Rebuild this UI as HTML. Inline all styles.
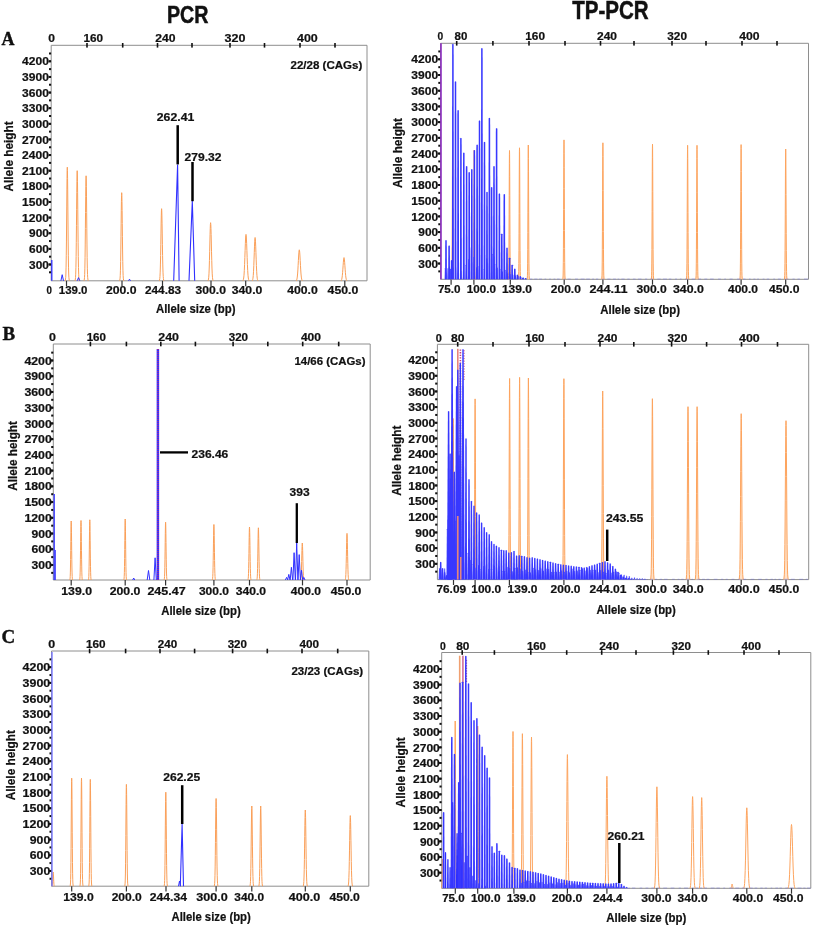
<!DOCTYPE html><html><head><meta charset="utf-8"><style>html,body{margin:0;padding:0;background:#fff;}svg{display:block;}</style></head><body>
<svg width="815" height="926" viewBox="0 0 815 926">
<rect width="815" height="926" fill="#fff"/>
<text x="166.9" y="22.9" font-family="'Liberation Sans', Arial, sans-serif" font-size="24.3" font-weight="bold" text-anchor="start" fill="#111" textLength="41.5" lengthAdjust="spacingAndGlyphs" stroke="#111" stroke-width="0.5">PCR</text>
<text x="572.3" y="19.3" font-family="'Liberation Sans', Arial, sans-serif" font-size="25" font-weight="bold" text-anchor="start" fill="#111" textLength="76.4" lengthAdjust="spacingAndGlyphs" stroke="#111" stroke-width="0.5">TP-PCR</text>
<line x1="51.20" y1="45.30" x2="367.00" y2="45.30" stroke="#8e8e8e" stroke-width="1"/>
<line x1="367.00" y1="45.30" x2="367.00" y2="280.80" stroke="#8e8e8e" stroke-width="1"/>
<line x1="51.20" y1="280.80" x2="367.00" y2="280.80" stroke="#8e8e8e" stroke-width="1"/>
<line x1="51.20" y1="45.30" x2="51.20" y2="280.80" stroke="#8e8e8e" stroke-width="1"/>
<rect x="49.00" y="52.48" width="2.1" height="2.0" fill="#111"/>
<rect x="49.00" y="60.30" width="2.1" height="2.0" fill="#111"/>
<rect x="49.00" y="68.11" width="2.1" height="2.0" fill="#111"/>
<rect x="49.00" y="75.93" width="2.1" height="2.0" fill="#111"/>
<rect x="49.00" y="83.74" width="2.1" height="2.0" fill="#111"/>
<rect x="49.00" y="91.56" width="2.1" height="2.0" fill="#111"/>
<rect x="49.00" y="99.37" width="2.1" height="2.0" fill="#111"/>
<rect x="49.00" y="107.19" width="2.1" height="2.0" fill="#111"/>
<rect x="49.00" y="115.00" width="2.1" height="2.0" fill="#111"/>
<rect x="49.00" y="122.82" width="2.1" height="2.0" fill="#111"/>
<rect x="49.00" y="130.63" width="2.1" height="2.0" fill="#111"/>
<rect x="49.00" y="138.45" width="2.1" height="2.0" fill="#111"/>
<rect x="49.00" y="146.26" width="2.1" height="2.0" fill="#111"/>
<rect x="49.00" y="154.08" width="2.1" height="2.0" fill="#111"/>
<rect x="49.00" y="161.89" width="2.1" height="2.0" fill="#111"/>
<rect x="49.00" y="169.71" width="2.1" height="2.0" fill="#111"/>
<rect x="49.00" y="177.52" width="2.1" height="2.0" fill="#111"/>
<rect x="49.00" y="185.34" width="2.1" height="2.0" fill="#111"/>
<rect x="49.00" y="193.15" width="2.1" height="2.0" fill="#111"/>
<rect x="49.00" y="200.97" width="2.1" height="2.0" fill="#111"/>
<rect x="49.00" y="208.78" width="2.1" height="2.0" fill="#111"/>
<rect x="49.00" y="216.60" width="2.1" height="2.0" fill="#111"/>
<rect x="49.00" y="224.41" width="2.1" height="2.0" fill="#111"/>
<rect x="49.00" y="232.23" width="2.1" height="2.0" fill="#111"/>
<rect x="49.00" y="240.04" width="2.1" height="2.0" fill="#111"/>
<rect x="49.00" y="247.86" width="2.1" height="2.0" fill="#111"/>
<rect x="49.00" y="255.67" width="2.1" height="2.0" fill="#111"/>
<rect x="49.00" y="263.49" width="2.1" height="2.0" fill="#111"/>
<rect x="49.00" y="271.30" width="2.1" height="2.0" fill="#111"/>
<rect x="48.50" y="60.40" width="2.4" height="1.8" fill="#111"/>
<text x="48.9" y="65.4" font-family="'Liberation Sans', Arial, sans-serif" font-size="11" font-weight="bold" text-anchor="end" fill="#111" textLength="26.8" lengthAdjust="spacingAndGlyphs" stroke="#111" stroke-width="0.22">4200</text>
<rect x="48.50" y="76.03" width="2.4" height="1.8" fill="#111"/>
<text x="48.9" y="81.0" font-family="'Liberation Sans', Arial, sans-serif" font-size="11" font-weight="bold" text-anchor="end" fill="#111" textLength="26.8" lengthAdjust="spacingAndGlyphs" stroke="#111" stroke-width="0.22">3900</text>
<rect x="48.50" y="91.66" width="2.4" height="1.8" fill="#111"/>
<text x="48.9" y="96.7" font-family="'Liberation Sans', Arial, sans-serif" font-size="11" font-weight="bold" text-anchor="end" fill="#111" textLength="26.8" lengthAdjust="spacingAndGlyphs" stroke="#111" stroke-width="0.22">3600</text>
<rect x="48.50" y="107.29" width="2.4" height="1.8" fill="#111"/>
<text x="48.9" y="112.3" font-family="'Liberation Sans', Arial, sans-serif" font-size="11" font-weight="bold" text-anchor="end" fill="#111" textLength="26.8" lengthAdjust="spacingAndGlyphs" stroke="#111" stroke-width="0.22">3300</text>
<rect x="48.50" y="122.92" width="2.4" height="1.8" fill="#111"/>
<text x="48.9" y="127.9" font-family="'Liberation Sans', Arial, sans-serif" font-size="11" font-weight="bold" text-anchor="end" fill="#111" textLength="26.8" lengthAdjust="spacingAndGlyphs" stroke="#111" stroke-width="0.22">3000</text>
<rect x="48.50" y="138.55" width="2.4" height="1.8" fill="#111"/>
<text x="48.9" y="143.5" font-family="'Liberation Sans', Arial, sans-serif" font-size="11" font-weight="bold" text-anchor="end" fill="#111" textLength="26.8" lengthAdjust="spacingAndGlyphs" stroke="#111" stroke-width="0.22">2700</text>
<rect x="48.50" y="154.18" width="2.4" height="1.8" fill="#111"/>
<text x="48.9" y="159.2" font-family="'Liberation Sans', Arial, sans-serif" font-size="11" font-weight="bold" text-anchor="end" fill="#111" textLength="26.8" lengthAdjust="spacingAndGlyphs" stroke="#111" stroke-width="0.22">2400</text>
<rect x="48.50" y="169.81" width="2.4" height="1.8" fill="#111"/>
<text x="48.9" y="174.8" font-family="'Liberation Sans', Arial, sans-serif" font-size="11" font-weight="bold" text-anchor="end" fill="#111" textLength="26.8" lengthAdjust="spacingAndGlyphs" stroke="#111" stroke-width="0.22">2100</text>
<rect x="48.50" y="185.44" width="2.4" height="1.8" fill="#111"/>
<text x="48.9" y="190.4" font-family="'Liberation Sans', Arial, sans-serif" font-size="11" font-weight="bold" text-anchor="end" fill="#111" textLength="26.8" lengthAdjust="spacingAndGlyphs" stroke="#111" stroke-width="0.22">1800</text>
<rect x="48.50" y="201.07" width="2.4" height="1.8" fill="#111"/>
<text x="48.9" y="206.1" font-family="'Liberation Sans', Arial, sans-serif" font-size="11" font-weight="bold" text-anchor="end" fill="#111" textLength="26.8" lengthAdjust="spacingAndGlyphs" stroke="#111" stroke-width="0.22">1500</text>
<rect x="48.50" y="216.70" width="2.4" height="1.8" fill="#111"/>
<text x="48.9" y="221.7" font-family="'Liberation Sans', Arial, sans-serif" font-size="11" font-weight="bold" text-anchor="end" fill="#111" textLength="26.8" lengthAdjust="spacingAndGlyphs" stroke="#111" stroke-width="0.22">1200</text>
<rect x="48.50" y="232.33" width="2.4" height="1.8" fill="#111"/>
<text x="48.9" y="237.3" font-family="'Liberation Sans', Arial, sans-serif" font-size="11" font-weight="bold" text-anchor="end" fill="#111" textLength="19.8" lengthAdjust="spacingAndGlyphs" stroke="#111" stroke-width="0.22">900</text>
<rect x="48.50" y="247.96" width="2.4" height="1.8" fill="#111"/>
<text x="48.9" y="253.0" font-family="'Liberation Sans', Arial, sans-serif" font-size="11" font-weight="bold" text-anchor="end" fill="#111" textLength="19.8" lengthAdjust="spacingAndGlyphs" stroke="#111" stroke-width="0.22">600</text>
<rect x="48.50" y="263.59" width="2.4" height="1.8" fill="#111"/>
<text x="48.9" y="268.6" font-family="'Liberation Sans', Arial, sans-serif" font-size="11" font-weight="bold" text-anchor="end" fill="#111" textLength="19.8" lengthAdjust="spacingAndGlyphs" stroke="#111" stroke-width="0.22">300</text>
<rect x="86.20" y="43.00" width="1.6" height="4.6" fill="#111"/>
<rect x="121.90" y="43.00" width="1.6" height="4.6" fill="#111"/>
<rect x="156.70" y="43.00" width="1.6" height="4.6" fill="#111"/>
<rect x="191.20" y="43.00" width="1.6" height="4.6" fill="#111"/>
<rect x="229.20" y="43.00" width="1.6" height="4.6" fill="#111"/>
<rect x="263.70" y="43.00" width="1.6" height="4.6" fill="#111"/>
<rect x="299.20" y="43.00" width="1.6" height="4.6" fill="#111"/>
<rect x="334.20" y="43.00" width="1.6" height="4.6" fill="#111"/>
<text x="48.2" y="42.0" font-family="'Liberation Sans', Arial, sans-serif" font-size="11" font-weight="bold" text-anchor="start" fill="#111" textLength="6.7" lengthAdjust="spacingAndGlyphs" stroke="#111" stroke-width="0.22">0</text>
<text x="83.4" y="42.0" font-family="'Liberation Sans', Arial, sans-serif" font-size="11" font-weight="bold" text-anchor="start" fill="#111" textLength="19.6" lengthAdjust="spacingAndGlyphs" stroke="#111" stroke-width="0.22">160</text>
<text x="155.3" y="42.0" font-family="'Liberation Sans', Arial, sans-serif" font-size="11" font-weight="bold" text-anchor="start" fill="#111" textLength="20.3" lengthAdjust="spacingAndGlyphs" stroke="#111" stroke-width="0.22">240</text>
<text x="224.5" y="42.0" font-family="'Liberation Sans', Arial, sans-serif" font-size="11" font-weight="bold" text-anchor="start" fill="#111" textLength="20.9" lengthAdjust="spacingAndGlyphs" stroke="#111" stroke-width="0.22">320</text>
<text x="297.0" y="42.0" font-family="'Liberation Sans', Arial, sans-serif" font-size="11" font-weight="bold" text-anchor="start" fill="#111" textLength="20.8" lengthAdjust="spacingAndGlyphs" stroke="#111" stroke-width="0.22">400</text>
<line x1="66.50" y1="280.80" x2="66.50" y2="286.20" stroke="#333" stroke-width="1.2"/>
<line x1="122.00" y1="280.80" x2="122.00" y2="286.20" stroke="#333" stroke-width="1.2"/>
<line x1="162.50" y1="280.80" x2="162.50" y2="286.20" stroke="#333" stroke-width="1.2"/>
<line x1="211.00" y1="280.80" x2="211.00" y2="286.20" stroke="#333" stroke-width="1.2"/>
<line x1="245.70" y1="280.80" x2="245.70" y2="286.20" stroke="#333" stroke-width="1.2"/>
<line x1="300.00" y1="280.80" x2="300.00" y2="286.20" stroke="#333" stroke-width="1.2"/>
<line x1="344.80" y1="280.80" x2="344.80" y2="286.20" stroke="#333" stroke-width="1.2"/>
<text x="46.6" y="293.8" font-family="'Liberation Sans', Arial, sans-serif" font-size="11" font-weight="bold" text-anchor="start" fill="#111" textLength="5.4" lengthAdjust="spacingAndGlyphs" stroke="#111" stroke-width="0.22">0</text>
<text x="58.8" y="293.8" font-family="'Liberation Sans', Arial, sans-serif" font-size="11" font-weight="bold" text-anchor="start" fill="#111" textLength="28.7" lengthAdjust="spacingAndGlyphs" stroke="#111" stroke-width="0.22">139.0</text>
<text x="106.0" y="293.8" font-family="'Liberation Sans', Arial, sans-serif" font-size="11" font-weight="bold" text-anchor="start" fill="#111" textLength="30.5" lengthAdjust="spacingAndGlyphs" stroke="#111" stroke-width="0.22">200.0</text>
<text x="145.0" y="293.8" font-family="'Liberation Sans', Arial, sans-serif" font-size="11" font-weight="bold" text-anchor="start" fill="#111" textLength="36.0" lengthAdjust="spacingAndGlyphs" stroke="#111" stroke-width="0.22">244.83</text>
<text x="195.6" y="293.8" font-family="'Liberation Sans', Arial, sans-serif" font-size="11" font-weight="bold" text-anchor="start" fill="#111" textLength="30.4" lengthAdjust="spacingAndGlyphs" stroke="#111" stroke-width="0.22">300.0</text>
<text x="231.8" y="293.8" font-family="'Liberation Sans', Arial, sans-serif" font-size="11" font-weight="bold" text-anchor="start" fill="#111" textLength="30.5" lengthAdjust="spacingAndGlyphs" stroke="#111" stroke-width="0.22">340.0</text>
<text x="287.2" y="293.8" font-family="'Liberation Sans', Arial, sans-serif" font-size="11" font-weight="bold" text-anchor="start" fill="#111" textLength="30.5" lengthAdjust="spacingAndGlyphs" stroke="#111" stroke-width="0.22">400.0</text>
<text x="327.6" y="293.8" font-family="'Liberation Sans', Arial, sans-serif" font-size="11" font-weight="bold" text-anchor="start" fill="#111" textLength="30.6" lengthAdjust="spacingAndGlyphs" stroke="#111" stroke-width="0.22">450.0</text>
<text x="156.0" y="313.2" font-family="'Liberation Sans', Arial, sans-serif" font-size="12" font-weight="bold" text-anchor="start" fill="#111" textLength="79.5" lengthAdjust="spacingAndGlyphs" stroke="#111" stroke-width="0.22">Allele size (bp)</text>
<text transform="translate(13.0,191.5) rotate(-90)" x="0" y="0" font-family="'Liberation Sans', Arial, sans-serif" font-size="12" font-weight="bold" fill="#111" stroke="#111" stroke-width="0.22" textLength="70.2" lengthAdjust="spacingAndGlyphs">Allele height</text>
<polyline points="65.30,280.80 65.72,277.39 65.89,273.98 66.07,267.17 66.26,255.81 66.44,241.04 66.60,224.00 66.75,206.96 66.90,189.92 67.03,178.56 67.15,170.61 67.30,167.20 67.45,170.61 67.57,178.56 67.70,189.92 67.85,206.96 68.00,224.00 68.16,241.04 68.34,255.81 68.53,267.17 68.71,273.98 68.88,277.39 69.30,280.80" fill="none" stroke="#fa9f58" stroke-width="1.0" stroke-linejoin="round"/>
<polyline points="75.10,280.80 75.54,277.50 75.71,274.19 75.91,267.59 76.11,256.58 76.29,242.27 76.46,225.75 76.62,209.24 76.78,192.72 76.91,181.71 77.05,174.00 77.20,170.70 77.35,174.00 77.49,181.71 77.62,192.72 77.78,209.24 77.94,225.75 78.11,242.27 78.29,256.58 78.49,267.59 78.69,274.19 78.86,277.50 79.30,280.80" fill="none" stroke="#fa9f58" stroke-width="1.0" stroke-linejoin="round"/>
<polyline points="84.10,280.80 84.51,277.65 84.68,274.50 84.87,268.20 85.06,257.70 85.23,244.05 85.39,228.30 85.54,212.55 85.70,196.80 85.82,186.30 85.95,178.95 86.10,175.80 86.25,178.95 86.38,186.30 86.50,196.80 86.66,212.55 86.81,228.30 86.97,244.05 87.14,257.70 87.33,268.20 87.52,274.50 87.69,277.65 88.10,280.80" fill="none" stroke="#fa9f58" stroke-width="1.0" stroke-linejoin="round"/>
<polyline points="119.70,280.80 120.09,278.16 120.26,275.51 120.45,270.23 120.64,261.42 120.82,249.97 120.98,236.75 121.13,223.53 121.29,210.32 121.42,201.51 121.55,195.34 121.70,192.70 121.85,195.34 121.98,201.51 122.11,210.32 122.27,223.53 122.42,236.75 122.58,249.97 122.76,261.42 122.95,270.23 123.14,275.51 123.31,278.16 123.70,280.80" fill="none" stroke="#fa9f58" stroke-width="1.0" stroke-linejoin="round"/>
<polyline points="159.40,280.80 159.79,278.64 159.98,276.47 160.19,272.15 160.41,264.94 160.61,255.56 160.80,244.75 160.97,233.94 161.14,223.12 161.29,215.91 161.43,210.86 161.60,208.70 161.77,210.86 161.91,215.91 162.06,223.12 162.23,233.94 162.40,244.75 162.59,255.56 162.79,264.94 163.01,272.15 163.22,276.47 163.41,278.64 163.80,280.80" fill="none" stroke="#fa9f58" stroke-width="1.0" stroke-linejoin="round"/>
<polyline points="208.10,280.80 208.50,279.06 208.72,277.31 208.97,273.83 209.22,268.02 209.45,260.47 209.67,251.75 209.86,243.03 210.07,234.32 210.24,228.51 210.40,224.44 210.60,222.70 210.80,224.44 210.96,228.51 211.13,234.32 211.34,243.03 211.53,251.75 211.75,260.47 211.98,268.02 212.23,273.83 212.48,277.31 212.70,279.06 213.10,280.80" fill="none" stroke="#fa9f58" stroke-width="1.0" stroke-linejoin="round"/>
<polyline points="243.00,280.80 243.42,279.41 243.69,278.02 244.00,275.23 244.31,270.59 244.59,264.56 244.85,257.60 245.10,250.64 245.35,243.68 245.55,239.04 245.76,235.79 246.00,234.40 246.24,235.79 246.45,239.04 246.65,243.68 246.90,250.64 247.15,257.60 247.41,264.56 247.69,270.59 248.00,275.23 248.31,278.02 248.58,279.41 249.00,280.80" fill="none" stroke="#fa9f58" stroke-width="1.0" stroke-linejoin="round"/>
<polyline points="252.35,280.80 252.72,279.50 252.97,278.20 253.25,275.60 253.54,271.27 253.80,265.64 254.04,259.15 254.27,252.66 254.50,246.16 254.69,241.83 254.88,238.80 255.10,237.50 255.32,238.80 255.51,241.83 255.70,246.16 255.93,252.66 256.16,259.15 256.40,265.64 256.66,271.27 256.95,275.60 257.23,278.20 257.48,279.50 257.85,280.80" fill="none" stroke="#fa9f58" stroke-width="1.0" stroke-linejoin="round"/>
<polyline points="296.40,280.80 296.70,279.87 296.97,278.94 297.28,277.08 297.59,273.98 297.88,269.95 298.14,265.30 298.39,260.65 298.64,256.00 298.85,252.90 299.06,250.73 299.30,249.80 299.54,250.73 299.75,252.90 299.96,256.00 300.21,260.65 300.46,265.30 300.72,269.95 301.01,273.98 301.32,277.08 301.63,278.94 301.90,279.87 302.20,280.80" fill="none" stroke="#fa9f58" stroke-width="1.0" stroke-linejoin="round"/>
<polyline points="341.25,280.80 341.44,280.10 341.71,279.41 342.01,278.02 342.32,275.70 342.60,272.68 342.86,269.20 343.10,265.72 343.36,262.24 343.56,259.92 343.76,258.30 344.00,257.60 344.24,258.30 344.44,259.92 344.64,262.24 344.90,265.72 345.14,269.20 345.40,272.68 345.68,275.70 345.99,278.02 346.29,279.41 346.56,280.10 346.75,280.80" fill="none" stroke="#fa9f58" stroke-width="1.0" stroke-linejoin="round"/>
<line x1="51.80" y1="280.80" x2="51.80" y2="260.00" stroke="#3030ff" stroke-width="1.3"/>
<polyline points="60.90,280.80 62.20,274.70 63.50,280.80" fill="none" stroke="#3030ff" stroke-width="1.0" stroke-linejoin="miter" opacity="1"/>
<polyline points="77.20,280.80 78.50,277.60 79.80,280.80" fill="none" stroke="#3030ff" stroke-width="1.0" stroke-linejoin="miter" opacity="1"/>
<polyline points="128.50,280.80 129.50,279.20 130.50,280.80" fill="none" stroke="#3030ff" stroke-width="1.0" stroke-linejoin="miter" opacity="1"/>
<polyline points="173.70,280.80 177.60,164.40 179.10,280.80" fill="none" stroke="#3030ff" stroke-width="1.1" stroke-linejoin="miter" opacity="1"/>
<polyline points="189.00,280.80 192.30,201.00 194.70,280.80" fill="none" stroke="#3030ff" stroke-width="1.1" stroke-linejoin="miter" opacity="1"/>
<line x1="177.70" y1="125.20" x2="177.70" y2="164.40" stroke="#000" stroke-width="2.5"/>
<line x1="192.50" y1="162.00" x2="192.50" y2="201.20" stroke="#000" stroke-width="2.5"/>
<text x="156.8" y="120.8" font-family="'Liberation Sans', Arial, sans-serif" font-size="11" font-weight="bold" text-anchor="start" fill="#111" textLength="37.5" lengthAdjust="spacingAndGlyphs" stroke="#111" stroke-width="0.22">262.41</text>
<text x="184.6" y="161.1" font-family="'Liberation Sans', Arial, sans-serif" font-size="11" font-weight="bold" text-anchor="start" fill="#111" textLength="36.9" lengthAdjust="spacingAndGlyphs" stroke="#111" stroke-width="0.22">279.32</text>
<text x="290.5" y="68.9" font-family="'Liberation Sans', Arial, sans-serif" font-size="11" font-weight="bold" text-anchor="start" fill="#111" textLength="71.8" lengthAdjust="spacingAndGlyphs" stroke="#111" stroke-width="0.22">22/28 (CAGs)</text>
<text x="1.4" y="45.2" font-family="'Liberation Serif', 'Times New Roman', serif" font-size="19" font-weight="bold" text-anchor="start" fill="#111" textLength="13.0" lengthAdjust="spacingAndGlyphs" stroke="#000" stroke-width="0.35">A</text>
<line x1="53.30" y1="344.00" x2="370.20" y2="344.00" stroke="#8e8e8e" stroke-width="1"/>
<line x1="370.20" y1="344.00" x2="370.20" y2="580.00" stroke="#8e8e8e" stroke-width="1"/>
<line x1="53.30" y1="580.00" x2="370.20" y2="580.00" stroke="#8e8e8e" stroke-width="1"/>
<line x1="53.30" y1="344.00" x2="53.30" y2="580.00" stroke="#8e8e8e" stroke-width="1"/>
<rect x="51.20" y="351.63" width="2.1" height="2.0" fill="#111"/>
<rect x="51.20" y="359.50" width="2.1" height="2.0" fill="#111"/>
<rect x="51.20" y="367.37" width="2.1" height="2.0" fill="#111"/>
<rect x="51.20" y="375.23" width="2.1" height="2.0" fill="#111"/>
<rect x="51.20" y="383.10" width="2.1" height="2.0" fill="#111"/>
<rect x="51.20" y="390.96" width="2.1" height="2.0" fill="#111"/>
<rect x="51.20" y="398.83" width="2.1" height="2.0" fill="#111"/>
<rect x="51.20" y="406.69" width="2.1" height="2.0" fill="#111"/>
<rect x="51.20" y="414.56" width="2.1" height="2.0" fill="#111"/>
<rect x="51.20" y="422.42" width="2.1" height="2.0" fill="#111"/>
<rect x="51.20" y="430.29" width="2.1" height="2.0" fill="#111"/>
<rect x="51.20" y="438.15" width="2.1" height="2.0" fill="#111"/>
<rect x="51.20" y="446.02" width="2.1" height="2.0" fill="#111"/>
<rect x="51.20" y="453.88" width="2.1" height="2.0" fill="#111"/>
<rect x="51.20" y="461.75" width="2.1" height="2.0" fill="#111"/>
<rect x="51.20" y="469.61" width="2.1" height="2.0" fill="#111"/>
<rect x="51.20" y="477.48" width="2.1" height="2.0" fill="#111"/>
<rect x="51.20" y="485.34" width="2.1" height="2.0" fill="#111"/>
<rect x="51.20" y="493.21" width="2.1" height="2.0" fill="#111"/>
<rect x="51.20" y="501.07" width="2.1" height="2.0" fill="#111"/>
<rect x="51.20" y="508.94" width="2.1" height="2.0" fill="#111"/>
<rect x="51.20" y="516.80" width="2.1" height="2.0" fill="#111"/>
<rect x="51.20" y="524.67" width="2.1" height="2.0" fill="#111"/>
<rect x="51.20" y="532.53" width="2.1" height="2.0" fill="#111"/>
<rect x="51.20" y="540.40" width="2.1" height="2.0" fill="#111"/>
<rect x="51.20" y="548.26" width="2.1" height="2.0" fill="#111"/>
<rect x="51.20" y="556.13" width="2.1" height="2.0" fill="#111"/>
<rect x="51.20" y="563.99" width="2.1" height="2.0" fill="#111"/>
<rect x="51.20" y="571.86" width="2.1" height="2.0" fill="#111"/>
<rect x="50.70" y="359.60" width="2.4" height="1.8" fill="#111"/>
<text x="51.8" y="364.6" font-family="'Liberation Sans', Arial, sans-serif" font-size="11" font-weight="bold" text-anchor="end" fill="#111" textLength="27.4" lengthAdjust="spacingAndGlyphs" stroke="#111" stroke-width="0.22">4200</text>
<rect x="50.70" y="375.33" width="2.4" height="1.8" fill="#111"/>
<text x="51.8" y="380.3" font-family="'Liberation Sans', Arial, sans-serif" font-size="11" font-weight="bold" text-anchor="end" fill="#111" textLength="27.4" lengthAdjust="spacingAndGlyphs" stroke="#111" stroke-width="0.22">3900</text>
<rect x="50.70" y="391.06" width="2.4" height="1.8" fill="#111"/>
<text x="51.8" y="396.1" font-family="'Liberation Sans', Arial, sans-serif" font-size="11" font-weight="bold" text-anchor="end" fill="#111" textLength="27.4" lengthAdjust="spacingAndGlyphs" stroke="#111" stroke-width="0.22">3600</text>
<rect x="50.70" y="406.79" width="2.4" height="1.8" fill="#111"/>
<text x="51.8" y="411.8" font-family="'Liberation Sans', Arial, sans-serif" font-size="11" font-weight="bold" text-anchor="end" fill="#111" textLength="27.4" lengthAdjust="spacingAndGlyphs" stroke="#111" stroke-width="0.22">3300</text>
<rect x="50.70" y="422.52" width="2.4" height="1.8" fill="#111"/>
<text x="51.8" y="427.5" font-family="'Liberation Sans', Arial, sans-serif" font-size="11" font-weight="bold" text-anchor="end" fill="#111" textLength="27.4" lengthAdjust="spacingAndGlyphs" stroke="#111" stroke-width="0.22">3000</text>
<rect x="50.70" y="438.25" width="2.4" height="1.8" fill="#111"/>
<text x="51.8" y="443.2" font-family="'Liberation Sans', Arial, sans-serif" font-size="11" font-weight="bold" text-anchor="end" fill="#111" textLength="27.4" lengthAdjust="spacingAndGlyphs" stroke="#111" stroke-width="0.22">2700</text>
<rect x="50.70" y="453.98" width="2.4" height="1.8" fill="#111"/>
<text x="51.8" y="459.0" font-family="'Liberation Sans', Arial, sans-serif" font-size="11" font-weight="bold" text-anchor="end" fill="#111" textLength="27.4" lengthAdjust="spacingAndGlyphs" stroke="#111" stroke-width="0.22">2400</text>
<rect x="50.70" y="469.71" width="2.4" height="1.8" fill="#111"/>
<text x="51.8" y="474.7" font-family="'Liberation Sans', Arial, sans-serif" font-size="11" font-weight="bold" text-anchor="end" fill="#111" textLength="27.4" lengthAdjust="spacingAndGlyphs" stroke="#111" stroke-width="0.22">2100</text>
<rect x="50.70" y="485.44" width="2.4" height="1.8" fill="#111"/>
<text x="51.8" y="490.4" font-family="'Liberation Sans', Arial, sans-serif" font-size="11" font-weight="bold" text-anchor="end" fill="#111" textLength="27.4" lengthAdjust="spacingAndGlyphs" stroke="#111" stroke-width="0.22">1800</text>
<rect x="50.70" y="501.17" width="2.4" height="1.8" fill="#111"/>
<text x="51.8" y="506.2" font-family="'Liberation Sans', Arial, sans-serif" font-size="11" font-weight="bold" text-anchor="end" fill="#111" textLength="27.4" lengthAdjust="spacingAndGlyphs" stroke="#111" stroke-width="0.22">1500</text>
<rect x="50.70" y="516.90" width="2.4" height="1.8" fill="#111"/>
<text x="51.8" y="521.9" font-family="'Liberation Sans', Arial, sans-serif" font-size="11" font-weight="bold" text-anchor="end" fill="#111" textLength="27.4" lengthAdjust="spacingAndGlyphs" stroke="#111" stroke-width="0.22">1200</text>
<rect x="50.70" y="532.63" width="2.4" height="1.8" fill="#111"/>
<text x="51.8" y="537.6" font-family="'Liberation Sans', Arial, sans-serif" font-size="11" font-weight="bold" text-anchor="end" fill="#111" textLength="20.3" lengthAdjust="spacingAndGlyphs" stroke="#111" stroke-width="0.22">900</text>
<rect x="50.70" y="548.36" width="2.4" height="1.8" fill="#111"/>
<text x="51.8" y="553.4" font-family="'Liberation Sans', Arial, sans-serif" font-size="11" font-weight="bold" text-anchor="end" fill="#111" textLength="20.3" lengthAdjust="spacingAndGlyphs" stroke="#111" stroke-width="0.22">600</text>
<rect x="50.70" y="564.09" width="2.4" height="1.8" fill="#111"/>
<text x="51.8" y="569.1" font-family="'Liberation Sans', Arial, sans-serif" font-size="11" font-weight="bold" text-anchor="end" fill="#111" textLength="20.3" lengthAdjust="spacingAndGlyphs" stroke="#111" stroke-width="0.22">300</text>
<rect x="89.60" y="341.70" width="1.6" height="4.6" fill="#111"/>
<rect x="125.60" y="341.70" width="1.6" height="4.6" fill="#111"/>
<rect x="160.00" y="341.70" width="1.6" height="4.6" fill="#111"/>
<rect x="194.60" y="341.70" width="1.6" height="4.6" fill="#111"/>
<rect x="232.30" y="341.70" width="1.6" height="4.6" fill="#111"/>
<rect x="267.00" y="341.70" width="1.6" height="4.6" fill="#111"/>
<rect x="301.90" y="341.70" width="1.6" height="4.6" fill="#111"/>
<rect x="337.90" y="341.70" width="1.6" height="4.6" fill="#111"/>
<text x="49.1" y="341.3" font-family="'Liberation Sans', Arial, sans-serif" font-size="11" font-weight="bold" text-anchor="start" fill="#111" textLength="6.9" lengthAdjust="spacingAndGlyphs" stroke="#111" stroke-width="0.22">0</text>
<text x="86.7" y="341.3" font-family="'Liberation Sans', Arial, sans-serif" font-size="11" font-weight="bold" text-anchor="start" fill="#111" textLength="19.3" lengthAdjust="spacingAndGlyphs" stroke="#111" stroke-width="0.22">160</text>
<text x="158.3" y="341.3" font-family="'Liberation Sans', Arial, sans-serif" font-size="11" font-weight="bold" text-anchor="start" fill="#111" textLength="20.7" lengthAdjust="spacingAndGlyphs" stroke="#111" stroke-width="0.22">240</text>
<text x="228.7" y="341.3" font-family="'Liberation Sans', Arial, sans-serif" font-size="11" font-weight="bold" text-anchor="start" fill="#111" textLength="19.4" lengthAdjust="spacingAndGlyphs" stroke="#111" stroke-width="0.22">320</text>
<text x="300.9" y="341.3" font-family="'Liberation Sans', Arial, sans-serif" font-size="11" font-weight="bold" text-anchor="start" fill="#111" textLength="20.1" lengthAdjust="spacingAndGlyphs" stroke="#111" stroke-width="0.22">400</text>
<line x1="71.20" y1="580.00" x2="71.20" y2="585.40" stroke="#333" stroke-width="1.2"/>
<line x1="125.20" y1="580.00" x2="125.20" y2="585.40" stroke="#333" stroke-width="1.2"/>
<line x1="165.60" y1="580.00" x2="165.60" y2="585.40" stroke="#333" stroke-width="1.2"/>
<line x1="213.90" y1="580.00" x2="213.90" y2="585.40" stroke="#333" stroke-width="1.2"/>
<line x1="249.50" y1="580.00" x2="249.50" y2="585.40" stroke="#333" stroke-width="1.2"/>
<line x1="302.50" y1="580.00" x2="302.50" y2="585.40" stroke="#333" stroke-width="1.2"/>
<line x1="347.00" y1="580.00" x2="347.00" y2="585.40" stroke="#333" stroke-width="1.2"/>
<text x="61.3" y="594.5" font-family="'Liberation Sans', Arial, sans-serif" font-size="11" font-weight="bold" text-anchor="start" fill="#111" textLength="30.7" lengthAdjust="spacingAndGlyphs" stroke="#111" stroke-width="0.22">139.0</text>
<text x="109.7" y="594.5" font-family="'Liberation Sans', Arial, sans-serif" font-size="11" font-weight="bold" text-anchor="start" fill="#111" textLength="30.7" lengthAdjust="spacingAndGlyphs" stroke="#111" stroke-width="0.22">200.0</text>
<text x="147.4" y="594.5" font-family="'Liberation Sans', Arial, sans-serif" font-size="11" font-weight="bold" text-anchor="start" fill="#111" textLength="38.2" lengthAdjust="spacingAndGlyphs" stroke="#111" stroke-width="0.22">245.47</text>
<text x="198.9" y="594.5" font-family="'Liberation Sans', Arial, sans-serif" font-size="11" font-weight="bold" text-anchor="start" fill="#111" textLength="30.1" lengthAdjust="spacingAndGlyphs" stroke="#111" stroke-width="0.22">300.0</text>
<text x="235.7" y="594.5" font-family="'Liberation Sans', Arial, sans-serif" font-size="11" font-weight="bold" text-anchor="start" fill="#111" textLength="30.3" lengthAdjust="spacingAndGlyphs" stroke="#111" stroke-width="0.22">340.0</text>
<text x="290.8" y="594.5" font-family="'Liberation Sans', Arial, sans-serif" font-size="11" font-weight="bold" text-anchor="start" fill="#111" textLength="30.2" lengthAdjust="spacingAndGlyphs" stroke="#111" stroke-width="0.22">400.0</text>
<text x="330.8" y="594.5" font-family="'Liberation Sans', Arial, sans-serif" font-size="11" font-weight="bold" text-anchor="start" fill="#111" textLength="30.6" lengthAdjust="spacingAndGlyphs" stroke="#111" stroke-width="0.22">450.0</text>
<text x="161.2" y="614.8" font-family="'Liberation Sans', Arial, sans-serif" font-size="12" font-weight="bold" text-anchor="start" fill="#111" textLength="79.5" lengthAdjust="spacingAndGlyphs" stroke="#111" stroke-width="0.22">Allele size (bp)</text>
<text transform="translate(16.8,490.7) rotate(-90)" x="0" y="0" font-family="'Liberation Sans', Arial, sans-serif" font-size="12" font-weight="bold" fill="#111" stroke="#111" stroke-width="0.22" textLength="69.6" lengthAdjust="spacingAndGlyphs">Allele height</text>
<polyline points="69.90,580.00 70.11,578.23 70.22,576.46 70.35,572.92 70.48,567.02 70.60,559.35 70.72,550.50 70.82,541.65 70.93,532.80 71.01,526.90 71.10,522.77 71.20,521.00 71.30,522.77 71.39,526.90 71.47,532.80 71.58,541.65 71.68,550.50 71.80,559.35 71.92,567.02 72.05,572.92 72.18,576.46 72.29,578.23 72.50,580.00" fill="none" stroke="#fa9f58" stroke-width="1.0" stroke-linejoin="round"/>
<polyline points="79.70,580.00 79.91,578.22 80.03,576.43 80.15,572.86 80.28,566.91 80.40,559.17 80.52,550.25 80.62,541.33 80.73,532.40 80.81,526.45 80.90,522.28 81.00,520.50 81.10,522.28 81.19,526.45 81.27,532.40 81.38,541.33 81.48,550.25 81.60,559.17 81.72,566.91 81.85,572.86 81.97,576.43 82.09,578.22 82.30,580.00" fill="none" stroke="#fa9f58" stroke-width="1.0" stroke-linejoin="round"/>
<polyline points="88.50,580.00 88.71,578.19 88.83,576.39 88.95,572.78 89.09,566.76 89.21,558.93 89.32,549.90 89.42,540.87 89.53,531.84 89.61,525.82 89.70,521.61 89.80,519.80 89.90,521.61 89.99,525.82 90.07,531.84 90.18,540.87 90.28,549.90 90.39,558.93 90.51,566.76 90.65,572.78 90.77,576.39 90.89,578.19 91.10,580.00" fill="none" stroke="#fa9f58" stroke-width="1.0" stroke-linejoin="round"/>
<polyline points="123.90,580.00 124.11,578.17 124.23,576.34 124.36,572.68 124.49,566.58 124.61,558.65 124.72,549.50 124.82,540.35 124.93,531.20 125.01,525.10 125.10,520.83 125.20,519.00 125.30,520.83 125.39,525.10 125.47,531.20 125.58,540.35 125.68,549.50 125.79,558.65 125.91,566.58 126.04,572.68 126.17,576.34 126.29,578.17 126.50,580.00" fill="none" stroke="#fa9f58" stroke-width="1.0" stroke-linejoin="round"/>
<polyline points="164.20,580.00 164.42,578.27 164.55,576.53 164.69,573.06 164.83,567.28 164.96,559.77 165.08,551.10 165.19,542.43 165.30,533.76 165.40,527.98 165.49,523.93 165.60,522.20 165.71,523.93 165.80,527.98 165.90,533.76 166.01,542.43 166.12,551.10 166.24,559.77 166.37,567.28 166.51,573.06 166.65,576.53 166.78,578.27 167.00,580.00" fill="none" stroke="#fa9f58" stroke-width="1.0" stroke-linejoin="round"/>
<polyline points="212.40,580.00 212.64,578.34 212.77,576.67 212.92,573.34 213.07,567.79 213.21,560.58 213.34,552.25 213.46,543.92 213.58,535.60 213.68,530.05 213.78,526.16 213.90,524.50 214.02,526.16 214.12,530.05 214.22,535.60 214.34,543.92 214.46,552.25 214.59,560.58 214.73,567.79 214.88,573.34 215.03,576.67 215.16,578.34 215.40,580.00" fill="none" stroke="#fa9f58" stroke-width="1.0" stroke-linejoin="round"/>
<polyline points="248.00,580.00 248.23,578.41 248.36,576.82 248.51,573.64 248.67,568.34 248.80,561.45 248.94,553.50 249.05,545.55 249.18,537.60 249.28,532.30 249.38,528.59 249.50,527.00 249.62,528.59 249.72,532.30 249.82,537.60 249.95,545.55 250.06,553.50 250.20,561.45 250.33,568.34 250.49,573.64 250.64,576.82 250.77,578.41 251.00,580.00" fill="none" stroke="#fa9f58" stroke-width="1.0" stroke-linejoin="round"/>
<polyline points="256.90,580.00 257.13,578.43 257.26,576.87 257.41,573.74 257.56,568.52 257.70,561.73 257.83,553.90 257.95,546.07 258.08,538.24 258.18,533.02 258.28,529.37 258.40,527.80 258.52,529.37 258.62,533.02 258.72,538.24 258.85,546.07 258.97,553.90 259.10,561.73 259.24,568.52 259.39,573.74 259.54,576.87 259.67,578.43 259.90,580.00" fill="none" stroke="#fa9f58" stroke-width="1.0" stroke-linejoin="round"/>
<polyline points="300.70,580.00 300.89,578.89 301.04,577.78 301.21,575.56 301.37,571.86 301.53,567.05 301.67,561.50 301.81,555.95 301.94,550.40 302.06,546.70 302.17,544.11 302.30,543.00 302.43,544.11 302.54,546.70 302.66,550.40 302.79,555.95 302.93,561.50 303.07,567.05 303.23,571.86 303.39,575.56 303.56,577.78 303.71,578.89 303.90,580.00" fill="none" stroke="#fa9f58" stroke-width="1.0" stroke-linejoin="round"/>
<polyline points="345.30,580.00 345.54,578.60 345.69,577.20 345.87,574.41 346.04,569.75 346.20,563.69 346.35,556.70 346.49,549.71 346.63,542.72 346.75,538.06 346.86,534.80 347.00,533.40 347.14,534.80 347.25,538.06 347.37,542.72 347.51,549.71 347.65,556.70 347.80,563.69 347.96,569.75 348.13,574.41 348.31,577.20 348.46,578.60 348.70,580.00" fill="none" stroke="#fa9f58" stroke-width="1.0" stroke-linejoin="round"/>
<line x1="54.20" y1="580.00" x2="54.20" y2="494.00" stroke="#3030ff" stroke-width="1.3"/>
<line x1="55.30" y1="580.00" x2="55.30" y2="550.00" stroke="#3030ff" stroke-width="1"/>
<polyline points="132.70,580.00 133.70,578.00 134.70,580.00" fill="none" stroke="#3030ff" stroke-width="1.0" stroke-linejoin="miter" opacity="1"/>
<polyline points="147.20,580.00 148.50,570.50 149.80,580.00" fill="none" stroke="#3030ff" stroke-width="1.0" stroke-linejoin="miter" opacity="1"/>
<polyline points="153.90,580.00 155.10,557.80 156.30,580.00" fill="none" stroke="#3030ff" stroke-width="1.0" stroke-linejoin="miter" opacity="1"/>
<line x1="157.90" y1="580.00" x2="157.90" y2="349.00" stroke="#3030ff" stroke-width="2.5"/>
<line x1="157.90" y1="580.00" x2="157.90" y2="349.00" stroke="#c02a80" stroke-width="1.3" stroke-dasharray="1,1"/>
<polyline points="285.40,580.00 286.60,577.40 287.80,580.00" fill="none" stroke="#3030ff" stroke-width="1.0" stroke-linejoin="miter" opacity="1"/>
<polyline points="287.60,580.00 288.80,574.40 290.00,580.00" fill="none" stroke="#3030ff" stroke-width="1.0" stroke-linejoin="miter" opacity="1"/>
<polyline points="290.20,580.00 291.40,567.30 292.60,580.00" fill="none" stroke="#3030ff" stroke-width="1.0" stroke-linejoin="miter" opacity="1"/>
<polyline points="292.90,580.00 294.10,552.70 295.30,580.00" fill="none" stroke="#3030ff" stroke-width="1.0" stroke-linejoin="miter" opacity="1"/>
<polyline points="295.50,580.00 296.70,543.00 297.90,580.00" fill="none" stroke="#3030ff" stroke-width="1.0" stroke-linejoin="miter" opacity="1"/>
<polyline points="298.00,580.00 299.20,554.60 300.40,580.00" fill="none" stroke="#3030ff" stroke-width="1.0" stroke-linejoin="miter" opacity="1"/>
<polyline points="300.30,580.00 301.50,570.30 302.70,580.00" fill="none" stroke="#3030ff" stroke-width="1.0" stroke-linejoin="miter" opacity="1"/>
<polyline points="302.60,580.00 303.80,577.40 305.00,580.00" fill="none" stroke="#3030ff" stroke-width="1.0" stroke-linejoin="miter" opacity="1"/>
<line x1="160.00" y1="452.40" x2="188.00" y2="452.40" stroke="#000" stroke-width="2.3"/>
<line x1="296.80" y1="503.20" x2="296.80" y2="543.00" stroke="#000" stroke-width="2.3"/>
<text x="191.5" y="457.9" font-family="'Liberation Sans', Arial, sans-serif" font-size="11" font-weight="bold" text-anchor="start" fill="#111" textLength="36.8" lengthAdjust="spacingAndGlyphs" stroke="#111" stroke-width="0.22">236.46</text>
<text x="289.6" y="496.1" font-family="'Liberation Sans', Arial, sans-serif" font-size="11" font-weight="bold" text-anchor="start" fill="#111" textLength="20.0" lengthAdjust="spacingAndGlyphs" stroke="#111" stroke-width="0.22">393</text>
<text x="294.5" y="365.4" font-family="'Liberation Sans', Arial, sans-serif" font-size="11" font-weight="bold" text-anchor="start" fill="#111" textLength="71.0" lengthAdjust="spacingAndGlyphs" stroke="#111" stroke-width="0.22">14/66 (CAGs)</text>
<text x="2.5" y="340.3" font-family="'Liberation Serif', 'Times New Roman', serif" font-size="19" font-weight="bold" text-anchor="start" fill="#111" stroke="#000" stroke-width="0.35">B</text>
<line x1="51.50" y1="651.00" x2="368.80" y2="651.00" stroke="#8e8e8e" stroke-width="1"/>
<line x1="368.80" y1="651.00" x2="368.80" y2="886.20" stroke="#8e8e8e" stroke-width="1"/>
<line x1="51.50" y1="886.20" x2="368.80" y2="886.20" stroke="#8e8e8e" stroke-width="1"/>
<line x1="51.50" y1="651.00" x2="51.50" y2="886.20" stroke="#8e8e8e" stroke-width="1"/>
<rect x="49.50" y="658.37" width="2.1" height="2.0" fill="#111"/>
<rect x="49.50" y="666.20" width="2.1" height="2.0" fill="#111"/>
<rect x="49.50" y="674.04" width="2.1" height="2.0" fill="#111"/>
<rect x="49.50" y="681.87" width="2.1" height="2.0" fill="#111"/>
<rect x="49.50" y="689.71" width="2.1" height="2.0" fill="#111"/>
<rect x="49.50" y="697.54" width="2.1" height="2.0" fill="#111"/>
<rect x="49.50" y="705.38" width="2.1" height="2.0" fill="#111"/>
<rect x="49.50" y="713.21" width="2.1" height="2.0" fill="#111"/>
<rect x="49.50" y="721.05" width="2.1" height="2.0" fill="#111"/>
<rect x="49.50" y="728.88" width="2.1" height="2.0" fill="#111"/>
<rect x="49.50" y="736.72" width="2.1" height="2.0" fill="#111"/>
<rect x="49.50" y="744.55" width="2.1" height="2.0" fill="#111"/>
<rect x="49.50" y="752.39" width="2.1" height="2.0" fill="#111"/>
<rect x="49.50" y="760.22" width="2.1" height="2.0" fill="#111"/>
<rect x="49.50" y="768.06" width="2.1" height="2.0" fill="#111"/>
<rect x="49.50" y="775.89" width="2.1" height="2.0" fill="#111"/>
<rect x="49.50" y="783.73" width="2.1" height="2.0" fill="#111"/>
<rect x="49.50" y="791.56" width="2.1" height="2.0" fill="#111"/>
<rect x="49.50" y="799.40" width="2.1" height="2.0" fill="#111"/>
<rect x="49.50" y="807.23" width="2.1" height="2.0" fill="#111"/>
<rect x="49.50" y="815.07" width="2.1" height="2.0" fill="#111"/>
<rect x="49.50" y="822.90" width="2.1" height="2.0" fill="#111"/>
<rect x="49.50" y="830.74" width="2.1" height="2.0" fill="#111"/>
<rect x="49.50" y="838.57" width="2.1" height="2.0" fill="#111"/>
<rect x="49.50" y="846.41" width="2.1" height="2.0" fill="#111"/>
<rect x="49.50" y="854.24" width="2.1" height="2.0" fill="#111"/>
<rect x="49.50" y="862.08" width="2.1" height="2.0" fill="#111"/>
<rect x="49.50" y="869.91" width="2.1" height="2.0" fill="#111"/>
<rect x="49.50" y="877.75" width="2.1" height="2.0" fill="#111"/>
<rect x="49.00" y="666.30" width="2.4" height="1.8" fill="#111"/>
<text x="50.2" y="671.3" font-family="'Liberation Sans', Arial, sans-serif" font-size="11" font-weight="bold" text-anchor="end" fill="#111" textLength="27.6" lengthAdjust="spacingAndGlyphs" stroke="#111" stroke-width="0.22">4200</text>
<rect x="49.00" y="681.97" width="2.4" height="1.8" fill="#111"/>
<text x="50.2" y="687.0" font-family="'Liberation Sans', Arial, sans-serif" font-size="11" font-weight="bold" text-anchor="end" fill="#111" textLength="27.6" lengthAdjust="spacingAndGlyphs" stroke="#111" stroke-width="0.22">3900</text>
<rect x="49.00" y="697.64" width="2.4" height="1.8" fill="#111"/>
<text x="50.2" y="702.6" font-family="'Liberation Sans', Arial, sans-serif" font-size="11" font-weight="bold" text-anchor="end" fill="#111" textLength="27.6" lengthAdjust="spacingAndGlyphs" stroke="#111" stroke-width="0.22">3600</text>
<rect x="49.00" y="713.31" width="2.4" height="1.8" fill="#111"/>
<text x="50.2" y="718.3" font-family="'Liberation Sans', Arial, sans-serif" font-size="11" font-weight="bold" text-anchor="end" fill="#111" textLength="27.6" lengthAdjust="spacingAndGlyphs" stroke="#111" stroke-width="0.22">3300</text>
<rect x="49.00" y="728.98" width="2.4" height="1.8" fill="#111"/>
<text x="50.2" y="734.0" font-family="'Liberation Sans', Arial, sans-serif" font-size="11" font-weight="bold" text-anchor="end" fill="#111" textLength="27.6" lengthAdjust="spacingAndGlyphs" stroke="#111" stroke-width="0.22">3000</text>
<rect x="49.00" y="744.65" width="2.4" height="1.8" fill="#111"/>
<text x="50.2" y="749.7" font-family="'Liberation Sans', Arial, sans-serif" font-size="11" font-weight="bold" text-anchor="end" fill="#111" textLength="27.6" lengthAdjust="spacingAndGlyphs" stroke="#111" stroke-width="0.22">2700</text>
<rect x="49.00" y="760.32" width="2.4" height="1.8" fill="#111"/>
<text x="50.2" y="765.3" font-family="'Liberation Sans', Arial, sans-serif" font-size="11" font-weight="bold" text-anchor="end" fill="#111" textLength="27.6" lengthAdjust="spacingAndGlyphs" stroke="#111" stroke-width="0.22">2400</text>
<rect x="49.00" y="775.99" width="2.4" height="1.8" fill="#111"/>
<text x="50.2" y="781.0" font-family="'Liberation Sans', Arial, sans-serif" font-size="11" font-weight="bold" text-anchor="end" fill="#111" textLength="27.6" lengthAdjust="spacingAndGlyphs" stroke="#111" stroke-width="0.22">2100</text>
<rect x="49.00" y="791.66" width="2.4" height="1.8" fill="#111"/>
<text x="50.2" y="796.7" font-family="'Liberation Sans', Arial, sans-serif" font-size="11" font-weight="bold" text-anchor="end" fill="#111" textLength="27.6" lengthAdjust="spacingAndGlyphs" stroke="#111" stroke-width="0.22">1800</text>
<rect x="49.00" y="807.33" width="2.4" height="1.8" fill="#111"/>
<text x="50.2" y="812.3" font-family="'Liberation Sans', Arial, sans-serif" font-size="11" font-weight="bold" text-anchor="end" fill="#111" textLength="27.6" lengthAdjust="spacingAndGlyphs" stroke="#111" stroke-width="0.22">1500</text>
<rect x="49.00" y="823.00" width="2.4" height="1.8" fill="#111"/>
<text x="50.2" y="828.0" font-family="'Liberation Sans', Arial, sans-serif" font-size="11" font-weight="bold" text-anchor="end" fill="#111" textLength="27.6" lengthAdjust="spacingAndGlyphs" stroke="#111" stroke-width="0.22">1200</text>
<rect x="49.00" y="838.67" width="2.4" height="1.8" fill="#111"/>
<text x="50.2" y="843.7" font-family="'Liberation Sans', Arial, sans-serif" font-size="11" font-weight="bold" text-anchor="end" fill="#111" textLength="20.4" lengthAdjust="spacingAndGlyphs" stroke="#111" stroke-width="0.22">900</text>
<rect x="49.00" y="854.34" width="2.4" height="1.8" fill="#111"/>
<text x="50.2" y="859.3" font-family="'Liberation Sans', Arial, sans-serif" font-size="11" font-weight="bold" text-anchor="end" fill="#111" textLength="20.4" lengthAdjust="spacingAndGlyphs" stroke="#111" stroke-width="0.22">600</text>
<rect x="49.00" y="870.01" width="2.4" height="1.8" fill="#111"/>
<text x="50.2" y="875.0" font-family="'Liberation Sans', Arial, sans-serif" font-size="11" font-weight="bold" text-anchor="end" fill="#111" textLength="20.4" lengthAdjust="spacingAndGlyphs" stroke="#111" stroke-width="0.22">300</text>
<rect x="88.80" y="648.70" width="1.6" height="4.6" fill="#111"/>
<rect x="124.80" y="648.70" width="1.6" height="4.6" fill="#111"/>
<rect x="159.20" y="648.70" width="1.6" height="4.6" fill="#111"/>
<rect x="193.80" y="648.70" width="1.6" height="4.6" fill="#111"/>
<rect x="231.80" y="648.70" width="1.6" height="4.6" fill="#111"/>
<rect x="266.50" y="648.70" width="1.6" height="4.6" fill="#111"/>
<rect x="301.20" y="648.70" width="1.6" height="4.6" fill="#111"/>
<rect x="336.90" y="648.70" width="1.6" height="4.6" fill="#111"/>
<text x="48.3" y="647.7" font-family="'Liberation Sans', Arial, sans-serif" font-size="11" font-weight="bold" text-anchor="start" fill="#111" textLength="6.9" lengthAdjust="spacingAndGlyphs" stroke="#111" stroke-width="0.22">0</text>
<text x="85.9" y="647.7" font-family="'Liberation Sans', Arial, sans-serif" font-size="11" font-weight="bold" text-anchor="start" fill="#111" textLength="19.6" lengthAdjust="spacingAndGlyphs" stroke="#111" stroke-width="0.22">160</text>
<text x="157.8" y="647.7" font-family="'Liberation Sans', Arial, sans-serif" font-size="11" font-weight="bold" text-anchor="start" fill="#111" textLength="19.4" lengthAdjust="spacingAndGlyphs" stroke="#111" stroke-width="0.22">240</text>
<text x="227.7" y="647.7" font-family="'Liberation Sans', Arial, sans-serif" font-size="11" font-weight="bold" text-anchor="start" fill="#111" textLength="19.3" lengthAdjust="spacingAndGlyphs" stroke="#111" stroke-width="0.22">320</text>
<text x="299.4" y="647.7" font-family="'Liberation Sans', Arial, sans-serif" font-size="11" font-weight="bold" text-anchor="start" fill="#111" textLength="19.6" lengthAdjust="spacingAndGlyphs" stroke="#111" stroke-width="0.22">400</text>
<line x1="71.70" y1="886.20" x2="71.70" y2="891.60" stroke="#333" stroke-width="1.2"/>
<line x1="126.40" y1="886.20" x2="126.40" y2="891.60" stroke="#333" stroke-width="1.2"/>
<line x1="166.00" y1="886.20" x2="166.00" y2="891.60" stroke="#333" stroke-width="1.2"/>
<line x1="216.10" y1="886.20" x2="216.10" y2="891.60" stroke="#333" stroke-width="1.2"/>
<line x1="251.80" y1="886.20" x2="251.80" y2="891.60" stroke="#333" stroke-width="1.2"/>
<line x1="305.30" y1="886.20" x2="305.30" y2="891.60" stroke="#333" stroke-width="1.2"/>
<line x1="350.30" y1="886.20" x2="350.30" y2="891.60" stroke="#333" stroke-width="1.2"/>
<text x="63.3" y="900.6" font-family="'Liberation Sans', Arial, sans-serif" font-size="11" font-weight="bold" text-anchor="start" fill="#111" textLength="30.4" lengthAdjust="spacingAndGlyphs" stroke="#111" stroke-width="0.22">139.0</text>
<text x="111.7" y="900.6" font-family="'Liberation Sans', Arial, sans-serif" font-size="11" font-weight="bold" text-anchor="start" fill="#111" textLength="30.1" lengthAdjust="spacingAndGlyphs" stroke="#111" stroke-width="0.22">200.0</text>
<text x="149.7" y="900.6" font-family="'Liberation Sans', Arial, sans-serif" font-size="11" font-weight="bold" text-anchor="start" fill="#111" textLength="37.3" lengthAdjust="spacingAndGlyphs" stroke="#111" stroke-width="0.22">244.34</text>
<text x="196.3" y="900.6" font-family="'Liberation Sans', Arial, sans-serif" font-size="11" font-weight="bold" text-anchor="start" fill="#111" textLength="31.4" lengthAdjust="spacingAndGlyphs" stroke="#111" stroke-width="0.22">300.0</text>
<text x="234.3" y="900.6" font-family="'Liberation Sans', Arial, sans-serif" font-size="11" font-weight="bold" text-anchor="start" fill="#111" textLength="29.7" lengthAdjust="spacingAndGlyphs" stroke="#111" stroke-width="0.22">340.0</text>
<text x="288.8" y="900.6" font-family="'Liberation Sans', Arial, sans-serif" font-size="11" font-weight="bold" text-anchor="start" fill="#111" textLength="31.4" lengthAdjust="spacingAndGlyphs" stroke="#111" stroke-width="0.22">400.0</text>
<text x="329.4" y="900.6" font-family="'Liberation Sans', Arial, sans-serif" font-size="11" font-weight="bold" text-anchor="start" fill="#111" textLength="30.4" lengthAdjust="spacingAndGlyphs" stroke="#111" stroke-width="0.22">450.0</text>
<text x="171.5" y="920.6" font-family="'Liberation Sans', Arial, sans-serif" font-size="12" font-weight="bold" text-anchor="start" fill="#111" textLength="79.3" lengthAdjust="spacingAndGlyphs" stroke="#111" stroke-width="0.22">Allele size (bp)</text>
<text transform="translate(14.9,800.3) rotate(-90)" x="0" y="0" font-family="'Liberation Sans', Arial, sans-serif" font-size="12" font-weight="bold" fill="#111" stroke="#111" stroke-width="0.22" textLength="70.2" lengthAdjust="spacingAndGlyphs">Allele height</text>
<polyline points="52.20,886.20 52.21,885.77 52.31,885.35 52.43,884.50 52.55,883.08 52.66,881.23 52.76,879.10 52.85,876.97 52.95,874.84 53.03,873.42 53.11,872.43 53.20,872.00 53.29,872.43 53.37,873.42 53.45,874.84 53.55,876.97 53.64,879.10 53.74,881.23 53.85,883.08 53.97,884.50 54.09,885.35 54.19,885.77 54.20,886.20" fill="none" stroke="#fa9f58" stroke-width="1.0" stroke-linejoin="round"/>
<polyline points="70.20,886.20 70.51,882.96 70.64,879.72 70.78,873.24 70.92,862.44 71.05,848.40 71.17,832.20 71.28,816.00 71.40,799.80 71.49,789.00 71.59,781.44 71.70,778.20 71.81,781.44 71.91,789.00 72.00,799.80 72.12,816.00 72.23,832.20 72.35,848.40 72.48,862.44 72.62,873.24 72.76,879.72 72.89,882.96 73.20,886.20" fill="none" stroke="#fa9f58" stroke-width="1.0" stroke-linejoin="round"/>
<polyline points="80.00,886.20 80.31,882.96 80.44,879.72 80.58,873.24 80.72,862.44 80.85,848.40 80.97,832.20 81.08,816.00 81.20,799.80 81.29,789.00 81.39,781.44 81.50,778.20 81.61,781.44 81.71,789.00 81.80,799.80 81.92,816.00 82.03,832.20 82.15,848.40 82.28,862.44 82.42,873.24 82.56,879.72 82.69,882.96 83.00,886.20" fill="none" stroke="#fa9f58" stroke-width="1.0" stroke-linejoin="round"/>
<polyline points="88.80,886.20 89.11,883.00 89.24,879.79 89.38,873.38 89.52,862.70 89.65,848.82 89.77,832.80 89.88,816.78 90.00,800.76 90.09,790.08 90.19,782.60 90.30,779.40 90.41,782.60 90.51,790.08 90.60,800.76 90.72,816.78 90.83,832.80 90.95,848.82 91.08,862.70 91.22,873.38 91.36,879.79 91.49,883.00 91.80,886.20" fill="none" stroke="#fa9f58" stroke-width="1.0" stroke-linejoin="round"/>
<polyline points="124.80,886.20 125.13,883.15 125.26,880.09 125.41,873.98 125.56,863.80 125.70,850.57 125.83,835.30 125.95,820.03 126.08,804.76 126.18,794.58 126.28,787.45 126.40,784.40 126.52,787.45 126.62,794.58 126.72,804.76 126.85,820.03 126.97,835.30 127.10,850.57 127.24,863.80 127.39,873.98 127.54,880.09 127.67,883.15 128.00,886.20" fill="none" stroke="#fa9f58" stroke-width="1.0" stroke-linejoin="round"/>
<polyline points="164.20,886.20 164.52,883.38 164.65,880.56 164.80,874.92 164.96,865.52 165.10,853.30 165.23,839.20 165.35,825.10 165.48,811.00 165.58,801.60 165.68,795.02 165.80,792.20 165.92,795.02 166.02,801.60 166.12,811.00 166.25,825.10 166.37,839.20 166.50,853.30 166.64,865.52 166.80,874.92 166.95,880.56 167.08,883.38 167.40,886.20" fill="none" stroke="#fa9f58" stroke-width="1.0" stroke-linejoin="round"/>
<polyline points="214.30,886.20 214.65,883.57 214.80,880.94 214.97,875.68 215.15,866.91 215.31,855.50 215.45,842.35 215.59,829.20 215.73,816.04 215.85,807.27 215.96,801.13 216.10,798.50 216.24,801.13 216.35,807.27 216.47,816.04 216.61,829.20 216.75,842.35 216.89,855.50 217.05,866.91 217.23,875.68 217.40,880.94 217.55,883.57 217.90,886.20" fill="none" stroke="#fa9f58" stroke-width="1.0" stroke-linejoin="round"/>
<polyline points="250.00,886.20 250.34,883.79 250.49,881.39 250.66,876.58 250.84,868.56 251.00,858.13 251.15,846.10 251.29,834.07 251.43,822.04 251.55,814.02 251.66,808.41 251.80,806.00 251.94,808.41 252.05,814.02 252.17,822.04 252.31,834.07 252.45,846.10 252.60,858.13 252.76,868.56 252.94,876.58 253.11,881.39 253.26,883.79 253.60,886.20" fill="none" stroke="#fa9f58" stroke-width="1.0" stroke-linejoin="round"/>
<polyline points="258.90,886.20 259.24,883.79 259.39,881.39 259.56,876.58 259.74,868.56 259.90,858.13 260.05,846.10 260.19,834.07 260.33,822.04 260.45,814.02 260.56,808.41 260.70,806.00 260.84,808.41 260.95,814.02 261.07,822.04 261.21,834.07 261.35,846.10 261.50,858.13 261.66,868.56 261.84,876.58 262.01,881.39 262.16,883.79 262.50,886.20" fill="none" stroke="#fa9f58" stroke-width="1.0" stroke-linejoin="round"/>
<polyline points="303.30,886.20 303.67,883.91 303.84,881.63 304.03,877.06 304.23,869.44 304.41,859.53 304.57,848.10 304.73,836.67 304.89,825.24 305.02,817.62 305.15,812.29 305.30,810.00 305.45,812.29 305.58,817.62 305.71,825.24 305.87,836.67 306.03,848.10 306.19,859.53 306.37,869.44 306.57,877.06 306.76,881.63 306.93,883.91 307.30,886.20" fill="none" stroke="#fa9f58" stroke-width="1.0" stroke-linejoin="round"/>
<polyline points="348.10,886.20 348.49,884.08 348.68,881.96 348.89,877.73 349.11,870.67 349.31,861.49 349.49,850.90 349.67,840.31 349.84,829.72 349.99,822.66 350.13,817.72 350.30,815.60 350.47,817.72 350.61,822.66 350.76,829.72 350.93,840.31 351.11,850.90 351.29,861.49 351.49,870.67 351.71,877.73 351.92,881.96 352.11,884.08 352.50,886.20" fill="none" stroke="#fa9f58" stroke-width="1.0" stroke-linejoin="round"/>
<line x1="52.00" y1="652.00" x2="52.00" y2="886.20" stroke="#7a7aff" stroke-width="1.4"/>
<polyline points="178.50,886.20 179.50,881.00 180.50,886.20" fill="none" stroke="#3030ff" stroke-width="1.0" stroke-linejoin="miter" opacity="1"/>
<polyline points="180.30,886.20 182.10,824.00 183.50,886.20" fill="none" stroke="#3030ff" stroke-width="1.1" stroke-linejoin="miter" opacity="1"/>
<line x1="182.20" y1="785.20" x2="182.20" y2="824.00" stroke="#000" stroke-width="2.5"/>
<text x="163.2" y="781.1" font-family="'Liberation Sans', Arial, sans-serif" font-size="11" font-weight="bold" text-anchor="start" fill="#111" textLength="37.0" lengthAdjust="spacingAndGlyphs" stroke="#111" stroke-width="0.22">262.25</text>
<text x="291.4" y="675.1" font-family="'Liberation Sans', Arial, sans-serif" font-size="11" font-weight="bold" text-anchor="start" fill="#111" textLength="71.8" lengthAdjust="spacingAndGlyphs" stroke="#111" stroke-width="0.22">23/23 (CAGs)</text>
<text x="1.6" y="643.4" font-family="'Liberation Serif', 'Times New Roman', serif" font-size="19" font-weight="bold" text-anchor="start" fill="#111" stroke="#000" stroke-width="0.35">C</text>
<line x1="440.50" y1="43.30" x2="808.50" y2="43.30" stroke="#8e8e8e" stroke-width="1"/>
<line x1="808.50" y1="43.30" x2="808.50" y2="279.30" stroke="#8e8e8e" stroke-width="1"/>
<line x1="440.50" y1="279.30" x2="808.50" y2="279.30" stroke="#8e8e8e" stroke-width="1"/>
<line x1="440.50" y1="43.30" x2="440.50" y2="279.30" stroke="#8e8e8e" stroke-width="1"/>
<rect x="438.30" y="50.44" width="2.1" height="2.0" fill="#111"/>
<rect x="438.30" y="58.30" width="2.1" height="2.0" fill="#111"/>
<rect x="438.30" y="66.16" width="2.1" height="2.0" fill="#111"/>
<rect x="438.30" y="74.01" width="2.1" height="2.0" fill="#111"/>
<rect x="438.30" y="81.87" width="2.1" height="2.0" fill="#111"/>
<rect x="438.30" y="89.72" width="2.1" height="2.0" fill="#111"/>
<rect x="438.30" y="97.58" width="2.1" height="2.0" fill="#111"/>
<rect x="438.30" y="105.43" width="2.1" height="2.0" fill="#111"/>
<rect x="438.30" y="113.29" width="2.1" height="2.0" fill="#111"/>
<rect x="438.30" y="121.14" width="2.1" height="2.0" fill="#111"/>
<rect x="438.30" y="129.00" width="2.1" height="2.0" fill="#111"/>
<rect x="438.30" y="136.85" width="2.1" height="2.0" fill="#111"/>
<rect x="438.30" y="144.71" width="2.1" height="2.0" fill="#111"/>
<rect x="438.30" y="152.56" width="2.1" height="2.0" fill="#111"/>
<rect x="438.30" y="160.41" width="2.1" height="2.0" fill="#111"/>
<rect x="438.30" y="168.27" width="2.1" height="2.0" fill="#111"/>
<rect x="438.30" y="176.12" width="2.1" height="2.0" fill="#111"/>
<rect x="438.30" y="183.98" width="2.1" height="2.0" fill="#111"/>
<rect x="438.30" y="191.83" width="2.1" height="2.0" fill="#111"/>
<rect x="438.30" y="199.69" width="2.1" height="2.0" fill="#111"/>
<rect x="438.30" y="207.54" width="2.1" height="2.0" fill="#111"/>
<rect x="438.30" y="215.40" width="2.1" height="2.0" fill="#111"/>
<rect x="438.30" y="223.25" width="2.1" height="2.0" fill="#111"/>
<rect x="438.30" y="231.11" width="2.1" height="2.0" fill="#111"/>
<rect x="438.30" y="238.96" width="2.1" height="2.0" fill="#111"/>
<rect x="438.30" y="246.82" width="2.1" height="2.0" fill="#111"/>
<rect x="438.30" y="254.67" width="2.1" height="2.0" fill="#111"/>
<rect x="438.30" y="262.53" width="2.1" height="2.0" fill="#111"/>
<rect x="438.30" y="270.38" width="2.1" height="2.0" fill="#111"/>
<rect x="437.80" y="58.40" width="2.4" height="1.8" fill="#111"/>
<text x="438.1" y="63.4" font-family="'Liberation Sans', Arial, sans-serif" font-size="11" font-weight="bold" text-anchor="end" fill="#111" textLength="26.8" lengthAdjust="spacingAndGlyphs" stroke="#111" stroke-width="0.22">4200</text>
<rect x="437.80" y="74.11" width="2.4" height="1.8" fill="#111"/>
<text x="438.1" y="79.1" font-family="'Liberation Sans', Arial, sans-serif" font-size="11" font-weight="bold" text-anchor="end" fill="#111" textLength="26.8" lengthAdjust="spacingAndGlyphs" stroke="#111" stroke-width="0.22">3900</text>
<rect x="437.80" y="89.82" width="2.4" height="1.8" fill="#111"/>
<text x="438.1" y="94.8" font-family="'Liberation Sans', Arial, sans-serif" font-size="11" font-weight="bold" text-anchor="end" fill="#111" textLength="26.8" lengthAdjust="spacingAndGlyphs" stroke="#111" stroke-width="0.22">3600</text>
<rect x="437.80" y="105.53" width="2.4" height="1.8" fill="#111"/>
<text x="438.1" y="110.5" font-family="'Liberation Sans', Arial, sans-serif" font-size="11" font-weight="bold" text-anchor="end" fill="#111" textLength="26.8" lengthAdjust="spacingAndGlyphs" stroke="#111" stroke-width="0.22">3300</text>
<rect x="437.80" y="121.24" width="2.4" height="1.8" fill="#111"/>
<text x="438.1" y="126.2" font-family="'Liberation Sans', Arial, sans-serif" font-size="11" font-weight="bold" text-anchor="end" fill="#111" textLength="26.8" lengthAdjust="spacingAndGlyphs" stroke="#111" stroke-width="0.22">3000</text>
<rect x="437.80" y="136.95" width="2.4" height="1.8" fill="#111"/>
<text x="438.1" y="142.0" font-family="'Liberation Sans', Arial, sans-serif" font-size="11" font-weight="bold" text-anchor="end" fill="#111" textLength="26.8" lengthAdjust="spacingAndGlyphs" stroke="#111" stroke-width="0.22">2700</text>
<rect x="437.80" y="152.66" width="2.4" height="1.8" fill="#111"/>
<text x="438.1" y="157.7" font-family="'Liberation Sans', Arial, sans-serif" font-size="11" font-weight="bold" text-anchor="end" fill="#111" textLength="26.8" lengthAdjust="spacingAndGlyphs" stroke="#111" stroke-width="0.22">2400</text>
<rect x="437.80" y="168.37" width="2.4" height="1.8" fill="#111"/>
<text x="438.1" y="173.4" font-family="'Liberation Sans', Arial, sans-serif" font-size="11" font-weight="bold" text-anchor="end" fill="#111" textLength="26.8" lengthAdjust="spacingAndGlyphs" stroke="#111" stroke-width="0.22">2100</text>
<rect x="437.80" y="184.08" width="2.4" height="1.8" fill="#111"/>
<text x="438.1" y="189.1" font-family="'Liberation Sans', Arial, sans-serif" font-size="11" font-weight="bold" text-anchor="end" fill="#111" textLength="26.8" lengthAdjust="spacingAndGlyphs" stroke="#111" stroke-width="0.22">1800</text>
<rect x="437.80" y="199.79" width="2.4" height="1.8" fill="#111"/>
<text x="438.1" y="204.8" font-family="'Liberation Sans', Arial, sans-serif" font-size="11" font-weight="bold" text-anchor="end" fill="#111" textLength="26.8" lengthAdjust="spacingAndGlyphs" stroke="#111" stroke-width="0.22">1500</text>
<rect x="437.80" y="215.50" width="2.4" height="1.8" fill="#111"/>
<text x="438.1" y="220.5" font-family="'Liberation Sans', Arial, sans-serif" font-size="11" font-weight="bold" text-anchor="end" fill="#111" textLength="26.8" lengthAdjust="spacingAndGlyphs" stroke="#111" stroke-width="0.22">1200</text>
<rect x="437.80" y="231.21" width="2.4" height="1.8" fill="#111"/>
<text x="438.1" y="236.2" font-family="'Liberation Sans', Arial, sans-serif" font-size="11" font-weight="bold" text-anchor="end" fill="#111" textLength="19.8" lengthAdjust="spacingAndGlyphs" stroke="#111" stroke-width="0.22">900</text>
<rect x="437.80" y="246.92" width="2.4" height="1.8" fill="#111"/>
<text x="438.1" y="251.9" font-family="'Liberation Sans', Arial, sans-serif" font-size="11" font-weight="bold" text-anchor="end" fill="#111" textLength="19.8" lengthAdjust="spacingAndGlyphs" stroke="#111" stroke-width="0.22">600</text>
<rect x="437.80" y="262.63" width="2.4" height="1.8" fill="#111"/>
<text x="438.1" y="267.6" font-family="'Liberation Sans', Arial, sans-serif" font-size="11" font-weight="bold" text-anchor="end" fill="#111" textLength="19.8" lengthAdjust="spacingAndGlyphs" stroke="#111" stroke-width="0.22">300</text>
<rect x="455.90" y="41.00" width="1.6" height="4.6" fill="#111"/>
<rect x="492.10" y="41.00" width="1.6" height="4.6" fill="#111"/>
<rect x="528.20" y="41.00" width="1.6" height="4.6" fill="#111"/>
<rect x="564.20" y="41.00" width="1.6" height="4.6" fill="#111"/>
<rect x="599.70" y="41.00" width="1.6" height="4.6" fill="#111"/>
<rect x="633.20" y="41.00" width="1.6" height="4.6" fill="#111"/>
<rect x="671.20" y="41.00" width="1.6" height="4.6" fill="#111"/>
<rect x="705.20" y="41.00" width="1.6" height="4.6" fill="#111"/>
<rect x="741.20" y="41.00" width="1.6" height="4.6" fill="#111"/>
<rect x="776.20" y="41.00" width="1.6" height="4.6" fill="#111"/>
<text x="437.5" y="40.4" font-family="'Liberation Sans', Arial, sans-serif" font-size="11" font-weight="bold" text-anchor="start" fill="#111" textLength="5.7" lengthAdjust="spacingAndGlyphs" stroke="#111" stroke-width="0.22">0</text>
<text x="454.6" y="40.4" font-family="'Liberation Sans', Arial, sans-serif" font-size="11" font-weight="bold" text-anchor="start" fill="#111" textLength="12.8" lengthAdjust="spacingAndGlyphs" stroke="#111" stroke-width="0.22">80</text>
<text x="525.3" y="40.4" font-family="'Liberation Sans', Arial, sans-serif" font-size="11" font-weight="bold" text-anchor="start" fill="#111" textLength="19.7" lengthAdjust="spacingAndGlyphs" stroke="#111" stroke-width="0.22">160</text>
<text x="597.0" y="40.4" font-family="'Liberation Sans', Arial, sans-serif" font-size="11" font-weight="bold" text-anchor="start" fill="#111" textLength="20.0" lengthAdjust="spacingAndGlyphs" stroke="#111" stroke-width="0.22">240</text>
<text x="667.3" y="40.4" font-family="'Liberation Sans', Arial, sans-serif" font-size="11" font-weight="bold" text-anchor="start" fill="#111" textLength="19.7" lengthAdjust="spacingAndGlyphs" stroke="#111" stroke-width="0.22">320</text>
<text x="739.3" y="40.4" font-family="'Liberation Sans', Arial, sans-serif" font-size="11" font-weight="bold" text-anchor="start" fill="#111" textLength="20.3" lengthAdjust="spacingAndGlyphs" stroke="#111" stroke-width="0.22">400</text>
<line x1="451.10" y1="279.30" x2="451.10" y2="284.70" stroke="#333" stroke-width="1.2"/>
<line x1="473.90" y1="279.30" x2="473.90" y2="284.70" stroke="#333" stroke-width="1.2"/>
<line x1="510.30" y1="279.30" x2="510.30" y2="284.70" stroke="#333" stroke-width="1.2"/>
<line x1="564.20" y1="279.30" x2="564.20" y2="284.70" stroke="#333" stroke-width="1.2"/>
<line x1="602.90" y1="279.30" x2="602.90" y2="284.70" stroke="#333" stroke-width="1.2"/>
<line x1="652.50" y1="279.30" x2="652.50" y2="284.70" stroke="#333" stroke-width="1.2"/>
<line x1="687.60" y1="279.30" x2="687.60" y2="284.70" stroke="#333" stroke-width="1.2"/>
<line x1="741.10" y1="279.30" x2="741.10" y2="284.70" stroke="#333" stroke-width="1.2"/>
<line x1="785.70" y1="279.30" x2="785.70" y2="284.70" stroke="#333" stroke-width="1.2"/>
<text x="437.9" y="292.6" font-family="'Liberation Sans', Arial, sans-serif" font-size="11" font-weight="bold" text-anchor="start" fill="#111" textLength="22.7" lengthAdjust="spacingAndGlyphs" stroke="#111" stroke-width="0.22">75.0</text>
<text x="466.8" y="292.6" font-family="'Liberation Sans', Arial, sans-serif" font-size="11" font-weight="bold" text-anchor="start" fill="#111" textLength="29.2" lengthAdjust="spacingAndGlyphs" stroke="#111" stroke-width="0.22">100.0</text>
<text x="501.9" y="292.6" font-family="'Liberation Sans', Arial, sans-serif" font-size="11" font-weight="bold" text-anchor="start" fill="#111" textLength="30.1" lengthAdjust="spacingAndGlyphs" stroke="#111" stroke-width="0.22">139.0</text>
<text x="550.8" y="292.6" font-family="'Liberation Sans', Arial, sans-serif" font-size="11" font-weight="bold" text-anchor="start" fill="#111" textLength="30.0" lengthAdjust="spacingAndGlyphs" stroke="#111" stroke-width="0.22">200.0</text>
<text x="589.5" y="292.6" font-family="'Liberation Sans', Arial, sans-serif" font-size="11" font-weight="bold" text-anchor="start" fill="#111" textLength="38.0" lengthAdjust="spacingAndGlyphs" stroke="#111" stroke-width="0.22">244.11</text>
<text x="636.5" y="292.6" font-family="'Liberation Sans', Arial, sans-serif" font-size="11" font-weight="bold" text-anchor="start" fill="#111" textLength="30.1" lengthAdjust="spacingAndGlyphs" stroke="#111" stroke-width="0.22">300.0</text>
<text x="673.0" y="292.6" font-family="'Liberation Sans', Arial, sans-serif" font-size="11" font-weight="bold" text-anchor="start" fill="#111" textLength="30.9" lengthAdjust="spacingAndGlyphs" stroke="#111" stroke-width="0.22">340.0</text>
<text x="728.0" y="292.6" font-family="'Liberation Sans', Arial, sans-serif" font-size="11" font-weight="bold" text-anchor="start" fill="#111" textLength="30.0" lengthAdjust="spacingAndGlyphs" stroke="#111" stroke-width="0.22">400.0</text>
<text x="769.0" y="292.6" font-family="'Liberation Sans', Arial, sans-serif" font-size="11" font-weight="bold" text-anchor="start" fill="#111" textLength="30.4" lengthAdjust="spacingAndGlyphs" stroke="#111" stroke-width="0.22">450.0</text>
<text x="600.3" y="313.5" font-family="'Liberation Sans', Arial, sans-serif" font-size="12" font-weight="bold" text-anchor="start" fill="#111" textLength="79.7" lengthAdjust="spacingAndGlyphs" stroke="#111" stroke-width="0.22">Allele size (bp)</text>
<text transform="translate(401.8,188.1) rotate(-90)" x="0" y="0" font-family="'Liberation Sans', Arial, sans-serif" font-size="12" font-weight="bold" fill="#111" stroke="#111" stroke-width="0.22" textLength="70.1" lengthAdjust="spacingAndGlyphs">Allele height</text>
<polyline points="451.60,279.30 451.82,275.42 451.90,271.54 451.99,263.78 452.09,250.85 452.17,234.05 452.25,214.65 452.33,195.25 452.40,175.86 452.46,162.93 452.53,153.88 452.60,150.00 452.67,153.88 452.74,162.93 452.80,175.86 452.87,195.25 452.95,214.65 453.03,234.05 453.11,250.85 453.21,263.78 453.30,271.54 453.38,275.42 453.60,279.30" fill="#ffe0c4" stroke="#fda45e" stroke-width="1.0" stroke-linejoin="round"/>
<polyline points="473.20,279.30 473.42,275.42 473.50,271.54 473.59,263.78 473.69,250.85 473.77,234.05 473.85,214.65 473.93,195.25 474.00,175.86 474.06,162.93 474.13,153.88 474.20,150.00 474.27,153.88 474.34,162.93 474.40,175.86 474.47,195.25 474.55,214.65 474.63,234.05 474.71,250.85 474.81,263.78 474.90,271.54 474.98,275.42 475.20,279.30" fill="#ffe0c4" stroke="#fda45e" stroke-width="1.0" stroke-linejoin="round"/>
<polyline points="508.40,279.30 508.64,275.44 508.73,271.57 508.83,263.84 508.94,250.96 509.03,234.22 509.12,214.90 509.20,195.58 509.28,176.26 509.35,163.38 509.42,154.36 509.50,150.50 509.58,154.36 509.65,163.38 509.72,176.26 509.80,195.58 509.88,214.90 509.97,234.22 510.06,250.96 510.17,263.84 510.27,271.57 510.36,275.44 510.60,279.30" fill="#ffe0c4" stroke="#fda45e" stroke-width="1.0" stroke-linejoin="round"/>
<polyline points="518.40,279.30 518.64,275.36 518.73,271.41 518.83,263.52 518.94,250.37 519.03,233.28 519.12,213.55 519.20,193.82 519.28,174.10 519.35,160.95 519.42,151.75 519.50,147.80 519.58,151.75 519.65,160.95 519.72,174.10 519.80,193.82 519.88,213.55 519.97,233.28 520.06,250.37 520.17,263.52 520.27,271.41 520.36,275.36 520.60,279.30" fill="#ffe0c4" stroke="#fda45e" stroke-width="1.0" stroke-linejoin="round"/>
<polyline points="527.20,279.30 527.45,275.27 527.53,271.24 527.64,263.18 527.74,249.75 527.83,232.30 527.92,212.15 528.00,192.00 528.08,171.86 528.15,158.43 528.22,149.03 528.30,145.00 528.38,149.03 528.45,158.43 528.52,171.86 528.60,192.00 528.68,212.15 528.77,232.30 528.86,249.75 528.96,263.18 529.07,271.24 529.15,275.27 529.40,279.30" fill="#ffe0c4" stroke="#fda45e" stroke-width="1.0" stroke-linejoin="round"/>
<polyline points="562.85,279.30 563.11,275.12 563.20,270.94 563.31,262.57 563.42,248.63 563.51,230.51 563.60,209.60 563.69,188.69 563.78,167.78 563.85,153.84 563.92,144.08 564.00,139.90 564.08,144.08 564.15,153.84 564.22,167.78 564.31,188.69 564.40,209.60 564.49,230.51 564.58,248.63 564.69,262.57 564.80,270.94 564.89,275.12 565.15,279.30" fill="#ffe0c4" stroke="#fda45e" stroke-width="1.0" stroke-linejoin="round"/>
<polyline points="601.75,279.30 602.01,275.20 602.10,271.11 602.21,262.92 602.31,249.27 602.41,231.53 602.50,211.05 602.59,190.57 602.68,170.10 602.75,156.45 602.82,146.90 602.90,142.80 602.98,146.90 603.05,156.45 603.12,170.10 603.21,190.57 603.30,211.05 603.39,231.53 603.49,249.27 603.59,262.92 603.70,271.11 603.79,275.20 604.05,279.30" fill="#ffe0c4" stroke="#fda45e" stroke-width="1.0" stroke-linejoin="round"/>
<polyline points="651.35,279.30 651.61,275.25 651.70,271.19 651.81,263.09 651.91,249.58 652.01,232.02 652.10,211.75 652.19,191.49 652.27,171.22 652.35,157.71 652.42,148.25 652.50,144.20 652.58,148.25 652.65,157.71 652.73,171.22 652.81,191.49 652.90,211.75 652.99,232.02 653.09,249.58 653.19,263.09 653.30,271.19 653.39,275.25 653.65,279.30" fill="#ffe0c4" stroke="#fda45e" stroke-width="1.0" stroke-linejoin="round"/>
<polyline points="686.45,279.30 686.71,275.28 686.80,271.26 686.91,263.22 687.01,249.82 687.11,232.40 687.20,212.30 687.29,192.20 687.37,172.10 687.45,158.70 687.52,149.32 687.60,145.30 687.68,149.32 687.75,158.70 687.83,172.10 687.91,192.20 688.00,212.30 688.09,232.40 688.19,249.82 688.29,263.22 688.40,271.26 688.49,275.28 688.75,279.30" fill="#ffe0c4" stroke="#fda45e" stroke-width="1.0" stroke-linejoin="round"/>
<polyline points="695.85,279.30 696.11,275.28 696.20,271.26 696.31,263.22 696.41,249.82 696.51,232.40 696.60,212.30 696.69,192.20 696.77,172.10 696.85,158.70 696.92,149.32 697.00,145.30 697.08,149.32 697.15,158.70 697.23,172.10 697.31,192.20 697.40,212.30 697.49,232.40 697.59,249.82 697.69,263.22 697.80,271.26 697.89,275.28 698.15,279.30" fill="#ffe0c4" stroke="#fda45e" stroke-width="1.0" stroke-linejoin="round"/>
<polyline points="739.95,279.30 740.21,275.26 740.30,271.22 740.41,263.14 740.51,249.67 740.61,232.16 740.70,211.95 740.79,191.75 740.87,171.54 740.95,158.07 741.02,148.64 741.10,144.60 741.18,148.64 741.25,158.07 741.33,171.54 741.41,191.75 741.50,211.95 741.59,232.16 741.69,249.67 741.79,263.14 741.90,271.22 741.99,275.26 742.25,279.30" fill="#ffe0c4" stroke="#fda45e" stroke-width="1.0" stroke-linejoin="round"/>
<polyline points="784.45,279.30 784.73,275.39 784.83,271.48 784.94,263.66 785.06,250.63 785.17,233.69 785.27,214.15 785.36,194.61 785.45,175.06 785.53,162.03 785.61,152.91 785.70,149.00 785.79,152.91 785.87,162.03 785.95,175.06 786.04,194.61 786.13,214.15 786.23,233.69 786.34,250.63 786.46,263.66 786.57,271.48 786.67,275.39 786.95,279.30" fill="#ffe0c4" stroke="#fda45e" stroke-width="1.0" stroke-linejoin="round"/>
<rect x="530.00" y="278.40" width="2.31" height="1.2" fill="#6060e0" opacity="0.3"/>
<rect x="534.26" y="278.40" width="3.13" height="1.2" fill="#6060e0" opacity="0.3"/>
<rect x="539.11" y="278.40" width="2.84" height="1.2" fill="#6060e0" opacity="0.3"/>
<rect x="544.54" y="278.40" width="1.64" height="1.2" fill="#6060e0" opacity="0.3"/>
<rect x="549.21" y="278.40" width="1.59" height="1.2" fill="#6060e0" opacity="0.3"/>
<rect x="553.61" y="278.40" width="1.67" height="1.2" fill="#6060e0" opacity="0.3"/>
<rect x="557.05" y="278.40" width="2.56" height="1.2" fill="#6060e0" opacity="0.3"/>
<rect x="563.59" y="278.40" width="1.81" height="1.2" fill="#6060e0" opacity="0.3"/>
<rect x="567.57" y="278.40" width="3.07" height="1.2" fill="#6060e0" opacity="0.3"/>
<rect x="574.99" y="278.40" width="2.94" height="1.2" fill="#6060e0" opacity="0.3"/>
<rect x="580.62" y="278.40" width="3.94" height="1.2" fill="#6060e0" opacity="0.3"/>
<rect x="586.20" y="278.40" width="3.65" height="1.2" fill="#6060e0" opacity="0.3"/>
<rect x="592.21" y="278.40" width="1.86" height="1.2" fill="#6060e0" opacity="0.3"/>
<rect x="595.93" y="278.40" width="2.27" height="1.2" fill="#6060e0" opacity="0.3"/>
<rect x="602.15" y="278.40" width="1.95" height="1.2" fill="#6060e0" opacity="0.3"/>
<rect x="607.34" y="278.40" width="3.10" height="1.2" fill="#6060e0" opacity="0.3"/>
<rect x="613.06" y="278.40" width="2.87" height="1.2" fill="#6060e0" opacity="0.3"/>
<rect x="617.62" y="278.40" width="1.65" height="1.2" fill="#6060e0" opacity="0.3"/>
<rect x="621.38" y="278.40" width="3.20" height="1.2" fill="#6060e0" opacity="0.3"/>
<rect x="627.37" y="278.40" width="2.29" height="1.2" fill="#6060e0" opacity="0.3"/>
<rect x="632.91" y="278.40" width="2.63" height="1.2" fill="#6060e0" opacity="0.3"/>
<rect x="637.94" y="278.40" width="3.49" height="1.2" fill="#6060e0" opacity="0.3"/>
<rect x="645.02" y="278.40" width="2.11" height="1.2" fill="#6060e0" opacity="0.3"/>
<rect x="650.36" y="278.40" width="2.81" height="1.2" fill="#6060e0" opacity="0.3"/>
<rect x="657.30" y="278.40" width="3.32" height="1.2" fill="#6060e0" opacity="0.3"/>
<rect x="662.98" y="278.40" width="3.95" height="1.2" fill="#6060e0" opacity="0.3"/>
<rect x="668.79" y="278.40" width="2.55" height="1.2" fill="#6060e0" opacity="0.3"/>
<rect x="675.10" y="278.40" width="1.88" height="1.2" fill="#6060e0" opacity="0.3"/>
<rect x="679.95" y="278.40" width="1.60" height="1.2" fill="#6060e0" opacity="0.3"/>
<rect x="685.05" y="278.40" width="3.41" height="1.2" fill="#6060e0" opacity="0.3"/>
<rect x="691.68" y="278.40" width="3.69" height="1.2" fill="#6060e0" opacity="0.3"/>
<rect x="697.81" y="278.40" width="3.24" height="1.2" fill="#6060e0" opacity="0.3"/>
<rect x="704.34" y="278.40" width="2.95" height="1.2" fill="#6060e0" opacity="0.3"/>
<rect x="710.15" y="278.40" width="3.60" height="1.2" fill="#6060e0" opacity="0.3"/>
<rect x="718.09" y="278.40" width="2.69" height="1.2" fill="#6060e0" opacity="0.3"/>
<rect x="724.27" y="278.40" width="1.65" height="1.2" fill="#6060e0" opacity="0.3"/>
<rect x="729.52" y="278.40" width="3.12" height="1.2" fill="#6060e0" opacity="0.3"/>
<rect x="737.12" y="278.40" width="3.55" height="1.2" fill="#6060e0" opacity="0.3"/>
<rect x="743.03" y="278.40" width="2.46" height="1.2" fill="#6060e0" opacity="0.3"/>
<rect x="749.00" y="278.40" width="1.56" height="1.2" fill="#6060e0" opacity="0.3"/>
<rect x="753.44" y="278.40" width="1.92" height="1.2" fill="#6060e0" opacity="0.3"/>
<rect x="757.21" y="278.40" width="1.65" height="1.2" fill="#6060e0" opacity="0.3"/>
<rect x="762.66" y="278.40" width="1.82" height="1.2" fill="#6060e0" opacity="0.3"/>
<rect x="766.73" y="278.40" width="2.48" height="1.2" fill="#6060e0" opacity="0.3"/>
<rect x="773.32" y="278.40" width="1.70" height="1.2" fill="#6060e0" opacity="0.3"/>
<rect x="777.87" y="278.40" width="2.87" height="1.2" fill="#6060e0" opacity="0.3"/>
<rect x="784.89" y="278.40" width="3.55" height="1.2" fill="#6060e0" opacity="0.3"/>
<rect x="792.53" y="278.40" width="2.20" height="1.2" fill="#6060e0" opacity="0.3"/>
<rect x="797.48" y="278.40" width="2.40" height="1.2" fill="#6060e0" opacity="0.3"/>
<rect x="804.03" y="278.40" width="3.89" height="1.2" fill="#6060e0" opacity="0.3"/>
<polygon points="444.60,279.30 444.85,268.59 445.30,267.99 445.75,268.59 446.00,279.30" fill="#4a4aff" opacity="1"/>
<polygon points="447.20,279.30 447.45,268.72 447.90,268.12 448.35,268.72 448.60,279.30" fill="#4a4aff" opacity="1"/>
<polygon points="449.80,279.30 450.05,269.21 450.50,268.61 450.95,269.21 451.20,279.30" fill="#4a4aff" opacity="1"/>
<polygon points="452.40,279.30 452.65,268.10 453.10,267.50 453.55,268.10 453.80,279.30" fill="#4a4aff" opacity="1"/>
<polygon points="455.00,279.30 455.25,267.75 455.70,267.15 456.15,267.75 456.40,279.30" fill="#4a4aff" opacity="1"/>
<polygon points="457.60,279.30 457.85,269.88 458.30,269.28 458.75,269.88 459.00,279.30" fill="#4a4aff" opacity="1"/>
<polygon points="460.20,279.30 460.45,271.54 460.90,270.94 461.35,271.54 461.60,279.30" fill="#4a4aff" opacity="1"/>
<polygon points="462.80,279.30 463.05,267.67 463.50,267.07 463.95,267.67 464.20,279.30" fill="#4a4aff" opacity="1"/>
<polygon points="465.40,279.30 465.65,265.15 466.10,264.55 466.55,265.15 466.80,279.30" fill="#4a4aff" opacity="1"/>
<polygon points="468.00,279.30 468.25,259.49 468.70,258.89 469.15,259.49 469.40,279.30" fill="#4a4aff" opacity="1"/>
<polygon points="470.60,279.30 470.85,247.70 471.30,247.10 471.75,247.70 472.00,279.30" fill="#4a4aff" opacity="1"/>
<polygon points="473.20,279.30 473.45,257.56 473.90,256.96 474.35,257.56 474.60,279.30" fill="#4a4aff" opacity="1"/>
<polygon points="475.80,279.30 476.05,267.71 476.50,267.11 476.95,267.71 477.20,279.30" fill="#4a4aff" opacity="1"/>
<polygon points="478.40,279.30 478.65,266.54 479.10,265.94 479.55,266.54 479.80,279.30" fill="#4a4aff" opacity="1"/>
<polygon points="481.00,279.30 481.25,265.60 481.70,265.00 482.15,265.60 482.40,279.30" fill="#4a4aff" opacity="1"/>
<polygon points="483.60,279.30 483.85,269.29 484.30,268.69 484.75,269.29 485.00,279.30" fill="#4a4aff" opacity="1"/>
<polygon points="486.20,279.30 486.45,258.78 486.90,258.18 487.35,258.78 487.60,279.30" fill="#4a4aff" opacity="1"/>
<polygon points="488.80,279.30 489.05,247.98 489.50,247.38 489.95,247.98 490.20,279.30" fill="#4a4aff" opacity="1"/>
<polygon points="491.40,279.30 491.65,254.26 492.10,253.66 492.55,254.26 492.80,279.30" fill="#4a4aff" opacity="1"/>
<polygon points="494.00,279.30 494.25,264.18 494.70,263.58 495.15,264.18 495.40,279.30" fill="#4a4aff" opacity="1"/>
<polygon points="496.60,279.30 496.85,268.07 497.30,267.47 497.75,268.07 498.00,279.30" fill="#4a4aff" opacity="1"/>
<polygon points="499.20,279.30 499.45,269.15 499.90,268.55 500.35,269.15 500.60,279.30" fill="#4a4aff" opacity="1"/>
<polygon points="501.80,279.30 502.05,271.77 502.50,271.17 502.95,271.77 503.20,279.30" fill="#4a4aff" opacity="1"/>
<polygon points="504.40,279.30 504.65,270.34 505.10,269.74 505.55,270.34 505.80,279.30" fill="#4a4aff" opacity="1"/>
<polygon points="507.00,279.30 507.25,273.71 507.70,273.11 508.15,273.71 508.40,279.30" fill="#4a4aff" opacity="1"/>
<polygon points="509.60,279.30 509.85,274.51 510.30,273.91 510.75,274.51 511.00,279.30" fill="#4a4aff" opacity="1"/>
<polygon points="512.20,279.30 512.45,274.91 512.90,274.31 513.35,274.91 513.60,279.30" fill="#4a4aff" opacity="1"/>
<polygon points="514.80,279.30 515.05,275.86 515.50,275.26 515.95,275.86 516.20,279.30" fill="#4a4aff" opacity="1"/>
<polygon points="517.40,279.30 517.65,276.11 518.10,275.51 518.55,276.11 518.80,279.30" fill="#4a4aff" opacity="1"/>
<polygon points="520.00,279.30 520.25,277.28 520.70,276.68 521.15,277.28 521.40,279.30" fill="#4a4aff" opacity="1"/>
<polygon points="522.60,279.30 522.85,277.97 523.30,277.37 523.75,277.97 524.00,279.30" fill="#4a4aff" opacity="1"/>
<polygon points="525.20,279.30 525.45,278.50 525.90,277.90 526.35,278.50 526.60,279.30" fill="#4a4aff" opacity="1"/>
<polygon points="445.05,279.30 445.25,240.60 446.00,240.00 446.75,240.60 446.95,279.30" fill="#3838ff" opacity="1"/>
<polygon points="448.15,279.30 448.35,245.90 449.10,245.30 449.85,245.90 450.05,279.30" fill="#3838ff" opacity="1"/>
<polygon points="450.65,279.30 450.85,260.60 451.60,260.00 452.35,260.60 452.55,279.30" fill="#3838ff" opacity="1"/>
<polygon points="451.95,279.30 452.15,44.40 452.90,43.80 453.65,44.40 453.85,279.30" fill="#3838ff" opacity="1"/>
<polygon points="454.55,279.30 454.75,81.80 455.50,81.20 456.25,81.80 456.45,279.30" fill="#3838ff" opacity="1"/>
<polygon points="457.15,279.30 457.35,110.60 458.10,110.00 458.85,110.60 459.05,279.30" fill="#3838ff" opacity="1"/>
<polygon points="459.95,279.30 460.15,138.40 460.90,137.80 461.65,138.40 461.85,279.30" fill="#3838ff" opacity="1"/>
<polygon points="462.85,279.30 463.05,153.00 463.80,152.40 464.55,153.00 464.75,279.30" fill="#3838ff" opacity="1"/>
<polygon points="465.65,279.30 465.85,166.50 466.60,165.90 467.35,166.50 467.55,279.30" fill="#3838ff" opacity="1"/>
<polygon points="468.25,279.30 468.45,172.60 469.20,172.00 469.95,172.60 470.15,279.30" fill="#3838ff" opacity="1"/>
<polygon points="470.85,279.30 471.05,169.60 471.80,169.00 472.55,169.60 472.75,279.30" fill="#3838ff" opacity="1"/>
<polygon points="473.45,279.30 473.65,150.60 474.40,150.00 475.15,150.60 475.35,279.30" fill="#3838ff" opacity="1"/>
<polygon points="476.15,279.30 476.35,145.00 477.10,144.40 477.85,145.00 478.05,279.30" fill="#3838ff" opacity="1"/>
<polygon points="478.55,279.30 478.75,120.90 479.50,120.30 480.25,120.90 480.45,279.30" fill="#3838ff" opacity="1"/>
<polygon points="480.95,279.30 481.15,48.60 481.90,48.00 482.65,48.60 482.85,279.30" fill="#3838ff" opacity="1"/>
<polygon points="483.55,279.30 483.75,142.30 484.50,141.70 485.25,142.30 485.45,279.30" fill="#3838ff" opacity="1"/>
<polygon points="486.05,279.30 486.25,192.30 487.00,191.70 487.75,192.30 487.95,279.30" fill="#3838ff" opacity="1"/>
<polygon points="488.45,279.30 488.65,118.30 489.40,117.70 490.15,118.30 490.35,279.30" fill="#3838ff" opacity="1"/>
<polygon points="490.65,279.30 490.85,187.60 491.60,187.00 492.35,187.60 492.55,279.30" fill="#3838ff" opacity="1"/>
<polygon points="493.05,279.30 493.25,166.50 494.00,165.90 494.75,166.50 494.95,279.30" fill="#3838ff" opacity="1"/>
<polygon points="495.65,279.30 495.85,128.70 496.60,128.10 497.35,128.70 497.55,279.30" fill="#3838ff" opacity="1"/>
<polygon points="498.45,279.30 498.65,193.90 499.40,193.30 500.15,193.90 500.35,279.30" fill="#3838ff" opacity="1"/>
<polygon points="500.85,279.30 501.05,234.20 501.80,233.60 502.55,234.20 502.75,279.30" fill="#3838ff" opacity="1"/>
<polygon points="503.35,279.30 503.55,194.60 504.30,194.00 505.05,194.60 505.25,279.30" fill="#3838ff" opacity="1"/>
<polygon points="506.05,279.30 506.25,248.00 507.00,247.40 507.75,248.00 507.95,279.30" fill="#3838ff" opacity="1"/>
<polygon points="508.65,279.30 508.85,258.20 509.60,257.60 510.35,258.20 510.55,279.30" fill="#3838ff" opacity="1"/>
<polygon points="511.15,279.30 511.35,265.20 512.10,264.60 512.85,265.20 513.05,279.30" fill="#3838ff" opacity="1"/>
<polygon points="513.85,279.30 514.05,269.10 514.80,268.50 515.55,269.10 515.75,279.30" fill="#3838ff" opacity="1"/>
<polygon points="516.45,279.30 516.65,275.10 517.40,274.50 518.15,275.10 518.35,279.30" fill="#3838ff" opacity="1"/>
<polygon points="519.35,279.30 519.55,276.60 520.30,276.00 521.05,276.60 521.25,279.30" fill="#3838ff" opacity="1"/>
<polygon points="521.95,279.30 522.15,278.00 522.90,277.40 523.65,278.00 523.85,279.30" fill="#3838ff" opacity="1"/>
<polygon points="524.65,279.30 524.85,278.60 525.60,278.00 526.35,278.60 526.55,279.30" fill="#3838ff" opacity="1"/>
<line x1="441.00" y1="43.30" x2="441.00" y2="279.30" stroke="#8c2cc0" stroke-width="1.6"/>
<line x1="437.40" y1="344.30" x2="808.70" y2="344.30" stroke="#8e8e8e" stroke-width="1"/>
<line x1="808.70" y1="344.30" x2="808.70" y2="579.60" stroke="#8e8e8e" stroke-width="1"/>
<line x1="437.40" y1="579.60" x2="808.70" y2="579.60" stroke="#8e8e8e" stroke-width="1"/>
<line x1="437.40" y1="344.30" x2="437.40" y2="579.60" stroke="#8e8e8e" stroke-width="1"/>
<rect x="435.20" y="351.27" width="2.1" height="2.0" fill="#111"/>
<rect x="435.20" y="359.10" width="2.1" height="2.0" fill="#111"/>
<rect x="435.20" y="366.94" width="2.1" height="2.0" fill="#111"/>
<rect x="435.20" y="374.77" width="2.1" height="2.0" fill="#111"/>
<rect x="435.20" y="382.60" width="2.1" height="2.0" fill="#111"/>
<rect x="435.20" y="390.44" width="2.1" height="2.0" fill="#111"/>
<rect x="435.20" y="398.27" width="2.1" height="2.0" fill="#111"/>
<rect x="435.20" y="406.11" width="2.1" height="2.0" fill="#111"/>
<rect x="435.20" y="413.94" width="2.1" height="2.0" fill="#111"/>
<rect x="435.20" y="421.78" width="2.1" height="2.0" fill="#111"/>
<rect x="435.20" y="429.61" width="2.1" height="2.0" fill="#111"/>
<rect x="435.20" y="437.45" width="2.1" height="2.0" fill="#111"/>
<rect x="435.20" y="445.28" width="2.1" height="2.0" fill="#111"/>
<rect x="435.20" y="453.12" width="2.1" height="2.0" fill="#111"/>
<rect x="435.20" y="460.95" width="2.1" height="2.0" fill="#111"/>
<rect x="435.20" y="468.79" width="2.1" height="2.0" fill="#111"/>
<rect x="435.20" y="476.62" width="2.1" height="2.0" fill="#111"/>
<rect x="435.20" y="484.46" width="2.1" height="2.0" fill="#111"/>
<rect x="435.20" y="492.29" width="2.1" height="2.0" fill="#111"/>
<rect x="435.20" y="500.13" width="2.1" height="2.0" fill="#111"/>
<rect x="435.20" y="507.96" width="2.1" height="2.0" fill="#111"/>
<rect x="435.20" y="515.80" width="2.1" height="2.0" fill="#111"/>
<rect x="435.20" y="523.63" width="2.1" height="2.0" fill="#111"/>
<rect x="435.20" y="531.47" width="2.1" height="2.0" fill="#111"/>
<rect x="435.20" y="539.30" width="2.1" height="2.0" fill="#111"/>
<rect x="435.20" y="547.14" width="2.1" height="2.0" fill="#111"/>
<rect x="435.20" y="554.97" width="2.1" height="2.0" fill="#111"/>
<rect x="435.20" y="562.81" width="2.1" height="2.0" fill="#111"/>
<rect x="435.20" y="570.64" width="2.1" height="2.0" fill="#111"/>
<rect x="434.70" y="359.20" width="2.4" height="1.8" fill="#111"/>
<text x="435.3" y="364.2" font-family="'Liberation Sans', Arial, sans-serif" font-size="11" font-weight="bold" text-anchor="end" fill="#111" textLength="27.0" lengthAdjust="spacingAndGlyphs" stroke="#111" stroke-width="0.22">4200</text>
<rect x="434.70" y="374.87" width="2.4" height="1.8" fill="#111"/>
<text x="435.3" y="379.9" font-family="'Liberation Sans', Arial, sans-serif" font-size="11" font-weight="bold" text-anchor="end" fill="#111" textLength="27.0" lengthAdjust="spacingAndGlyphs" stroke="#111" stroke-width="0.22">3900</text>
<rect x="434.70" y="390.54" width="2.4" height="1.8" fill="#111"/>
<text x="435.3" y="395.5" font-family="'Liberation Sans', Arial, sans-serif" font-size="11" font-weight="bold" text-anchor="end" fill="#111" textLength="27.0" lengthAdjust="spacingAndGlyphs" stroke="#111" stroke-width="0.22">3600</text>
<rect x="434.70" y="406.21" width="2.4" height="1.8" fill="#111"/>
<text x="435.3" y="411.2" font-family="'Liberation Sans', Arial, sans-serif" font-size="11" font-weight="bold" text-anchor="end" fill="#111" textLength="27.0" lengthAdjust="spacingAndGlyphs" stroke="#111" stroke-width="0.22">3300</text>
<rect x="434.70" y="421.88" width="2.4" height="1.8" fill="#111"/>
<text x="435.3" y="426.9" font-family="'Liberation Sans', Arial, sans-serif" font-size="11" font-weight="bold" text-anchor="end" fill="#111" textLength="27.0" lengthAdjust="spacingAndGlyphs" stroke="#111" stroke-width="0.22">3000</text>
<rect x="434.70" y="437.55" width="2.4" height="1.8" fill="#111"/>
<text x="435.3" y="442.6" font-family="'Liberation Sans', Arial, sans-serif" font-size="11" font-weight="bold" text-anchor="end" fill="#111" textLength="27.0" lengthAdjust="spacingAndGlyphs" stroke="#111" stroke-width="0.22">2700</text>
<rect x="434.70" y="453.22" width="2.4" height="1.8" fill="#111"/>
<text x="435.3" y="458.2" font-family="'Liberation Sans', Arial, sans-serif" font-size="11" font-weight="bold" text-anchor="end" fill="#111" textLength="27.0" lengthAdjust="spacingAndGlyphs" stroke="#111" stroke-width="0.22">2400</text>
<rect x="434.70" y="468.89" width="2.4" height="1.8" fill="#111"/>
<text x="435.3" y="473.9" font-family="'Liberation Sans', Arial, sans-serif" font-size="11" font-weight="bold" text-anchor="end" fill="#111" textLength="27.0" lengthAdjust="spacingAndGlyphs" stroke="#111" stroke-width="0.22">2100</text>
<rect x="434.70" y="484.56" width="2.4" height="1.8" fill="#111"/>
<text x="435.3" y="489.6" font-family="'Liberation Sans', Arial, sans-serif" font-size="11" font-weight="bold" text-anchor="end" fill="#111" textLength="27.0" lengthAdjust="spacingAndGlyphs" stroke="#111" stroke-width="0.22">1800</text>
<rect x="434.70" y="500.23" width="2.4" height="1.8" fill="#111"/>
<text x="435.3" y="505.2" font-family="'Liberation Sans', Arial, sans-serif" font-size="11" font-weight="bold" text-anchor="end" fill="#111" textLength="27.0" lengthAdjust="spacingAndGlyphs" stroke="#111" stroke-width="0.22">1500</text>
<rect x="434.70" y="515.90" width="2.4" height="1.8" fill="#111"/>
<text x="435.3" y="520.9" font-family="'Liberation Sans', Arial, sans-serif" font-size="11" font-weight="bold" text-anchor="end" fill="#111" textLength="27.0" lengthAdjust="spacingAndGlyphs" stroke="#111" stroke-width="0.22">1200</text>
<rect x="434.70" y="531.57" width="2.4" height="1.8" fill="#111"/>
<text x="435.3" y="536.6" font-family="'Liberation Sans', Arial, sans-serif" font-size="11" font-weight="bold" text-anchor="end" fill="#111" textLength="20.0" lengthAdjust="spacingAndGlyphs" stroke="#111" stroke-width="0.22">900</text>
<rect x="434.70" y="547.24" width="2.4" height="1.8" fill="#111"/>
<text x="435.3" y="552.2" font-family="'Liberation Sans', Arial, sans-serif" font-size="11" font-weight="bold" text-anchor="end" fill="#111" textLength="20.0" lengthAdjust="spacingAndGlyphs" stroke="#111" stroke-width="0.22">600</text>
<rect x="434.70" y="562.91" width="2.4" height="1.8" fill="#111"/>
<text x="435.3" y="567.9" font-family="'Liberation Sans', Arial, sans-serif" font-size="11" font-weight="bold" text-anchor="end" fill="#111" textLength="20.0" lengthAdjust="spacingAndGlyphs" stroke="#111" stroke-width="0.22">300</text>
<rect x="456.90" y="342.00" width="1.6" height="4.6" fill="#111"/>
<rect x="492.20" y="342.00" width="1.6" height="4.6" fill="#111"/>
<rect x="528.20" y="342.00" width="1.6" height="4.6" fill="#111"/>
<rect x="564.20" y="342.00" width="1.6" height="4.6" fill="#111"/>
<rect x="599.20" y="342.00" width="1.6" height="4.6" fill="#111"/>
<rect x="633.00" y="342.00" width="1.6" height="4.6" fill="#111"/>
<rect x="670.80" y="342.00" width="1.6" height="4.6" fill="#111"/>
<rect x="705.80" y="342.00" width="1.6" height="4.6" fill="#111"/>
<rect x="740.70" y="342.00" width="1.6" height="4.6" fill="#111"/>
<rect x="776.70" y="342.00" width="1.6" height="4.6" fill="#111"/>
<text x="435.7" y="341.5" font-family="'Liberation Sans', Arial, sans-serif" font-size="11" font-weight="bold" text-anchor="start" fill="#111" textLength="6.1" lengthAdjust="spacingAndGlyphs" stroke="#111" stroke-width="0.22">0</text>
<text x="451.0" y="341.5" font-family="'Liberation Sans', Arial, sans-serif" font-size="11" font-weight="bold" text-anchor="start" fill="#111" textLength="13.4" lengthAdjust="spacingAndGlyphs" stroke="#111" stroke-width="0.22">80</text>
<text x="525.3" y="341.5" font-family="'Liberation Sans', Arial, sans-serif" font-size="11" font-weight="bold" text-anchor="start" fill="#111" textLength="19.2" lengthAdjust="spacingAndGlyphs" stroke="#111" stroke-width="0.22">160</text>
<text x="597.5" y="341.5" font-family="'Liberation Sans', Arial, sans-serif" font-size="11" font-weight="bold" text-anchor="start" fill="#111" textLength="19.9" lengthAdjust="spacingAndGlyphs" stroke="#111" stroke-width="0.22">240</text>
<text x="667.4" y="341.5" font-family="'Liberation Sans', Arial, sans-serif" font-size="11" font-weight="bold" text-anchor="start" fill="#111" textLength="19.9" lengthAdjust="spacingAndGlyphs" stroke="#111" stroke-width="0.22">320</text>
<text x="739.0" y="341.5" font-family="'Liberation Sans', Arial, sans-serif" font-size="11" font-weight="bold" text-anchor="start" fill="#111" textLength="20.7" lengthAdjust="spacingAndGlyphs" stroke="#111" stroke-width="0.22">400</text>
<line x1="453.50" y1="579.60" x2="453.50" y2="585.00" stroke="#333" stroke-width="1.2"/>
<line x1="475.10" y1="579.60" x2="475.10" y2="585.00" stroke="#333" stroke-width="1.2"/>
<line x1="509.40" y1="579.60" x2="509.40" y2="585.00" stroke="#333" stroke-width="1.2"/>
<line x1="563.90" y1="579.60" x2="563.90" y2="585.00" stroke="#333" stroke-width="1.2"/>
<line x1="602.70" y1="579.60" x2="602.70" y2="585.00" stroke="#333" stroke-width="1.2"/>
<line x1="652.40" y1="579.60" x2="652.40" y2="585.00" stroke="#333" stroke-width="1.2"/>
<line x1="688.00" y1="579.60" x2="688.00" y2="585.00" stroke="#333" stroke-width="1.2"/>
<line x1="741.20" y1="579.60" x2="741.20" y2="585.00" stroke="#333" stroke-width="1.2"/>
<line x1="786.00" y1="579.60" x2="786.00" y2="585.00" stroke="#333" stroke-width="1.2"/>
<text x="436.5" y="593.2" font-family="'Liberation Sans', Arial, sans-serif" font-size="11" font-weight="bold" text-anchor="start" fill="#111" textLength="29.5" lengthAdjust="spacingAndGlyphs" stroke="#111" stroke-width="0.22">76.09</text>
<text x="471.3" y="593.2" font-family="'Liberation Sans', Arial, sans-serif" font-size="11" font-weight="bold" text-anchor="start" fill="#111" textLength="29.8" lengthAdjust="spacingAndGlyphs" stroke="#111" stroke-width="0.22">100.0</text>
<text x="507.6" y="593.2" font-family="'Liberation Sans', Arial, sans-serif" font-size="11" font-weight="bold" text-anchor="start" fill="#111" textLength="29.9" lengthAdjust="spacingAndGlyphs" stroke="#111" stroke-width="0.22">139.0</text>
<text x="550.6" y="593.2" font-family="'Liberation Sans', Arial, sans-serif" font-size="11" font-weight="bold" text-anchor="start" fill="#111" textLength="29.9" lengthAdjust="spacingAndGlyphs" stroke="#111" stroke-width="0.22">200.0</text>
<text x="589.6" y="593.2" font-family="'Liberation Sans', Arial, sans-serif" font-size="11" font-weight="bold" text-anchor="start" fill="#111" textLength="36.9" lengthAdjust="spacingAndGlyphs" stroke="#111" stroke-width="0.22">244.01</text>
<text x="635.6" y="593.2" font-family="'Liberation Sans', Arial, sans-serif" font-size="11" font-weight="bold" text-anchor="start" fill="#111" textLength="31.4" lengthAdjust="spacingAndGlyphs" stroke="#111" stroke-width="0.22">300.0</text>
<text x="672.7" y="593.2" font-family="'Liberation Sans', Arial, sans-serif" font-size="11" font-weight="bold" text-anchor="start" fill="#111" textLength="31.1" lengthAdjust="spacingAndGlyphs" stroke="#111" stroke-width="0.22">340.0</text>
<text x="728.3" y="593.2" font-family="'Liberation Sans', Arial, sans-serif" font-size="11" font-weight="bold" text-anchor="start" fill="#111" textLength="31.4" lengthAdjust="spacingAndGlyphs" stroke="#111" stroke-width="0.22">400.0</text>
<text x="768.8" y="593.2" font-family="'Liberation Sans', Arial, sans-serif" font-size="11" font-weight="bold" text-anchor="start" fill="#111" textLength="30.4" lengthAdjust="spacingAndGlyphs" stroke="#111" stroke-width="0.22">450.0</text>
<text x="596.4" y="614.4" font-family="'Liberation Sans', Arial, sans-serif" font-size="12" font-weight="bold" text-anchor="start" fill="#111" textLength="79.4" lengthAdjust="spacingAndGlyphs" stroke="#111" stroke-width="0.22">Allele size (bp)</text>
<text transform="translate(401.2,495.8) rotate(-90)" x="0" y="0" font-family="'Liberation Sans', Arial, sans-serif" font-size="12" font-weight="bold" fill="#111" stroke="#111" stroke-width="0.22" textLength="70.2" lengthAdjust="spacingAndGlyphs">Allele height</text>
<polyline points="452.00,579.60 452.28,574.77 452.38,569.93 452.49,560.27 452.60,544.16 452.70,523.22 452.79,499.05 452.88,474.88 452.97,450.72 453.04,434.61 453.11,423.33 453.20,418.50 453.29,423.33 453.36,434.61 453.43,450.72 453.52,474.88 453.61,499.05 453.70,523.22 453.80,544.16 453.91,560.27 454.02,569.93 454.12,574.77 454.40,579.60" fill="#ffe2c8" stroke="#fda45e" stroke-width="1.0" stroke-linejoin="round"/>
<polyline points="473.80,579.60 474.12,574.18 474.22,568.76 474.33,557.92 474.45,539.85 474.56,516.36 474.66,489.25 474.75,462.14 474.85,435.04 474.93,416.97 475.01,404.32 475.10,398.90 475.19,404.32 475.27,416.97 475.35,435.04 475.45,462.14 475.54,489.25 475.64,516.36 475.75,539.85 475.87,557.92 475.98,568.76 476.08,574.18 476.40,579.60" fill="#ffe2c8" stroke="#fda45e" stroke-width="1.0" stroke-linejoin="round"/>
<polyline points="508.20,579.60 508.55,573.57 508.66,567.53 508.78,555.47 508.91,535.36 509.02,509.22 509.13,479.05 509.23,448.88 509.33,418.72 509.42,398.61 509.50,384.53 509.60,378.50 509.70,384.53 509.78,398.61 509.87,418.72 509.97,448.88 510.07,479.05 510.18,509.22 510.29,535.36 510.42,555.47 510.54,567.53 510.65,573.57 511.00,579.60" fill="#ffe2c8" stroke="#fda45e" stroke-width="1.0" stroke-linejoin="round"/>
<polyline points="518.20,579.60 518.55,573.53 518.66,567.47 518.78,555.34 518.91,535.12 519.03,508.83 519.13,478.50 519.23,448.17 519.33,417.84 519.42,397.62 519.50,383.47 519.60,377.40 519.70,383.47 519.78,397.62 519.87,417.84 519.97,448.17 520.07,478.50 520.17,508.83 520.29,535.12 520.42,555.34 520.54,567.47 520.65,573.53 521.00,579.60" fill="#ffe2c8" stroke="#fda45e" stroke-width="1.0" stroke-linejoin="round"/>
<polyline points="527.00,579.60 527.35,573.55 527.46,567.50 527.58,555.41 527.71,535.25 527.82,509.04 527.93,478.80 528.03,448.56 528.13,418.32 528.22,398.16 528.30,384.05 528.40,378.00 528.50,384.05 528.58,398.16 528.67,418.32 528.77,448.56 528.87,478.80 528.98,509.04 529.09,535.25 529.22,555.41 529.34,567.50 529.45,573.55 529.80,579.60" fill="#ffe2c8" stroke="#fda45e" stroke-width="1.0" stroke-linejoin="round"/>
<polyline points="562.40,579.60 562.77,573.57 562.89,567.55 563.02,555.49 563.16,535.40 563.28,509.29 563.40,479.15 563.51,449.01 563.62,418.88 563.70,398.79 563.80,384.73 563.90,378.70 564.00,384.73 564.10,398.79 564.18,418.88 564.29,449.01 564.40,479.15 564.52,509.29 564.64,535.40 564.78,555.49 564.91,567.55 565.03,573.57 565.40,579.60" fill="#ffe2c8" stroke="#fda45e" stroke-width="1.0" stroke-linejoin="round"/>
<polyline points="601.10,579.60 601.49,573.94 601.62,568.28 601.76,556.97 601.91,538.11 602.04,513.59 602.16,485.30 602.28,457.01 602.40,428.72 602.49,409.86 602.59,396.66 602.70,391.00 602.81,396.66 602.91,409.86 603.00,428.72 603.12,457.01 603.24,485.30 603.36,513.59 603.49,538.11 603.64,556.97 603.78,568.28 603.91,573.94 604.30,579.60" fill="#ffe2c8" stroke="#fda45e" stroke-width="1.0" stroke-linejoin="round"/>
<polyline points="650.70,579.60 651.11,574.17 651.25,568.75 651.40,557.89 651.55,539.80 651.70,516.28 651.83,489.15 651.95,462.01 652.08,434.88 652.18,416.79 652.28,404.13 652.40,398.70 652.52,404.13 652.62,416.79 652.72,434.88 652.85,462.01 652.97,489.15 653.10,516.28 653.25,539.80 653.40,557.89 653.55,568.75 653.69,574.17 654.10,579.60" fill="#ffe2c8" stroke="#fda45e" stroke-width="1.0" stroke-linejoin="round"/>
<polyline points="686.20,579.60 686.63,574.41 686.77,569.23 686.94,558.85 687.10,541.56 687.25,519.09 687.39,493.15 687.52,467.22 687.65,441.28 687.76,423.99 687.87,411.89 688.00,406.70 688.13,411.89 688.24,423.99 688.35,441.28 688.48,467.22 688.61,493.15 688.75,519.09 688.90,541.56 689.06,558.85 689.23,569.23 689.37,574.41 689.80,579.60" fill="#ffe2c8" stroke="#fda45e" stroke-width="1.0" stroke-linejoin="round"/>
<polyline points="695.30,579.60 695.73,574.41 695.87,569.23 696.04,558.85 696.20,541.56 696.35,519.09 696.49,493.15 696.62,467.22 696.75,441.28 696.86,423.99 696.97,411.89 697.10,406.70 697.23,411.89 697.34,423.99 697.45,441.28 697.58,467.22 697.71,493.15 697.85,519.09 698.00,541.56 698.16,558.85 698.33,569.23 698.47,574.41 698.90,579.60" fill="#ffe2c8" stroke="#fda45e" stroke-width="1.0" stroke-linejoin="round"/>
<polyline points="739.20,579.60 739.67,574.62 739.83,569.65 740.01,559.69 740.20,543.10 740.37,521.53 740.52,496.65 740.67,471.76 740.82,446.88 740.94,430.29 741.06,418.68 741.20,413.70 741.34,418.68 741.46,430.29 741.58,446.88 741.73,471.76 741.88,496.65 742.03,521.53 742.20,543.10 742.39,559.69 742.57,569.65 742.73,574.62 743.20,579.60" fill="#ffe2c8" stroke="#fda45e" stroke-width="1.0" stroke-linejoin="round"/>
<polyline points="783.80,579.60 784.32,574.83 784.49,570.07 784.69,560.53 784.89,544.64 785.08,523.99 785.25,500.15 785.41,476.31 785.58,452.48 785.71,436.59 785.84,425.47 786.00,420.70 786.16,425.47 786.29,436.59 786.42,452.48 786.59,476.31 786.75,500.15 786.92,523.99 787.11,544.64 787.31,560.53 787.51,570.07 787.68,574.83 788.20,579.60" fill="#ffe2c8" stroke="#fda45e" stroke-width="1.0" stroke-linejoin="round"/>
<rect x="640.00" y="578.70" width="1.75" height="1.2" fill="#6060e0" opacity="0.3"/>
<rect x="644.34" y="578.70" width="1.56" height="1.2" fill="#6060e0" opacity="0.3"/>
<rect x="650.03" y="578.70" width="3.04" height="1.2" fill="#6060e0" opacity="0.3"/>
<rect x="655.01" y="578.70" width="2.13" height="1.2" fill="#6060e0" opacity="0.3"/>
<rect x="659.68" y="578.70" width="2.41" height="1.2" fill="#6060e0" opacity="0.3"/>
<rect x="663.96" y="578.70" width="3.62" height="1.2" fill="#6060e0" opacity="0.3"/>
<rect x="672.07" y="578.70" width="2.66" height="1.2" fill="#6060e0" opacity="0.3"/>
<rect x="677.68" y="578.70" width="1.71" height="1.2" fill="#6060e0" opacity="0.3"/>
<rect x="681.20" y="578.70" width="2.36" height="1.2" fill="#6060e0" opacity="0.3"/>
<rect x="685.85" y="578.70" width="3.57" height="1.2" fill="#6060e0" opacity="0.3"/>
<rect x="691.41" y="578.70" width="1.56" height="1.2" fill="#6060e0" opacity="0.3"/>
<rect x="697.32" y="578.70" width="2.82" height="1.2" fill="#6060e0" opacity="0.3"/>
<rect x="702.08" y="578.70" width="2.86" height="1.2" fill="#6060e0" opacity="0.3"/>
<rect x="706.52" y="578.70" width="2.82" height="1.2" fill="#6060e0" opacity="0.3"/>
<rect x="713.78" y="578.70" width="3.66" height="1.2" fill="#6060e0" opacity="0.3"/>
<rect x="721.02" y="578.70" width="2.15" height="1.2" fill="#6060e0" opacity="0.3"/>
<rect x="725.78" y="578.70" width="1.92" height="1.2" fill="#6060e0" opacity="0.3"/>
<rect x="731.51" y="578.70" width="2.83" height="1.2" fill="#6060e0" opacity="0.3"/>
<rect x="738.18" y="578.70" width="2.32" height="1.2" fill="#6060e0" opacity="0.3"/>
<rect x="742.67" y="578.70" width="3.53" height="1.2" fill="#6060e0" opacity="0.3"/>
<rect x="750.66" y="578.70" width="3.63" height="1.2" fill="#6060e0" opacity="0.3"/>
<rect x="758.21" y="578.70" width="3.55" height="1.2" fill="#6060e0" opacity="0.3"/>
<rect x="765.47" y="578.70" width="2.07" height="1.2" fill="#6060e0" opacity="0.3"/>
<rect x="770.59" y="578.70" width="2.39" height="1.2" fill="#6060e0" opacity="0.3"/>
<rect x="774.57" y="578.70" width="1.57" height="1.2" fill="#6060e0" opacity="0.3"/>
<rect x="778.47" y="578.70" width="2.15" height="1.2" fill="#6060e0" opacity="0.3"/>
<rect x="784.20" y="578.70" width="3.89" height="1.2" fill="#6060e0" opacity="0.3"/>
<rect x="790.93" y="578.70" width="3.84" height="1.2" fill="#6060e0" opacity="0.3"/>
<rect x="799.24" y="578.70" width="3.89" height="1.2" fill="#6060e0" opacity="0.3"/>
<rect x="805.72" y="578.70" width="2.05" height="1.2" fill="#6060e0" opacity="0.3"/>
<rect x="447.6" y="519.60" width="4.8" height="60" fill="#2a2aff"/>
<polygon points="438.60,579.60 439.05,568.57 439.50,567.97 439.95,568.57 440.40,579.60" fill="#4a4aff" opacity="1"/>
<polygon points="441.20,579.60 441.65,569.78 442.10,569.18 442.55,569.78 443.00,579.60" fill="#4a4aff" opacity="1"/>
<polygon points="443.80,579.60 444.25,568.79 444.70,568.19 445.15,568.79 445.60,579.60" fill="#4a4aff" opacity="1"/>
<polygon points="446.40,579.60 446.85,529.19 447.30,528.59 447.75,529.19 448.20,579.60" fill="#4a4aff" opacity="1"/>
<polygon points="449.00,579.60 449.45,509.99 449.90,509.39 450.35,509.99 450.80,579.60" fill="#4a4aff" opacity="1"/>
<polygon points="451.60,579.60 452.05,521.64 452.50,521.04 452.95,521.64 453.40,579.60" fill="#4a4aff" opacity="1"/>
<polygon points="454.20,579.60 454.65,521.32 455.10,520.72 455.55,521.32 456.00,579.60" fill="#4a4aff" opacity="1"/>
<polygon points="456.80,579.60 457.25,526.27 457.70,525.67 458.15,526.27 458.60,579.60" fill="#4a4aff" opacity="1"/>
<polygon points="459.40,579.60 459.85,548.90 460.30,548.30 460.75,548.90 461.20,579.60" fill="#4a4aff" opacity="1"/>
<polygon points="462.00,579.60 462.45,542.21 462.90,541.61 463.35,542.21 463.80,579.60" fill="#4a4aff" opacity="1"/>
<polygon points="464.60,579.60 465.05,543.05 465.50,542.45 465.95,543.05 466.40,579.60" fill="#4a4aff" opacity="1"/>
<polygon points="467.20,579.60 467.65,553.15 468.10,552.55 468.55,553.15 469.00,579.60" fill="#4a4aff" opacity="1"/>
<polygon points="469.80,579.60 470.25,560.42 470.70,559.82 471.15,560.42 471.60,579.60" fill="#4a4aff" opacity="1"/>
<polygon points="472.40,579.60 472.85,564.36 473.30,563.76 473.75,564.36 474.20,579.60" fill="#4a4aff" opacity="1"/>
<polygon points="475.00,579.60 475.45,568.06 475.90,567.46 476.35,568.06 476.80,579.60" fill="#4a4aff" opacity="1"/>
<polygon points="477.60,579.60 478.05,565.44 478.50,564.84 478.95,565.44 479.40,579.60" fill="#4a4aff" opacity="1"/>
<polygon points="480.20,579.60 480.65,569.26 481.10,568.66 481.55,569.26 482.00,579.60" fill="#4a4aff" opacity="1"/>
<polygon points="482.80,579.60 483.25,566.61 483.70,566.01 484.15,566.61 484.60,579.60" fill="#4a4aff" opacity="1"/>
<polygon points="485.40,579.60 485.85,565.76 486.30,565.16 486.75,565.76 487.20,579.60" fill="#4a4aff" opacity="1"/>
<polygon points="488.00,579.60 488.45,569.25 488.90,568.65 489.35,569.25 489.80,579.60" fill="#4a4aff" opacity="1"/>
<polygon points="490.60,579.60 491.05,569.34 491.50,568.74 491.95,569.34 492.40,579.60" fill="#4a4aff" opacity="1"/>
<polygon points="493.20,579.60 493.65,566.38 494.10,565.78 494.55,566.38 495.00,579.60" fill="#4a4aff" opacity="1"/>
<polygon points="495.80,579.60 496.25,567.78 496.70,567.18 497.15,567.78 497.60,579.60" fill="#4a4aff" opacity="1"/>
<polygon points="498.40,579.60 498.85,570.99 499.30,570.39 499.75,570.99 500.20,579.60" fill="#4a4aff" opacity="1"/>
<polygon points="501.00,579.60 501.45,571.33 501.90,570.73 502.35,571.33 502.80,579.60" fill="#4a4aff" opacity="1"/>
<polygon points="503.60,579.60 504.05,571.30 504.50,570.70 504.95,571.30 505.40,579.60" fill="#4a4aff" opacity="1"/>
<polygon points="506.20,579.60 506.65,567.40 507.10,566.80 507.55,567.40 508.00,579.60" fill="#4a4aff" opacity="1"/>
<polygon points="508.80,579.60 509.25,568.07 509.70,567.47 510.15,568.07 510.60,579.60" fill="#4a4aff" opacity="1"/>
<polygon points="511.40,579.60 511.85,571.65 512.30,571.05 512.75,571.65 513.20,579.60" fill="#4a4aff" opacity="1"/>
<polygon points="514.00,579.60 514.45,568.27 514.90,567.67 515.35,568.27 515.80,579.60" fill="#4a4aff" opacity="1"/>
<polygon points="516.60,579.60 517.05,567.64 517.50,567.04 517.95,567.64 518.40,579.60" fill="#4a4aff" opacity="1"/>
<polygon points="519.20,579.60 519.65,569.42 520.10,568.82 520.55,569.42 521.00,579.60" fill="#4a4aff" opacity="1"/>
<polygon points="521.80,579.60 522.25,571.01 522.70,570.41 523.15,571.01 523.60,579.60" fill="#4a4aff" opacity="1"/>
<polygon points="524.40,579.60 524.85,570.09 525.30,569.49 525.75,570.09 526.20,579.60" fill="#4a4aff" opacity="1"/>
<polygon points="527.00,579.60 527.45,572.21 527.90,571.61 528.35,572.21 528.80,579.60" fill="#4a4aff" opacity="1"/>
<polygon points="529.60,579.60 530.05,572.83 530.50,572.23 530.95,572.83 531.40,579.60" fill="#4a4aff" opacity="1"/>
<polygon points="532.20,579.60 532.65,568.25 533.10,567.65 533.55,568.25 534.00,579.60" fill="#4a4aff" opacity="1"/>
<polygon points="534.80,579.60 535.25,569.87 535.70,569.27 536.15,569.87 536.60,579.60" fill="#4a4aff" opacity="1"/>
<polygon points="537.40,579.60 537.85,570.53 538.30,569.93 538.75,570.53 539.20,579.60" fill="#4a4aff" opacity="1"/>
<polygon points="540.00,579.60 540.45,568.67 540.90,568.07 541.35,568.67 541.80,579.60" fill="#4a4aff" opacity="1"/>
<polygon points="542.60,579.60 543.05,571.10 543.50,570.50 543.95,571.10 544.40,579.60" fill="#4a4aff" opacity="1"/>
<polygon points="545.20,579.60 545.65,569.12 546.10,568.52 546.55,569.12 547.00,579.60" fill="#4a4aff" opacity="1"/>
<polygon points="547.80,579.60 548.25,569.40 548.70,568.80 549.15,569.40 549.60,579.60" fill="#4a4aff" opacity="1"/>
<polygon points="550.40,579.60 550.85,572.31 551.30,571.71 551.75,572.31 552.20,579.60" fill="#4a4aff" opacity="1"/>
<polygon points="553.00,579.60 553.45,572.18 553.90,571.58 554.35,572.18 554.80,579.60" fill="#4a4aff" opacity="1"/>
<polygon points="555.60,579.60 556.05,572.05 556.50,571.45 556.95,572.05 557.40,579.60" fill="#4a4aff" opacity="1"/>
<polygon points="558.20,579.60 558.65,572.35 559.10,571.75 559.55,572.35 560.00,579.60" fill="#4a4aff" opacity="1"/>
<polygon points="560.80,579.60 561.25,570.77 561.70,570.17 562.15,570.77 562.60,579.60" fill="#4a4aff" opacity="1"/>
<polygon points="563.40,579.60 563.85,572.19 564.30,571.59 564.75,572.19 565.20,579.60" fill="#4a4aff" opacity="1"/>
<polygon points="566.00,579.60 566.45,571.40 566.90,570.80 567.35,571.40 567.80,579.60" fill="#4a4aff" opacity="1"/>
<polygon points="568.60,579.60 569.05,572.67 569.50,572.07 569.95,572.67 570.40,579.60" fill="#4a4aff" opacity="1"/>
<polygon points="571.20,579.60 571.65,568.99 572.10,568.39 572.55,568.99 573.00,579.60" fill="#4a4aff" opacity="1"/>
<polygon points="573.80,579.60 574.25,571.52 574.70,570.92 575.15,571.52 575.60,579.60" fill="#4a4aff" opacity="1"/>
<polygon points="576.40,579.60 576.85,570.96 577.30,570.36 577.75,570.96 578.20,579.60" fill="#4a4aff" opacity="1"/>
<polygon points="579.00,579.60 579.45,570.31 579.90,569.71 580.35,570.31 580.80,579.60" fill="#4a4aff" opacity="1"/>
<polygon points="581.60,579.60 582.05,568.70 582.50,568.10 582.95,568.70 583.40,579.60" fill="#4a4aff" opacity="1"/>
<polygon points="584.20,579.60 584.65,570.95 585.10,570.35 585.55,570.95 586.00,579.60" fill="#4a4aff" opacity="1"/>
<polygon points="586.80,579.60 587.25,568.48 587.70,567.88 588.15,568.48 588.60,579.60" fill="#4a4aff" opacity="1"/>
<polygon points="589.40,579.60 589.85,570.43 590.30,569.83 590.75,570.43 591.20,579.60" fill="#4a4aff" opacity="1"/>
<polygon points="592.00,579.60 592.45,570.22 592.90,569.62 593.35,570.22 593.80,579.60" fill="#4a4aff" opacity="1"/>
<polygon points="594.60,579.60 595.05,570.20 595.50,569.60 595.95,570.20 596.40,579.60" fill="#4a4aff" opacity="1"/>
<polygon points="597.20,579.60 597.65,572.64 598.10,572.04 598.55,572.64 599.00,579.60" fill="#4a4aff" opacity="1"/>
<polygon points="599.80,579.60 600.25,570.59 600.70,569.99 601.15,570.59 601.60,579.60" fill="#4a4aff" opacity="1"/>
<polygon points="602.40,579.60 602.85,572.15 603.30,571.55 603.75,572.15 604.20,579.60" fill="#4a4aff" opacity="1"/>
<polygon points="605.00,579.60 605.45,573.27 605.90,572.67 606.35,573.27 606.80,579.60" fill="#4a4aff" opacity="1"/>
<polygon points="607.60,579.60 608.05,570.01 608.50,569.41 608.95,570.01 609.40,579.60" fill="#4a4aff" opacity="1"/>
<polygon points="610.20,579.60 610.65,573.08 611.10,572.48 611.55,573.08 612.00,579.60" fill="#4a4aff" opacity="1"/>
<polygon points="612.80,579.60 613.25,572.13 613.70,571.53 614.15,572.13 614.60,579.60" fill="#4a4aff" opacity="1"/>
<polygon points="615.40,579.60 615.85,571.78 616.30,571.18 616.75,571.78 617.20,579.60" fill="#4a4aff" opacity="1"/>
<polygon points="618.00,579.60 618.45,573.31 618.90,572.71 619.35,573.31 619.80,579.60" fill="#4a4aff" opacity="1"/>
<polygon points="620.60,579.60 621.05,574.87 621.50,574.27 621.95,574.87 622.40,579.60" fill="#4a4aff" opacity="1"/>
<polygon points="623.20,579.60 623.65,575.19 624.10,574.59 624.55,575.19 625.00,579.60" fill="#4a4aff" opacity="1"/>
<polygon points="625.80,579.60 626.25,575.99 626.70,575.39 627.15,575.99 627.60,579.60" fill="#4a4aff" opacity="1"/>
<polygon points="628.40,579.60 628.85,576.51 629.30,575.91 629.75,576.51 630.20,579.60" fill="#4a4aff" opacity="1"/>
<polygon points="631.00,579.60 631.45,577.99 631.90,577.39 632.35,577.99 632.80,579.60" fill="#4a4aff" opacity="1"/>
<polygon points="633.60,579.60 634.05,577.73 634.50,577.13 634.95,577.73 635.40,579.60" fill="#4a4aff" opacity="1"/>
<polygon points="636.20,579.60 636.65,578.40 637.10,577.80 637.55,578.40 638.00,579.60" fill="#4a4aff" opacity="1"/>
<polygon points="638.80,579.60 639.25,578.68 639.70,578.08 640.15,578.68 640.60,579.60" fill="#4a4aff" opacity="1"/>
<polygon points="641.40,579.60 641.85,578.65 642.30,578.05 642.75,578.65 643.20,579.60" fill="#4a4aff" opacity="1"/>
<polygon points="644.00,579.60 644.45,579.18 644.90,578.58 645.35,579.18 645.80,579.60" fill="#4a4aff" opacity="1"/>
<rect x="457.00" y="348.80" width="1.60" height="230.80" fill="#e8847c"/>
<line x1="460.40" y1="579.60" x2="460.40" y2="348.80" stroke="#c04080" stroke-width="1.6" stroke-dasharray="1.3,1.3"/>
<line x1="464.00" y1="380.00" x2="464.00" y2="348.80" stroke="#d04060" stroke-width="1.0" stroke-dasharray="1.3,1.3"/>
<polygon points="439.65,579.60 440.00,562.30 440.70,561.70 441.40,562.30 441.75,579.60" fill="#3838ff" opacity="1"/>
<polygon points="441.55,579.60 441.90,568.60 442.60,568.00 443.30,568.60 443.65,579.60" fill="#3838ff" opacity="1"/>
<polygon points="443.55,579.60 443.90,572.60 444.60,572.00 445.30,572.60 445.65,579.60" fill="#3838ff" opacity="1"/>
<polygon points="445.00,579.60 445.90,575.60 446.60,575.00 447.30,575.60 448.20,579.60" fill="#3838ff" opacity="1"/>
<polygon points="447.00,579.60 447.90,411.60 448.60,411.00 449.30,411.60 450.20,579.60" fill="#3838ff" opacity="1"/>
<polygon points="448.50,579.60 449.40,453.90 450.10,453.30 450.80,453.90 451.70,579.60" fill="#3838ff" opacity="1"/>
<polygon points="450.50,579.60 451.40,349.60 452.10,349.00 452.80,349.60 453.70,579.60" fill="#3838ff" opacity="1"/>
<polygon points="452.70,579.60 453.60,472.00 454.30,471.40 455.00,472.00 455.90,579.60" fill="#3838ff" opacity="1"/>
<polygon points="455.00,579.60 455.90,386.60 456.60,386.00 457.30,386.60 458.20,579.60" fill="#3838ff" opacity="1"/>
<polygon points="456.20,579.60 457.10,370.10 457.80,369.50 458.50,370.10 459.40,579.60" fill="#3838ff" opacity="1"/>
<polygon points="457.40,579.60 458.30,455.60 459.00,455.00 459.70,455.60 460.60,579.60" fill="#3838ff" opacity="1"/>
<polygon points="458.70,579.60 459.60,363.30 460.30,362.70 461.00,363.30 461.90,579.60" fill="#3838ff" opacity="1"/>
<polygon points="461.40,579.60 462.30,349.60 463.00,349.00 463.70,349.60 464.60,579.60" fill="#3838ff" opacity="1"/>
<polygon points="464.95,579.60 465.30,438.80 466.00,438.20 466.70,438.80 467.05,579.60" fill="#3838ff" opacity="1"/>
<polygon points="467.95,579.60 468.30,479.50 469.00,478.90 469.70,479.50 470.05,579.60" fill="#3838ff" opacity="1"/>
<polygon points="470.35,579.60 470.70,501.40 471.40,500.80 472.10,501.40 472.45,579.60" fill="#3838ff" opacity="1"/>
<polygon points="472.95,579.60 473.30,506.00 474.00,505.40 474.70,506.00 475.05,579.60" fill="#3838ff" opacity="1"/>
<polygon points="475.55,579.60 475.90,512.80 476.60,512.20 477.30,512.80 477.65,579.60" fill="#3838ff" opacity="1"/>
<polygon points="478.15,579.60 478.50,514.80 479.20,514.20 479.90,514.80 480.25,579.60" fill="#3838ff" opacity="1"/>
<polygon points="480.55,579.60 480.90,522.90 481.60,522.30 482.30,522.90 482.65,579.60" fill="#3838ff" opacity="1"/>
<polygon points="483.15,579.60 483.50,527.50 484.20,526.90 484.90,527.50 485.25,579.60" fill="#3838ff" opacity="1"/>
<polygon points="485.55,579.60 485.90,532.50 486.60,531.90 487.30,532.50 487.65,579.60" fill="#3838ff" opacity="1"/>
<polygon points="488.15,579.60 488.50,534.70 489.20,534.10 489.90,534.70 490.25,579.60" fill="#3838ff" opacity="1"/>
<polygon points="490.45,579.60 490.80,541.60 491.50,541.00 492.20,541.60 492.55,579.60" fill="#3838ff" opacity="1"/>
<polygon points="492.95,579.60 493.30,544.30 494.00,543.70 494.70,544.30 495.05,579.60" fill="#3838ff" opacity="1"/>
<polygon points="495.35,579.60 495.70,546.10 496.40,545.50 497.10,546.10 497.45,579.60" fill="#3838ff" opacity="1"/>
<polygon points="497.95,579.60 498.30,547.60 499.00,547.00 499.70,547.60 500.05,579.60" fill="#3838ff" opacity="1"/>
<polygon points="500.35,579.60 500.70,550.20 501.40,549.60 502.10,550.20 502.45,579.60" fill="#3838ff" opacity="1"/>
<polygon points="502.75,579.60 503.10,550.60 503.80,550.00 504.50,550.60 504.85,579.60" fill="#3838ff" opacity="1"/>
<polygon points="505.15,579.60 505.50,550.60 506.20,550.00 506.90,550.60 507.25,579.60" fill="#3838ff" opacity="1"/>
<polygon points="507.75,579.60 508.10,552.90 508.80,552.30 509.50,552.90 509.85,579.60" fill="#3838ff" opacity="1"/>
<polygon points="510.35,579.60 510.70,552.60 511.40,552.00 512.10,552.60 512.45,579.60" fill="#3838ff" opacity="1"/>
<polygon points="512.95,579.60 513.30,551.40 514.00,550.80 514.70,551.40 515.05,579.60" fill="#3838ff" opacity="1"/>
<polygon points="515.55,579.60 515.90,555.90 516.60,555.30 517.30,555.90 517.65,579.60" fill="#3838ff" opacity="1"/>
<polygon points="518.15,579.60 518.50,555.60 519.20,555.00 519.90,555.60 520.25,579.60" fill="#3838ff" opacity="1"/>
<polygon points="520.75,579.60 521.10,556.20 521.80,555.60 522.50,556.20 522.85,579.60" fill="#3838ff" opacity="1"/>
<polygon points="523.35,579.60 523.70,556.60 524.40,556.00 525.10,556.60 525.45,579.60" fill="#3838ff" opacity="1"/>
<polygon points="525.95,579.60 526.30,557.60 527.00,557.00 527.70,557.60 528.05,579.60" fill="#3838ff" opacity="1"/>
<polygon points="528.55,579.60 528.90,558.10 529.60,557.50 530.30,558.10 530.65,579.60" fill="#3838ff" opacity="1"/>
<polygon points="531.15,579.60 531.50,557.65 532.20,557.05 532.90,557.65 533.25,579.60" fill="#3838ff" opacity="1"/>
<polygon points="533.75,579.60 534.10,558.30 534.80,557.70 535.50,558.30 535.85,579.60" fill="#3838ff" opacity="1"/>
<polygon points="536.35,579.60 536.70,558.95 537.40,558.35 538.10,558.95 538.45,579.60" fill="#3838ff" opacity="1"/>
<polygon points="538.95,579.60 539.30,559.60 540.00,559.00 540.70,559.60 541.05,579.60" fill="#3838ff" opacity="1"/>
<polygon points="541.55,579.60 541.90,560.25 542.60,559.65 543.30,560.25 543.65,579.60" fill="#3838ff" opacity="1"/>
<polygon points="544.15,579.60 544.50,560.90 545.20,560.30 545.90,560.90 546.25,579.60" fill="#3838ff" opacity="1"/>
<polygon points="546.75,579.60 547.10,561.55 547.80,560.95 548.50,561.55 548.85,579.60" fill="#3838ff" opacity="1"/>
<polygon points="549.35,579.60 549.70,562.20 550.40,561.60 551.10,562.20 551.45,579.60" fill="#3838ff" opacity="1"/>
<polygon points="551.95,579.60 552.30,562.85 553.00,562.25 553.70,562.85 554.05,579.60" fill="#3838ff" opacity="1"/>
<polygon points="554.55,579.60 554.90,563.50 555.60,562.90 556.30,563.50 556.65,579.60" fill="#3838ff" opacity="1"/>
<polygon points="557.15,579.60 557.50,564.15 558.20,563.55 558.90,564.15 559.25,579.60" fill="#3838ff" opacity="1"/>
<polygon points="559.75,579.60 560.10,564.71 560.80,564.11 561.50,564.71 561.85,579.60" fill="#3838ff" opacity="1"/>
<polygon points="562.35,579.60 562.70,565.06 563.40,564.46 564.10,565.06 564.45,579.60" fill="#3838ff" opacity="1"/>
<polygon points="564.95,579.60 565.30,565.42 566.00,564.82 566.70,565.42 567.05,579.60" fill="#3838ff" opacity="1"/>
<polygon points="567.55,579.60 567.90,565.77 568.60,565.17 569.30,565.77 569.65,579.60" fill="#3838ff" opacity="1"/>
<polygon points="570.15,579.60 570.50,566.12 571.20,565.52 571.90,566.12 572.25,579.60" fill="#3838ff" opacity="1"/>
<polygon points="572.75,579.60 573.10,566.48 573.80,565.88 574.50,566.48 574.85,579.60" fill="#3838ff" opacity="1"/>
<polygon points="575.35,579.60 575.70,566.83 576.40,566.23 577.10,566.83 577.45,579.60" fill="#3838ff" opacity="1"/>
<polygon points="577.95,579.60 578.30,567.18 579.00,566.58 579.70,567.18 580.05,579.60" fill="#3838ff" opacity="1"/>
<polygon points="580.55,579.60 580.90,567.54 581.60,566.94 582.30,567.54 582.65,579.60" fill="#3838ff" opacity="1"/>
<polygon points="583.15,579.60 583.50,567.89 584.20,567.29 584.90,567.89 585.25,579.60" fill="#3838ff" opacity="1"/>
<polygon points="585.75,579.60 586.10,567.41 586.80,566.81 587.50,567.41 587.85,579.60" fill="#3838ff" opacity="1"/>
<polygon points="588.35,579.60 588.70,566.57 589.40,565.97 590.10,566.57 590.45,579.60" fill="#3838ff" opacity="1"/>
<polygon points="590.95,579.60 591.30,565.72 592.00,565.12 592.70,565.72 593.05,579.60" fill="#3838ff" opacity="1"/>
<polygon points="593.55,579.60 593.90,564.88 594.60,564.28 595.30,564.88 595.65,579.60" fill="#3838ff" opacity="1"/>
<polygon points="596.15,579.60 596.50,564.04 597.20,563.44 597.90,564.04 598.25,579.60" fill="#3838ff" opacity="1"/>
<polygon points="598.75,579.60 599.10,563.22 599.80,562.62 600.50,563.22 600.85,579.60" fill="#3838ff" opacity="1"/>
<polygon points="601.35,579.60 601.70,562.41 602.40,561.81 603.10,562.41 603.45,579.60" fill="#3838ff" opacity="1"/>
<polygon points="603.95,579.60 604.30,561.60 605.00,561.00 605.70,561.60 606.05,579.60" fill="#3838ff" opacity="1"/>
<polygon points="606.55,579.60 606.90,562.64 607.60,562.04 608.30,562.64 608.65,579.60" fill="#3838ff" opacity="1"/>
<polygon points="609.15,579.60 609.50,563.80 610.20,563.20 610.90,563.80 611.25,579.60" fill="#3838ff" opacity="1"/>
<polygon points="611.75,579.60 612.10,566.40 612.80,565.80 613.50,566.40 613.85,579.60" fill="#3838ff" opacity="1"/>
<polygon points="614.35,579.60 614.70,569.08 615.40,568.48 616.10,569.08 616.45,579.60" fill="#3838ff" opacity="1"/>
<polygon points="616.95,579.60 617.30,572.20 618.00,571.60 618.70,572.20 619.05,579.60" fill="#3838ff" opacity="1"/>
<polygon points="619.55,579.60 619.90,575.02 620.60,574.42 621.30,575.02 621.65,579.60" fill="#3838ff" opacity="1"/>
<polygon points="622.15,579.60 622.50,576.84 623.20,576.24 623.90,576.84 624.25,579.60" fill="#3838ff" opacity="1"/>
<polygon points="624.75,579.60 625.10,578.22 625.80,577.62 626.50,578.22 626.85,579.60" fill="#3838ff" opacity="1"/>
<polygon points="627.35,579.60 627.70,578.61 628.40,578.01 629.10,578.61 629.45,579.60" fill="#3838ff" opacity="1"/>
<polygon points="629.95,579.60 630.30,579.00 631.00,578.40 631.70,579.00 632.05,579.60" fill="#3838ff" opacity="1"/>
<polygon points="632.55,579.60 632.90,579.39 633.60,578.79 634.30,579.39 634.65,579.60" fill="#3838ff" opacity="1"/>
<polygon points="635.15,579.60 635.50,579.64 636.20,579.04 636.90,579.64 637.25,579.60" fill="#3838ff" opacity="1"/>
<polygon points="637.75,579.60 638.10,579.72 638.80,579.12 639.50,579.72 639.85,579.60" fill="#3838ff" opacity="1"/>
<polygon points="640.35,579.60 640.70,579.80 641.40,579.20 642.10,579.80 642.45,579.60" fill="#3838ff" opacity="1"/>
<polygon points="642.95,579.60 643.30,579.88 644.00,579.28 644.70,579.88 645.05,579.60" fill="#3838ff" opacity="1"/>
<polygon points="645.55,579.60 645.90,579.96 646.60,579.36 647.30,579.96 647.65,579.60" fill="#3838ff" opacity="1"/>
<rect x="456.9" y="516" width="1.7" height="63.6" fill="#e4867e"/>
<rect x="460.0" y="557" width="1.5" height="22.6" fill="#e4867e"/>
<line x1="607.20" y1="529.60" x2="607.20" y2="561.00" stroke="#000" stroke-width="2.5"/>
<text x="605.9" y="521.9" font-family="'Liberation Sans', Arial, sans-serif" font-size="11" font-weight="bold" text-anchor="start" fill="#111" textLength="37.4" lengthAdjust="spacingAndGlyphs" stroke="#111" stroke-width="0.22">243.55</text>
<line x1="441.70" y1="652.50" x2="810.80" y2="652.50" stroke="#8e8e8e" stroke-width="1"/>
<line x1="810.80" y1="652.50" x2="810.80" y2="888.30" stroke="#8e8e8e" stroke-width="1"/>
<line x1="441.70" y1="888.30" x2="810.80" y2="888.30" stroke="#8e8e8e" stroke-width="1"/>
<line x1="441.70" y1="652.50" x2="441.70" y2="888.30" stroke="#8e8e8e" stroke-width="1"/>
<rect x="439.50" y="660.16" width="2.1" height="2.0" fill="#111"/>
<rect x="439.50" y="668.00" width="2.1" height="2.0" fill="#111"/>
<rect x="439.50" y="675.84" width="2.1" height="2.0" fill="#111"/>
<rect x="439.50" y="683.67" width="2.1" height="2.0" fill="#111"/>
<rect x="439.50" y="691.51" width="2.1" height="2.0" fill="#111"/>
<rect x="439.50" y="699.34" width="2.1" height="2.0" fill="#111"/>
<rect x="439.50" y="707.18" width="2.1" height="2.0" fill="#111"/>
<rect x="439.50" y="715.01" width="2.1" height="2.0" fill="#111"/>
<rect x="439.50" y="722.85" width="2.1" height="2.0" fill="#111"/>
<rect x="439.50" y="730.68" width="2.1" height="2.0" fill="#111"/>
<rect x="439.50" y="738.52" width="2.1" height="2.0" fill="#111"/>
<rect x="439.50" y="746.35" width="2.1" height="2.0" fill="#111"/>
<rect x="439.50" y="754.19" width="2.1" height="2.0" fill="#111"/>
<rect x="439.50" y="762.02" width="2.1" height="2.0" fill="#111"/>
<rect x="439.50" y="769.86" width="2.1" height="2.0" fill="#111"/>
<rect x="439.50" y="777.69" width="2.1" height="2.0" fill="#111"/>
<rect x="439.50" y="785.53" width="2.1" height="2.0" fill="#111"/>
<rect x="439.50" y="793.36" width="2.1" height="2.0" fill="#111"/>
<rect x="439.50" y="801.20" width="2.1" height="2.0" fill="#111"/>
<rect x="439.50" y="809.03" width="2.1" height="2.0" fill="#111"/>
<rect x="439.50" y="816.87" width="2.1" height="2.0" fill="#111"/>
<rect x="439.50" y="824.70" width="2.1" height="2.0" fill="#111"/>
<rect x="439.50" y="832.54" width="2.1" height="2.0" fill="#111"/>
<rect x="439.50" y="840.37" width="2.1" height="2.0" fill="#111"/>
<rect x="439.50" y="848.21" width="2.1" height="2.0" fill="#111"/>
<rect x="439.50" y="856.04" width="2.1" height="2.0" fill="#111"/>
<rect x="439.50" y="863.88" width="2.1" height="2.0" fill="#111"/>
<rect x="439.50" y="871.71" width="2.1" height="2.0" fill="#111"/>
<rect x="439.50" y="879.55" width="2.1" height="2.0" fill="#111"/>
<rect x="439.00" y="668.10" width="2.4" height="1.8" fill="#111"/>
<text x="439.8" y="673.1" font-family="'Liberation Sans', Arial, sans-serif" font-size="11" font-weight="bold" text-anchor="end" fill="#111" textLength="26.8" lengthAdjust="spacingAndGlyphs" stroke="#111" stroke-width="0.22">4200</text>
<rect x="439.00" y="683.77" width="2.4" height="1.8" fill="#111"/>
<text x="439.8" y="688.8" font-family="'Liberation Sans', Arial, sans-serif" font-size="11" font-weight="bold" text-anchor="end" fill="#111" textLength="26.8" lengthAdjust="spacingAndGlyphs" stroke="#111" stroke-width="0.22">3900</text>
<rect x="439.00" y="699.44" width="2.4" height="1.8" fill="#111"/>
<text x="439.8" y="704.4" font-family="'Liberation Sans', Arial, sans-serif" font-size="11" font-weight="bold" text-anchor="end" fill="#111" textLength="26.8" lengthAdjust="spacingAndGlyphs" stroke="#111" stroke-width="0.22">3600</text>
<rect x="439.00" y="715.11" width="2.4" height="1.8" fill="#111"/>
<text x="439.8" y="720.1" font-family="'Liberation Sans', Arial, sans-serif" font-size="11" font-weight="bold" text-anchor="end" fill="#111" textLength="26.8" lengthAdjust="spacingAndGlyphs" stroke="#111" stroke-width="0.22">3300</text>
<rect x="439.00" y="730.78" width="2.4" height="1.8" fill="#111"/>
<text x="439.8" y="735.8" font-family="'Liberation Sans', Arial, sans-serif" font-size="11" font-weight="bold" text-anchor="end" fill="#111" textLength="26.8" lengthAdjust="spacingAndGlyphs" stroke="#111" stroke-width="0.22">3000</text>
<rect x="439.00" y="746.45" width="2.4" height="1.8" fill="#111"/>
<text x="439.8" y="751.5" font-family="'Liberation Sans', Arial, sans-serif" font-size="11" font-weight="bold" text-anchor="end" fill="#111" textLength="26.8" lengthAdjust="spacingAndGlyphs" stroke="#111" stroke-width="0.22">2700</text>
<rect x="439.00" y="762.12" width="2.4" height="1.8" fill="#111"/>
<text x="439.8" y="767.1" font-family="'Liberation Sans', Arial, sans-serif" font-size="11" font-weight="bold" text-anchor="end" fill="#111" textLength="26.8" lengthAdjust="spacingAndGlyphs" stroke="#111" stroke-width="0.22">2400</text>
<rect x="439.00" y="777.79" width="2.4" height="1.8" fill="#111"/>
<text x="439.8" y="782.8" font-family="'Liberation Sans', Arial, sans-serif" font-size="11" font-weight="bold" text-anchor="end" fill="#111" textLength="26.8" lengthAdjust="spacingAndGlyphs" stroke="#111" stroke-width="0.22">2100</text>
<rect x="439.00" y="793.46" width="2.4" height="1.8" fill="#111"/>
<text x="439.8" y="798.5" font-family="'Liberation Sans', Arial, sans-serif" font-size="11" font-weight="bold" text-anchor="end" fill="#111" textLength="26.8" lengthAdjust="spacingAndGlyphs" stroke="#111" stroke-width="0.22">1800</text>
<rect x="439.00" y="809.13" width="2.4" height="1.8" fill="#111"/>
<text x="439.8" y="814.1" font-family="'Liberation Sans', Arial, sans-serif" font-size="11" font-weight="bold" text-anchor="end" fill="#111" textLength="26.8" lengthAdjust="spacingAndGlyphs" stroke="#111" stroke-width="0.22">1500</text>
<rect x="439.00" y="824.80" width="2.4" height="1.8" fill="#111"/>
<text x="439.8" y="829.8" font-family="'Liberation Sans', Arial, sans-serif" font-size="11" font-weight="bold" text-anchor="end" fill="#111" textLength="26.8" lengthAdjust="spacingAndGlyphs" stroke="#111" stroke-width="0.22">1200</text>
<rect x="439.00" y="840.47" width="2.4" height="1.8" fill="#111"/>
<text x="439.8" y="845.5" font-family="'Liberation Sans', Arial, sans-serif" font-size="11" font-weight="bold" text-anchor="end" fill="#111" textLength="19.8" lengthAdjust="spacingAndGlyphs" stroke="#111" stroke-width="0.22">900</text>
<rect x="439.00" y="856.14" width="2.4" height="1.8" fill="#111"/>
<text x="439.8" y="861.1" font-family="'Liberation Sans', Arial, sans-serif" font-size="11" font-weight="bold" text-anchor="end" fill="#111" textLength="19.8" lengthAdjust="spacingAndGlyphs" stroke="#111" stroke-width="0.22">600</text>
<rect x="439.00" y="871.81" width="2.4" height="1.8" fill="#111"/>
<text x="439.8" y="876.8" font-family="'Liberation Sans', Arial, sans-serif" font-size="11" font-weight="bold" text-anchor="end" fill="#111" textLength="19.8" lengthAdjust="spacingAndGlyphs" stroke="#111" stroke-width="0.22">300</text>
<rect x="461.40" y="650.20" width="1.6" height="4.6" fill="#111"/>
<rect x="493.60" y="650.20" width="1.6" height="4.6" fill="#111"/>
<rect x="530.00" y="650.20" width="1.6" height="4.6" fill="#111"/>
<rect x="565.90" y="650.20" width="1.6" height="4.6" fill="#111"/>
<rect x="600.90" y="650.20" width="1.6" height="4.6" fill="#111"/>
<rect x="635.20" y="650.20" width="1.6" height="4.6" fill="#111"/>
<rect x="672.60" y="650.20" width="1.6" height="4.6" fill="#111"/>
<rect x="707.50" y="650.20" width="1.6" height="4.6" fill="#111"/>
<rect x="743.20" y="650.20" width="1.6" height="4.6" fill="#111"/>
<rect x="778.20" y="650.20" width="1.6" height="4.6" fill="#111"/>
<text x="440.0" y="649.9" font-family="'Liberation Sans', Arial, sans-serif" font-size="11" font-weight="bold" text-anchor="start" fill="#111" textLength="5.8" lengthAdjust="spacingAndGlyphs" stroke="#111" stroke-width="0.22">0</text>
<text x="456.2" y="649.9" font-family="'Liberation Sans', Arial, sans-serif" font-size="11" font-weight="bold" text-anchor="start" fill="#111" textLength="13.2" lengthAdjust="spacingAndGlyphs" stroke="#111" stroke-width="0.22">80</text>
<text x="526.9" y="649.9" font-family="'Liberation Sans', Arial, sans-serif" font-size="11" font-weight="bold" text-anchor="start" fill="#111" textLength="19.1" lengthAdjust="spacingAndGlyphs" stroke="#111" stroke-width="0.22">160</text>
<text x="599.2" y="649.9" font-family="'Liberation Sans', Arial, sans-serif" font-size="11" font-weight="bold" text-anchor="start" fill="#111" textLength="20.0" lengthAdjust="spacingAndGlyphs" stroke="#111" stroke-width="0.22">240</text>
<text x="671.6" y="649.9" font-family="'Liberation Sans', Arial, sans-serif" font-size="11" font-weight="bold" text-anchor="start" fill="#111" textLength="19.4" lengthAdjust="spacingAndGlyphs" stroke="#111" stroke-width="0.22">320</text>
<text x="741.5" y="649.9" font-family="'Liberation Sans', Arial, sans-serif" font-size="11" font-weight="bold" text-anchor="start" fill="#111" textLength="19.5" lengthAdjust="spacingAndGlyphs" stroke="#111" stroke-width="0.22">400</text>
<line x1="455.30" y1="888.30" x2="455.30" y2="893.70" stroke="#333" stroke-width="1.2"/>
<line x1="477.70" y1="888.30" x2="477.70" y2="893.70" stroke="#333" stroke-width="1.2"/>
<line x1="513.90" y1="888.30" x2="513.90" y2="893.70" stroke="#333" stroke-width="1.2"/>
<line x1="567.40" y1="888.30" x2="567.40" y2="893.70" stroke="#333" stroke-width="1.2"/>
<line x1="606.90" y1="888.30" x2="606.90" y2="893.70" stroke="#333" stroke-width="1.2"/>
<line x1="656.90" y1="888.30" x2="656.90" y2="893.70" stroke="#333" stroke-width="1.2"/>
<line x1="692.60" y1="888.30" x2="692.60" y2="893.70" stroke="#333" stroke-width="1.2"/>
<line x1="746.80" y1="888.30" x2="746.80" y2="893.70" stroke="#333" stroke-width="1.2"/>
<line x1="791.50" y1="888.30" x2="791.50" y2="893.70" stroke="#333" stroke-width="1.2"/>
<text x="442.2" y="901.7" font-family="'Liberation Sans', Arial, sans-serif" font-size="11" font-weight="bold" text-anchor="start" fill="#111" textLength="22.4" lengthAdjust="spacingAndGlyphs" stroke="#111" stroke-width="0.22">75.0</text>
<text x="470.9" y="901.7" font-family="'Liberation Sans', Arial, sans-serif" font-size="11" font-weight="bold" text-anchor="start" fill="#111" textLength="29.6" lengthAdjust="spacingAndGlyphs" stroke="#111" stroke-width="0.22">100.0</text>
<text x="506.7" y="901.7" font-family="'Liberation Sans', Arial, sans-serif" font-size="11" font-weight="bold" text-anchor="start" fill="#111" textLength="29.1" lengthAdjust="spacingAndGlyphs" stroke="#111" stroke-width="0.22">139.0</text>
<text x="551.7" y="901.7" font-family="'Liberation Sans', Arial, sans-serif" font-size="11" font-weight="bold" text-anchor="start" fill="#111" textLength="30.7" lengthAdjust="spacingAndGlyphs" stroke="#111" stroke-width="0.22">200.0</text>
<text x="593.0" y="901.7" font-family="'Liberation Sans', Arial, sans-serif" font-size="11" font-weight="bold" text-anchor="start" fill="#111" textLength="29.7" lengthAdjust="spacingAndGlyphs" stroke="#111" stroke-width="0.22">244.4</text>
<text x="641.2" y="901.7" font-family="'Liberation Sans', Arial, sans-serif" font-size="11" font-weight="bold" text-anchor="start" fill="#111" textLength="30.4" lengthAdjust="spacingAndGlyphs" stroke="#111" stroke-width="0.22">300.0</text>
<text x="677.6" y="901.7" font-family="'Liberation Sans', Arial, sans-serif" font-size="11" font-weight="bold" text-anchor="start" fill="#111" textLength="30.0" lengthAdjust="spacingAndGlyphs" stroke="#111" stroke-width="0.22">340.0</text>
<text x="732.8" y="901.7" font-family="'Liberation Sans', Arial, sans-serif" font-size="11" font-weight="bold" text-anchor="start" fill="#111" textLength="30.4" lengthAdjust="spacingAndGlyphs" stroke="#111" stroke-width="0.22">400.0</text>
<text x="773.0" y="901.7" font-family="'Liberation Sans', Arial, sans-serif" font-size="11" font-weight="bold" text-anchor="start" fill="#111" textLength="30.4" lengthAdjust="spacingAndGlyphs" stroke="#111" stroke-width="0.22">450.0</text>
<text x="606.2" y="922.1" font-family="'Liberation Sans', Arial, sans-serif" font-size="12" font-weight="bold" text-anchor="start" fill="#111" textLength="80.1" lengthAdjust="spacingAndGlyphs" stroke="#111" stroke-width="0.22">Allele size (bp)</text>
<text transform="translate(405.1,807.4) rotate(-90)" x="0" y="0" font-family="'Liberation Sans', Arial, sans-serif" font-size="12" font-weight="bold" fill="#111" stroke="#111" stroke-width="0.22" textLength="70.2" lengthAdjust="spacingAndGlyphs">Allele height</text>
<polyline points="441.60,888.30 441.70,887.42 441.79,886.54 441.90,884.78 442.01,881.85 442.11,878.04 442.20,873.65 442.28,869.25 442.37,864.86 442.44,861.93 442.52,859.88 442.60,859.00 442.68,859.88 442.76,861.93 442.83,864.86 442.92,869.25 443.00,873.65 443.09,878.04 443.19,881.85 443.30,884.78 443.41,886.54 443.50,887.42 443.60,888.30" fill="none" stroke="#fda45e" stroke-width="1.0" stroke-linejoin="round"/>
<polyline points="454.00,888.30 454.29,883.28 454.38,878.26 454.49,868.22 454.60,851.49 454.70,829.75 454.79,804.65 454.88,779.55 454.97,754.46 455.04,737.73 455.11,726.02 455.20,721.00 455.29,726.02 455.36,737.73 455.43,754.46 455.52,779.55 455.61,804.65 455.70,829.75 455.80,851.49 455.91,868.22 456.02,878.26 456.11,883.28 456.40,888.30" fill="none" stroke="#fda45e" stroke-width="1.0" stroke-linejoin="round"/>
<polyline points="476.40,888.30 476.71,883.43 476.81,878.56 476.93,868.82 477.05,852.59 477.16,831.50 477.26,807.15 477.35,782.80 477.45,758.46 477.53,742.23 477.61,730.87 477.70,726.00 477.79,730.87 477.87,742.23 477.95,758.46 478.05,782.80 478.14,807.15 478.24,831.50 478.35,852.59 478.47,868.82 478.59,878.56 478.69,883.43 479.00,888.30" fill="none" stroke="#fda45e" stroke-width="1.0" stroke-linejoin="round"/>
<polyline points="511.60,888.30 511.93,883.60 512.04,878.89 512.17,869.48 512.30,853.80 512.41,833.42 512.52,809.90 512.62,786.38 512.73,762.86 512.81,747.18 512.90,736.20 513.00,731.50 513.10,736.20 513.19,747.18 513.27,762.86 513.38,786.38 513.48,809.90 513.59,833.42 513.70,853.80 513.83,869.48 513.96,878.89 514.07,883.60 514.40,888.30" fill="none" stroke="#fda45e" stroke-width="1.0" stroke-linejoin="round"/>
<polyline points="520.90,888.30 521.25,883.66 521.37,879.02 521.51,869.75 521.64,854.29 521.77,834.19 521.89,811.00 522.00,787.81 522.11,764.62 522.20,749.16 522.29,738.34 522.40,733.70 522.51,738.34 522.60,749.16 522.69,764.62 522.80,787.81 522.91,811.00 523.03,834.19 523.16,854.29 523.29,869.75 523.43,879.02 523.55,883.66 523.90,888.30" fill="none" stroke="#fda45e" stroke-width="1.0" stroke-linejoin="round"/>
<polyline points="529.90,888.30 530.27,883.76 530.40,879.22 530.54,870.14 530.69,855.01 530.83,835.35 530.95,812.65 531.07,789.95 531.19,767.26 531.29,752.13 531.39,741.54 531.50,737.00 531.61,741.54 531.71,752.13 531.81,767.26 531.93,789.95 532.05,812.65 532.17,835.35 532.31,855.01 532.46,870.14 532.60,879.22 532.73,883.76 533.10,888.30" fill="none" stroke="#fda45e" stroke-width="1.0" stroke-linejoin="round"/>
<polyline points="565.40,888.30 565.85,884.29 566.01,880.28 566.19,872.26 566.38,858.89 566.55,841.50 566.71,821.45 566.86,801.39 567.01,781.34 567.13,767.97 567.26,758.61 567.40,754.60 567.54,758.61 567.67,767.97 567.79,781.34 567.94,801.39 568.09,821.45 568.25,841.50 568.42,858.89 568.61,872.26 568.79,880.28 568.95,884.29 569.40,888.30" fill="none" stroke="#fda45e" stroke-width="1.0" stroke-linejoin="round"/>
<polyline points="604.70,888.30 605.16,884.94 605.35,881.58 605.55,874.86 605.76,863.66 605.95,849.10 606.13,832.30 606.29,815.50 606.46,798.70 606.60,787.50 606.74,779.66 606.90,776.30 607.06,779.66 607.20,787.50 607.34,798.70 607.51,815.50 607.67,832.30 607.85,849.10 608.04,863.66 608.25,874.86 608.45,881.58 608.64,884.94 609.10,888.30" fill="none" stroke="#fda45e" stroke-width="1.0" stroke-linejoin="round"/>
<polyline points="654.30,888.30 654.83,885.25 655.05,882.21 655.29,876.12 655.54,865.97 655.77,852.77 655.98,837.55 656.17,822.32 656.38,807.10 656.54,796.95 656.71,789.84 656.90,786.80 657.09,789.84 657.26,796.95 657.42,807.10 657.63,822.32 657.82,837.55 658.03,852.77 658.26,865.97 658.51,876.12 658.75,882.21 658.97,885.25 659.50,888.30" fill="none" stroke="#fda45e" stroke-width="1.0" stroke-linejoin="round"/>
<polyline points="690.10,888.30 690.59,885.55 690.80,882.80 691.04,877.30 691.28,868.13 691.50,856.20 691.71,842.45 691.90,828.70 692.09,814.94 692.25,805.77 692.41,799.35 692.60,796.60 692.79,799.35 692.95,805.77 693.11,814.94 693.30,828.70 693.49,842.45 693.70,856.20 693.92,868.13 694.16,877.30 694.40,882.80 694.61,885.55 695.10,888.30" fill="none" stroke="#fda45e" stroke-width="1.0" stroke-linejoin="round"/>
<polyline points="699.30,888.30 699.77,885.58 699.97,882.86 700.20,877.42 700.43,868.35 700.64,856.55 700.84,842.95 701.02,829.35 701.21,815.74 701.37,806.67 701.52,800.32 701.70,797.60 701.88,800.32 702.03,806.67 702.19,815.74 702.38,829.35 702.56,842.95 702.76,856.55 702.97,868.35 703.20,877.42 703.43,882.86 703.63,885.58 704.10,888.30" fill="none" stroke="#fda45e" stroke-width="1.0" stroke-linejoin="round"/>
<polyline points="743.80,888.30 744.36,885.88 744.62,883.47 744.90,878.64 745.20,870.59 745.47,860.12 745.72,848.05 745.95,835.97 746.18,823.90 746.38,815.85 746.57,810.21 746.80,807.80 747.03,810.21 747.22,815.85 747.42,823.90 747.65,835.97 747.88,848.05 748.13,860.12 748.40,870.59 748.70,878.64 748.98,883.47 749.24,885.88 749.80,888.30" fill="none" stroke="#fda45e" stroke-width="1.0" stroke-linejoin="round"/>
<polyline points="788.00,888.30 788.59,886.39 788.89,884.47 789.24,880.64 789.59,874.26 789.91,865.97 790.21,856.40 790.48,846.83 790.77,837.26 791.00,830.88 791.23,826.41 791.50,824.50 791.77,826.41 792.00,830.88 792.23,837.26 792.52,846.83 792.79,856.40 793.09,865.97 793.41,874.26 793.76,880.64 794.11,884.47 794.41,886.39 795.00,888.30" fill="none" stroke="#fda45e" stroke-width="1.0" stroke-linejoin="round"/>
<polyline points="731.10,888.30 731.16,887.78 731.30,887.35 731.44,886.79 731.56,886.15 731.67,885.50 731.79,884.86 731.89,884.43 731.99,884.13 732.10,884.00 732.21,884.13 732.31,884.43 732.41,884.86 732.53,885.50 732.64,886.15 732.76,886.79 732.90,887.35 733.04,887.78 733.10,888.30" fill="none" stroke="#fda45e" stroke-width="1.0" stroke-linejoin="round"/>
<rect x="632.00" y="887.40" width="3.40" height="1.2" fill="#6060e0" opacity="0.3"/>
<rect x="639.64" y="887.40" width="2.61" height="1.2" fill="#6060e0" opacity="0.3"/>
<rect x="645.58" y="887.40" width="2.76" height="1.2" fill="#6060e0" opacity="0.3"/>
<rect x="651.38" y="887.40" width="3.23" height="1.2" fill="#6060e0" opacity="0.3"/>
<rect x="657.47" y="887.40" width="2.83" height="1.2" fill="#6060e0" opacity="0.3"/>
<rect x="663.24" y="887.40" width="3.85" height="1.2" fill="#6060e0" opacity="0.3"/>
<rect x="670.69" y="887.40" width="3.69" height="1.2" fill="#6060e0" opacity="0.3"/>
<rect x="678.71" y="887.40" width="2.15" height="1.2" fill="#6060e0" opacity="0.3"/>
<rect x="684.04" y="887.40" width="3.86" height="1.2" fill="#6060e0" opacity="0.3"/>
<rect x="691.91" y="887.40" width="1.84" height="1.2" fill="#6060e0" opacity="0.3"/>
<rect x="695.62" y="887.40" width="2.61" height="1.2" fill="#6060e0" opacity="0.3"/>
<rect x="699.95" y="887.40" width="2.10" height="1.2" fill="#6060e0" opacity="0.3"/>
<rect x="703.77" y="887.40" width="3.17" height="1.2" fill="#6060e0" opacity="0.3"/>
<rect x="710.79" y="887.40" width="3.74" height="1.2" fill="#6060e0" opacity="0.3"/>
<rect x="716.50" y="887.40" width="3.29" height="1.2" fill="#6060e0" opacity="0.3"/>
<rect x="723.27" y="887.40" width="1.86" height="1.2" fill="#6060e0" opacity="0.3"/>
<rect x="729.27" y="887.40" width="3.92" height="1.2" fill="#6060e0" opacity="0.3"/>
<rect x="735.35" y="887.40" width="3.88" height="1.2" fill="#6060e0" opacity="0.3"/>
<rect x="741.93" y="887.40" width="2.72" height="1.2" fill="#6060e0" opacity="0.3"/>
<rect x="749.12" y="887.40" width="3.58" height="1.2" fill="#6060e0" opacity="0.3"/>
<rect x="754.68" y="887.40" width="2.58" height="1.2" fill="#6060e0" opacity="0.3"/>
<rect x="760.31" y="887.40" width="2.35" height="1.2" fill="#6060e0" opacity="0.3"/>
<rect x="764.74" y="887.40" width="2.30" height="1.2" fill="#6060e0" opacity="0.3"/>
<rect x="770.71" y="887.40" width="1.55" height="1.2" fill="#6060e0" opacity="0.3"/>
<rect x="775.42" y="887.40" width="2.60" height="1.2" fill="#6060e0" opacity="0.3"/>
<rect x="779.57" y="887.40" width="2.33" height="1.2" fill="#6060e0" opacity="0.3"/>
<rect x="785.27" y="887.40" width="2.78" height="1.2" fill="#6060e0" opacity="0.3"/>
<rect x="789.75" y="887.40" width="3.96" height="1.2" fill="#6060e0" opacity="0.3"/>
<rect x="797.57" y="887.40" width="3.93" height="1.2" fill="#6060e0" opacity="0.3"/>
<rect x="803.32" y="887.40" width="2.16" height="1.2" fill="#6060e0" opacity="0.3"/>
<rect x="807.10" y="887.40" width="3.45" height="1.2" fill="#6060e0" opacity="0.3"/>
<polygon points="444.65,888.30 444.85,852.60 445.50,852.00 446.15,852.60 446.35,888.30" fill="#2c2cff" opacity="1"/>
<polygon points="447.05,888.30 447.25,859.60 447.90,859.00 448.55,859.60 448.75,888.30" fill="#2c2cff" opacity="1"/>
<polygon points="449.25,888.30 449.45,867.60 450.10,867.00 450.75,867.60 450.95,888.30" fill="#2c2cff" opacity="1"/>
<polygon points="451.40,888.30 451.95,802.60 452.60,802.00 453.25,802.60 453.80,888.30" fill="#2c2cff" opacity="1"/>
<polygon points="455.90,888.30 456.45,833.60 457.10,833.00 457.75,833.60 458.30,888.30" fill="#2c2cff" opacity="1"/>
<polygon points="459.80,888.30 460.35,833.20 461.00,832.60 461.65,833.20 462.20,888.30" fill="#2c2cff" opacity="1"/>
<polygon points="463.15,888.30 463.35,862.60 464.00,862.00 464.65,862.60 464.85,888.30" fill="#2c2cff" opacity="1"/>
<polygon points="466.15,888.30 466.35,856.20 467.00,855.60 467.65,856.20 467.85,888.30" fill="#2c2cff" opacity="1"/>
<polygon points="469.15,888.30 469.35,867.60 470.00,867.00 470.65,867.60 470.85,888.30" fill="#2c2cff" opacity="1"/>
<polygon points="472.15,888.30 472.35,876.10 473.00,875.50 473.65,876.10 473.85,888.30" fill="#2c2cff" opacity="1"/>
<polygon points="475.15,888.30 475.35,880.60 476.00,880.00 476.65,880.60 476.85,888.30" fill="#2c2cff" opacity="1"/>
<polygon points="478.15,888.30 478.35,883.60 479.00,883.00 479.65,883.60 479.85,888.30" fill="#2c2cff" opacity="1"/>
<polygon points="481.15,888.30 481.35,885.60 482.00,885.00 482.65,885.60 482.85,888.30" fill="#2c2cff" opacity="1"/>
<polygon points="484.15,888.30 484.35,886.10 485.00,885.50 485.65,886.10 485.85,888.30" fill="#2c2cff" opacity="1"/>
<rect x="458.90" y="655.70" width="1.60" height="232.60" fill="#f0a070"/>
<rect x="462.10" y="655.70" width="1.60" height="232.60" fill="#d0709a"/>
<line x1="466.60" y1="682.00" x2="466.60" y2="659.70" stroke="#c04060" stroke-width="0.9" stroke-dasharray="1.3,1.3"/>
<polygon points="442.65,888.30 442.85,812.60 443.60,812.00 444.35,812.60 444.55,888.30" fill="#3838ff" opacity="1"/>
<polygon points="450.65,888.30 451.05,737.30 451.80,736.70 452.55,737.30 452.95,888.30" fill="#3838ff" opacity="1"/>
<polygon points="453.35,888.30 453.75,754.30 454.50,753.70 455.25,754.30 455.65,888.30" fill="#3838ff" opacity="1"/>
<polygon points="457.55,888.30 457.95,782.60 458.70,782.00 459.45,782.60 459.85,888.30" fill="#3838ff" opacity="1"/>
<polygon points="458.85,888.30 459.25,683.00 460.00,682.40 460.75,683.00 461.15,888.30" fill="#3838ff" opacity="1"/>
<polygon points="461.45,888.30 461.85,682.20 462.60,681.60 463.35,682.20 463.75,888.30" fill="#3838ff" opacity="1"/>
<polygon points="464.65,888.30 465.05,656.30 465.80,655.70 466.55,656.30 466.95,888.30" fill="#3838ff" opacity="1"/>
<polygon points="467.55,888.30 467.75,683.80 468.50,683.20 469.25,683.80 469.45,888.30" fill="#3838ff" opacity="1"/>
<polygon points="470.25,888.30 470.45,702.50 471.20,701.90 471.95,702.50 472.15,888.30" fill="#3838ff" opacity="1"/>
<polygon points="473.05,888.30 473.25,720.60 474.00,720.00 474.75,720.60 474.95,888.30" fill="#3838ff" opacity="1"/>
<polygon points="475.95,888.30 476.15,718.60 476.90,718.00 477.65,718.60 477.85,888.30" fill="#3838ff" opacity="1"/>
<polygon points="478.55,888.30 478.75,734.90 479.50,734.30 480.25,734.90 480.45,888.30" fill="#3838ff" opacity="1"/>
<polygon points="481.15,888.30 481.35,747.00 482.10,746.40 482.85,747.00 483.05,888.30" fill="#3838ff" opacity="1"/>
<polygon points="483.75,888.30 483.95,755.60 484.70,755.00 485.45,755.60 485.65,888.30" fill="#3838ff" opacity="1"/>
<polygon points="486.15,888.30 486.35,768.10 487.10,767.50 487.85,768.10 488.05,888.30" fill="#3838ff" opacity="1"/>
<polygon points="488.55,888.30 488.75,777.80 489.50,777.20 490.25,777.80 490.45,888.30" fill="#3838ff" opacity="1"/>
<polygon points="491.05,888.30 491.25,846.70 492.00,846.10 492.75,846.70 492.95,888.30" fill="#3838ff" opacity="1"/>
<polygon points="493.35,888.30 493.55,853.00 494.30,852.40 495.05,853.00 495.25,888.30" fill="#3838ff" opacity="1"/>
<polygon points="495.95,888.30 496.15,843.50 496.90,842.90 497.65,843.50 497.85,888.30" fill="#3838ff" opacity="1"/>
<polygon points="498.35,888.30 498.55,851.20 499.30,850.60 500.05,851.20 500.25,888.30" fill="#3838ff" opacity="1"/>
<polygon points="500.85,888.30 501.05,855.10 501.80,854.50 502.55,855.10 502.75,888.30" fill="#3838ff" opacity="1"/>
<polygon points="503.45,888.30 503.65,855.60 504.40,855.00 505.15,855.60 505.35,888.30" fill="#3838ff" opacity="1"/>
<polygon points="505.95,888.30 506.15,858.90 506.90,858.30 507.65,858.90 507.85,888.30" fill="#3838ff" opacity="1"/>
<polygon points="508.55,888.30 508.75,862.80 509.50,862.20 510.25,862.80 510.45,888.30" fill="#3838ff" opacity="1"/>
<polygon points="511.15,888.30 511.35,867.30 512.10,866.70 512.85,867.30 513.05,888.30" fill="#3838ff" opacity="1"/>
<polygon points="513.85,888.30 514.05,868.20 514.80,867.60 515.55,868.20 515.75,888.30" fill="#3838ff" opacity="1"/>
<polygon points="516.45,888.30 516.65,868.60 517.40,868.00 518.15,868.60 518.35,888.30" fill="#3838ff" opacity="1"/>
<polygon points="519.05,888.30 519.25,869.90 520.00,869.30 520.75,869.90 520.95,888.30" fill="#3838ff" opacity="1"/>
<polygon points="521.65,888.30 521.85,870.34 522.60,869.74 523.35,870.34 523.55,888.30" fill="#3838ff" opacity="1"/>
<polygon points="524.25,888.30 524.45,870.78 525.20,870.18 525.95,870.78 526.15,888.30" fill="#3838ff" opacity="1"/>
<polygon points="526.85,888.30 527.05,871.23 527.80,870.63 528.55,871.23 528.75,888.30" fill="#3838ff" opacity="1"/>
<polygon points="529.45,888.30 529.65,871.68 530.40,871.08 531.15,871.68 531.35,888.30" fill="#3838ff" opacity="1"/>
<polygon points="532.05,888.30 532.25,872.20 533.00,871.60 533.75,872.20 533.95,888.30" fill="#3838ff" opacity="1"/>
<polygon points="534.65,888.30 534.85,872.72 535.60,872.12 536.35,872.72 536.55,888.30" fill="#3838ff" opacity="1"/>
<polygon points="537.25,888.30 537.45,873.24 538.20,872.64 538.95,873.24 539.15,888.30" fill="#3838ff" opacity="1"/>
<polygon points="539.85,888.30 540.05,873.83 540.80,873.23 541.55,873.83 541.75,888.30" fill="#3838ff" opacity="1"/>
<polygon points="542.45,888.30 542.65,874.59 543.40,873.99 544.15,874.59 544.35,888.30" fill="#3838ff" opacity="1"/>
<polygon points="545.05,888.30 545.25,875.34 546.00,874.74 546.75,875.34 546.95,888.30" fill="#3838ff" opacity="1"/>
<polygon points="547.65,888.30 547.85,876.09 548.60,875.49 549.35,876.09 549.55,888.30" fill="#3838ff" opacity="1"/>
<polygon points="550.25,888.30 550.45,876.84 551.20,876.24 551.95,876.84 552.15,888.30" fill="#3838ff" opacity="1"/>
<polygon points="552.85,888.30 553.05,877.56 553.80,876.96 554.55,877.56 554.75,888.30" fill="#3838ff" opacity="1"/>
<polygon points="555.45,888.30 555.65,878.29 556.40,877.69 557.15,878.29 557.35,888.30" fill="#3838ff" opacity="1"/>
<polygon points="558.05,888.30 558.25,879.02 559.00,878.42 559.75,879.02 559.95,888.30" fill="#3838ff" opacity="1"/>
<polygon points="560.65,888.30 560.85,879.60 561.60,879.00 562.35,879.60 562.55,888.30" fill="#3838ff" opacity="1"/>
<polygon points="563.25,888.30 563.45,880.10 564.20,879.50 564.95,880.10 565.15,888.30" fill="#3838ff" opacity="1"/>
<polygon points="565.85,888.30 566.05,880.59 566.80,879.99 567.55,880.59 567.75,888.30" fill="#3838ff" opacity="1"/>
<polygon points="568.45,888.30 568.65,881.09 569.40,880.49 570.15,881.09 570.35,888.30" fill="#3838ff" opacity="1"/>
<polygon points="571.05,888.30 571.25,881.38 572.00,880.78 572.75,881.38 572.95,888.30" fill="#3838ff" opacity="1"/>
<polygon points="573.65,888.30 573.85,881.61 574.60,881.01 575.35,881.61 575.55,888.30" fill="#3838ff" opacity="1"/>
<polygon points="576.25,888.30 576.45,881.85 577.20,881.25 577.95,881.85 578.15,888.30" fill="#3838ff" opacity="1"/>
<polygon points="578.85,888.30 579.05,882.08 579.80,881.48 580.55,882.08 580.75,888.30" fill="#3838ff" opacity="1"/>
<polygon points="581.45,888.30 581.65,882.34 582.40,881.74 583.15,882.34 583.35,888.30" fill="#3838ff" opacity="1"/>
<polygon points="584.05,888.30 584.25,882.60 585.00,882.00 585.75,882.60 585.95,888.30" fill="#3838ff" opacity="1"/>
<polygon points="586.65,888.30 586.85,882.86 587.60,882.26 588.35,882.86 588.55,888.30" fill="#3838ff" opacity="1"/>
<polygon points="589.25,888.30 589.45,883.11 590.20,882.51 590.95,883.11 591.15,888.30" fill="#3838ff" opacity="1"/>
<polygon points="591.85,888.30 592.05,883.21 592.80,882.61 593.55,883.21 593.75,888.30" fill="#3838ff" opacity="1"/>
<polygon points="594.45,888.30 594.65,883.32 595.40,882.72 596.15,883.32 596.35,888.30" fill="#3838ff" opacity="1"/>
<polygon points="597.05,888.30 597.25,883.42 598.00,882.82 598.75,883.42 598.95,888.30" fill="#3838ff" opacity="1"/>
<polygon points="599.65,888.30 599.85,883.53 600.60,882.93 601.35,883.53 601.55,888.30" fill="#3838ff" opacity="1"/>
<polygon points="602.25,888.30 602.45,883.66 603.20,883.06 603.95,883.66 604.15,888.30" fill="#3838ff" opacity="1"/>
<polygon points="604.85,888.30 605.05,883.79 605.80,883.19 606.55,883.79 606.75,888.30" fill="#3838ff" opacity="1"/>
<polygon points="607.45,888.30 607.65,883.92 608.40,883.32 609.15,883.92 609.35,888.30" fill="#3838ff" opacity="1"/>
<polygon points="610.05,888.30 610.25,883.87 611.00,883.27 611.75,883.87 611.95,888.30" fill="#3838ff" opacity="1"/>
<polygon points="612.65,888.30 612.85,883.52 613.60,882.92 614.35,883.52 614.55,888.30" fill="#3838ff" opacity="1"/>
<polygon points="615.25,888.30 615.45,883.22 616.20,882.62 616.95,883.22 617.15,888.30" fill="#3838ff" opacity="1"/>
<polygon points="617.85,888.30 618.05,883.41 618.80,882.81 619.55,883.41 619.75,888.30" fill="#3838ff" opacity="1"/>
<polygon points="620.45,888.30 620.65,884.45 621.40,883.85 622.15,884.45 622.35,888.30" fill="#3838ff" opacity="1"/>
<polygon points="623.05,888.30 623.25,886.22 624.00,885.62 624.75,886.22 624.95,888.30" fill="#3838ff" opacity="1"/>
<polygon points="625.65,888.30 625.85,887.44 626.60,886.84 627.35,887.44 627.55,888.30" fill="#3838ff" opacity="1"/>
<polygon points="628.25,888.30 628.45,888.33 629.20,887.73 629.95,888.33 630.15,888.30" fill="#3838ff" opacity="1"/>
<polygon points="520.55,888.30 520.85,883.25 521.30,882.65 521.75,883.25 522.05,888.30" fill="#4a4aff" opacity="1"/>
<polygon points="523.15,888.30 523.45,882.36 523.90,881.76 524.35,882.36 524.65,888.30" fill="#4a4aff" opacity="1"/>
<polygon points="525.75,888.30 526.05,880.85 526.50,880.25 526.95,880.85 527.25,888.30" fill="#4a4aff" opacity="1"/>
<polygon points="528.35,888.30 528.65,881.31 529.10,880.71 529.55,881.31 529.85,888.30" fill="#4a4aff" opacity="1"/>
<polygon points="530.95,888.30 531.25,883.26 531.70,882.66 532.15,883.26 532.45,888.30" fill="#4a4aff" opacity="1"/>
<polygon points="533.55,888.30 533.85,883.72 534.30,883.12 534.75,883.72 535.05,888.30" fill="#4a4aff" opacity="1"/>
<polygon points="536.15,888.30 536.45,881.45 536.90,880.85 537.35,881.45 537.65,888.30" fill="#4a4aff" opacity="1"/>
<polygon points="538.75,888.30 539.05,882.66 539.50,882.06 539.95,882.66 540.25,888.30" fill="#4a4aff" opacity="1"/>
<polygon points="541.35,888.30 541.65,882.41 542.10,881.81 542.55,882.41 542.85,888.30" fill="#4a4aff" opacity="1"/>
<polygon points="543.95,888.30 544.25,884.32 544.70,883.72 545.15,884.32 545.45,888.30" fill="#4a4aff" opacity="1"/>
<polygon points="546.55,888.30 546.85,884.51 547.30,883.91 547.75,884.51 548.05,888.30" fill="#4a4aff" opacity="1"/>
<polygon points="549.15,888.30 549.45,882.88 549.90,882.28 550.35,882.88 550.65,888.30" fill="#4a4aff" opacity="1"/>
<polygon points="551.75,888.30 552.05,883.73 552.50,883.13 552.95,883.73 553.25,888.30" fill="#4a4aff" opacity="1"/>
<polygon points="554.35,888.30 554.65,884.78 555.10,884.18 555.55,884.78 555.85,888.30" fill="#4a4aff" opacity="1"/>
<polygon points="556.95,888.30 557.25,882.66 557.70,882.06 558.15,882.66 558.45,888.30" fill="#4a4aff" opacity="1"/>
<polygon points="559.55,888.30 559.85,883.58 560.30,882.98 560.75,883.58 561.05,888.30" fill="#4a4aff" opacity="1"/>
<polygon points="562.15,888.30 562.45,883.31 562.90,882.71 563.35,883.31 563.65,888.30" fill="#4a4aff" opacity="1"/>
<polygon points="564.75,888.30 565.05,885.16 565.50,884.56 565.95,885.16 566.25,888.30" fill="#4a4aff" opacity="1"/>
<polygon points="567.35,888.30 567.65,883.49 568.10,882.89 568.55,883.49 568.85,888.30" fill="#4a4aff" opacity="1"/>
<polygon points="569.95,888.30 570.25,885.40 570.70,884.80 571.15,885.40 571.45,888.30" fill="#4a4aff" opacity="1"/>
<polygon points="572.55,888.30 572.85,883.78 573.30,883.18 573.75,883.78 574.05,888.30" fill="#4a4aff" opacity="1"/>
<polygon points="575.15,888.30 575.45,884.79 575.90,884.19 576.35,884.79 576.65,888.30" fill="#4a4aff" opacity="1"/>
<polygon points="577.75,888.30 578.05,885.15 578.50,884.55 578.95,885.15 579.25,888.30" fill="#4a4aff" opacity="1"/>
<polygon points="580.35,888.30 580.65,884.85 581.10,884.25 581.55,884.85 581.85,888.30" fill="#4a4aff" opacity="1"/>
<polygon points="582.95,888.30 583.25,884.27 583.70,883.67 584.15,884.27 584.45,888.30" fill="#4a4aff" opacity="1"/>
<polygon points="585.55,888.30 585.85,885.64 586.30,885.04 586.75,885.64 587.05,888.30" fill="#4a4aff" opacity="1"/>
<polygon points="588.15,888.30 588.45,886.00 588.90,885.40 589.35,886.00 589.65,888.30" fill="#4a4aff" opacity="1"/>
<polygon points="590.75,888.30 591.05,885.43 591.50,884.83 591.95,885.43 592.25,888.30" fill="#4a4aff" opacity="1"/>
<polygon points="593.35,888.30 593.65,886.04 594.10,885.44 594.55,886.04 594.85,888.30" fill="#4a4aff" opacity="1"/>
<polygon points="595.95,888.30 596.25,886.35 596.70,885.75 597.15,886.35 597.45,888.30" fill="#4a4aff" opacity="1"/>
<polygon points="598.55,888.30 598.85,886.38 599.30,885.78 599.75,886.38 600.05,888.30" fill="#4a4aff" opacity="1"/>
<polygon points="601.15,888.30 601.45,886.68 601.90,886.08 602.35,886.68 602.65,888.30" fill="#4a4aff" opacity="1"/>
<polygon points="603.75,888.30 604.05,886.62 604.50,886.02 604.95,886.62 605.25,888.30" fill="#4a4aff" opacity="1"/>
<polygon points="606.35,888.30 606.65,886.64 607.10,886.04 607.55,886.64 607.85,888.30" fill="#4a4aff" opacity="1"/>
<polygon points="608.95,888.30 609.25,886.82 609.70,886.22 610.15,886.82 610.45,888.30" fill="#4a4aff" opacity="1"/>
<polygon points="611.55,888.30 611.85,886.50 612.30,885.90 612.75,886.50 613.05,888.30" fill="#4a4aff" opacity="1"/>
<polygon points="614.15,888.30 614.45,887.17 614.90,886.57 615.35,887.17 615.65,888.30" fill="#4a4aff" opacity="1"/>
<polygon points="616.75,888.30 617.05,887.15 617.50,886.55 617.95,887.15 618.25,888.30" fill="#4a4aff" opacity="1"/>
<polygon points="619.35,888.30 619.65,887.59 620.10,886.99 620.55,887.59 620.85,888.30" fill="#4a4aff" opacity="1"/>
<polygon points="621.95,888.30 622.25,887.63 622.70,887.03 623.15,887.63 623.45,888.30" fill="#4a4aff" opacity="1"/>
<polygon points="624.55,888.30 624.85,887.99 625.30,887.39 625.75,887.99 626.05,888.30" fill="#4a4aff" opacity="1"/>
<polygon points="627.15,888.30 627.45,888.02 627.90,887.42 628.35,888.02 628.65,888.30" fill="#4a4aff" opacity="1"/>
<line x1="619.30" y1="843.00" x2="619.30" y2="883.00" stroke="#000" stroke-width="2.5"/>
<text x="607.6" y="840.1" font-family="'Liberation Sans', Arial, sans-serif" font-size="11" font-weight="bold" text-anchor="start" fill="#111" textLength="37.0" lengthAdjust="spacingAndGlyphs" stroke="#111" stroke-width="0.22">260.21</text>
</svg></body></html>
